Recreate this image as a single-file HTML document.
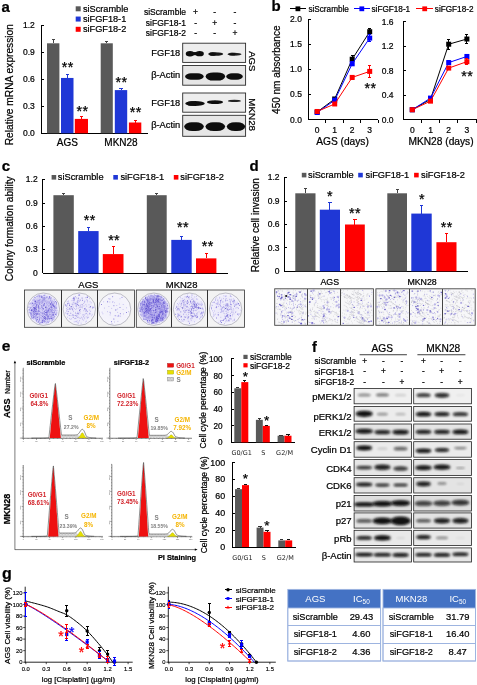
<!DOCTYPE html>
<html><head><meta charset="utf-8"><title>Figure</title>
<style>
html,body{margin:0;padding:0;background:#fff;}
svg{display:block;font-family:"Liberation Sans",sans-serif;}
text:not([fill]):not([stroke]){stroke:#000;stroke-width:.22px}
</style></head><body>
<svg width="477" height="685" viewBox="0 0 477 685">
<defs>
<filter id="b1" x="-20%" y="-60%" width="140%" height="220%"><feGaussianBlur stdDeviation="0.8"/></filter>
<filter id="ba" x="-20%" y="-50%" width="140%" height="200%"><feGaussianBlur stdDeviation="0.55"/></filter>
<filter id="b2" x="-20%" y="-50%" width="140%" height="200%"><feGaussianBlur stdDeviation="1.0"/></filter>
<filter id="b0" x="-20%" y="-20%" width="140%" height="140%"><feGaussianBlur stdDeviation="0.35"/></filter>
<pattern id="hat" width="1.5" height="1.5" patternUnits="userSpaceOnUse"><rect width="1.5" height="1.5" fill="#e8e8e8"/><path d="M0 1.5L1.5 0" stroke="#888" stroke-width="0.4"/></pattern>
</defs>
<rect width="477" height="685" fill="#fff"/>
<text x="1.50" y="11.90" font-size="15" font-weight="bold">a</text>
<line x1="41.20" y1="24.80" x2="41.20" y2="133.30" stroke="#000" stroke-width="1" shape-rendering="crispEdges"/>
<line x1="41.20" y1="133.30" x2="148.00" y2="133.30" stroke="#000" stroke-width="1" shape-rendering="crispEdges"/>
<line x1="41.20" y1="133.30" x2="43.70" y2="133.30" stroke="#000" stroke-width="1" shape-rendering="crispEdges"/>
<text x="34.80" y="136.30" font-size="8.5" text-anchor="end">0.0</text>
<line x1="41.20" y1="106.30" x2="43.70" y2="106.30" stroke="#000" stroke-width="1" shape-rendering="crispEdges"/>
<text x="34.80" y="109.30" font-size="8.5" text-anchor="end">0.3</text>
<line x1="41.20" y1="79.30" x2="43.70" y2="79.30" stroke="#000" stroke-width="1" shape-rendering="crispEdges"/>
<text x="34.80" y="82.30" font-size="8.5" text-anchor="end">0.6</text>
<line x1="41.20" y1="52.30" x2="43.70" y2="52.30" stroke="#000" stroke-width="1" shape-rendering="crispEdges"/>
<text x="34.80" y="55.30" font-size="8.5" text-anchor="end">0.9</text>
<line x1="41.20" y1="25.30" x2="43.70" y2="25.30" stroke="#000" stroke-width="1" shape-rendering="crispEdges"/>
<text x="34.80" y="28.30" font-size="8.5" text-anchor="end">1.2</text>
<text transform="translate(13.20,84.70) rotate(-90)" font-size="10.2" text-anchor="middle">Relative mRNA expression</text>
<rect x="47.00" y="43.30" width="12.40" height="90.00" fill="#595959"/>
<line x1="53.20" y1="43.30" x2="53.20" y2="39.70" stroke="#444" stroke-width="1" shape-rendering="crispEdges"/>
<line x1="51.60" y1="39.70" x2="54.80" y2="39.70" stroke="#444" stroke-width="1" shape-rendering="crispEdges"/>
<rect x="61.00" y="77.95" width="12.50" height="55.35" fill="#1f37d6"/>
<line x1="67.25" y1="77.95" x2="67.25" y2="74.35" stroke="#1f37d6" stroke-width="1" shape-rendering="crispEdges"/>
<line x1="65.65" y1="74.35" x2="68.85" y2="74.35" stroke="#1f37d6" stroke-width="1" shape-rendering="crispEdges"/>
<rect x="74.80" y="118.90" width="13.20" height="14.40" fill="#ff0000"/>
<line x1="81.40" y1="118.90" x2="81.40" y2="116.20" stroke="#ff0000" stroke-width="1" shape-rendering="crispEdges"/>
<line x1="79.80" y1="116.20" x2="83.00" y2="116.20" stroke="#ff0000" stroke-width="1" shape-rendering="crispEdges"/>
<rect x="100.70" y="43.30" width="12.10" height="90.00" fill="#595959"/>
<line x1="106.75" y1="43.30" x2="106.75" y2="41.50" stroke="#444" stroke-width="1" shape-rendering="crispEdges"/>
<line x1="105.15" y1="41.50" x2="108.35" y2="41.50" stroke="#444" stroke-width="1" shape-rendering="crispEdges"/>
<rect x="114.80" y="90.10" width="12.40" height="43.20" fill="#1f37d6"/>
<line x1="121.00" y1="90.10" x2="121.00" y2="88.30" stroke="#1f37d6" stroke-width="1" shape-rendering="crispEdges"/>
<line x1="119.40" y1="88.30" x2="122.60" y2="88.30" stroke="#1f37d6" stroke-width="1" shape-rendering="crispEdges"/>
<rect x="128.90" y="122.50" width="12.40" height="10.80" fill="#ff0000"/>
<line x1="135.10" y1="122.50" x2="135.10" y2="120.25" stroke="#ff0000" stroke-width="1" shape-rendering="crispEdges"/>
<line x1="133.50" y1="120.25" x2="136.70" y2="120.25" stroke="#ff0000" stroke-width="1" shape-rendering="crispEdges"/>
<text x="67.30" y="146.40" font-size="10" text-anchor="middle">AGS</text>
<text x="121.00" y="146.40" font-size="10" text-anchor="middle">MKN28</text>
<rect x="75.70" y="6.30" width="5.00" height="5.00" fill="#595959"/>
<text x="82.90" y="11.70" font-size="9.2">siScramble</text>
<rect x="75.70" y="16.55" width="5.00" height="5.00" fill="#1f37d6"/>
<text x="82.90" y="21.95" font-size="9.2">siFGF18-1</text>
<rect x="75.70" y="26.80" width="5.00" height="5.00" fill="#ff0000"/>
<text x="82.90" y="32.20" font-size="9.2">siFGF18-2</text>
<text x="186.00" y="15.20" font-size="8.5" text-anchor="end">siScramble</text>
<text x="195.60" y="15.10" font-size="8.5" text-anchor="middle">+</text>
<text x="214.70" y="15.10" font-size="8.5" text-anchor="middle">-</text>
<text x="234.90" y="15.10" font-size="8.5" text-anchor="middle">-</text>
<text x="186.00" y="25.80" font-size="8.5" text-anchor="end">siFGF18-1</text>
<text x="195.60" y="25.70" font-size="8.5" text-anchor="middle">-</text>
<text x="214.70" y="25.70" font-size="8.5" text-anchor="middle">+</text>
<text x="234.90" y="25.70" font-size="8.5" text-anchor="middle">-</text>
<text x="186.00" y="36.40" font-size="8.5" text-anchor="end">siFGF18-2</text>
<text x="195.60" y="36.30" font-size="8.5" text-anchor="middle">-</text>
<text x="214.70" y="36.30" font-size="8.5" text-anchor="middle">-</text>
<text x="234.90" y="36.30" font-size="8.5" text-anchor="middle">+</text>
<rect x="182.70" y="43.20" width="62.90" height="19.20" fill="#ededed" stroke="#2a2a2a" stroke-width="0.9"/>
<text x="180.30" y="56.00" font-size="9.3" text-anchor="end">FGF18</text>
<rect x="182.70" y="65.50" width="62.90" height="19.70" fill="#e6e6e6" stroke="#2a2a2a" stroke-width="0.9"/>
<text x="180.30" y="77.95" font-size="9.3" text-anchor="end">β-Actin</text>
<rect x="182.70" y="93.00" width="62.90" height="19.20" fill="#ededed" stroke="#2a2a2a" stroke-width="0.9"/>
<text x="180.30" y="105.80" font-size="9.3" text-anchor="end">FGF18</text>
<rect x="182.70" y="115.30" width="62.90" height="21.00" fill="#e6e6e6" stroke="#2a2a2a" stroke-width="0.9"/>
<text x="180.30" y="128.40" font-size="9.3" text-anchor="end">β-Actin</text>
<ellipse cx="190.00" cy="53.70" rx="4.25" ry="2.70" fill="#0c0c0c" opacity="1.0" filter="url(#ba)"/>
<ellipse cx="199.60" cy="53.70" rx="4.25" ry="2.60" fill="#0c0c0c" opacity="1.0" filter="url(#ba)"/>
<ellipse cx="195.00" cy="53.70" rx="6.00" ry="1.60" fill="#0c0c0c" opacity="1.0" filter="url(#ba)"/>
<ellipse cx="215.70" cy="54.00" rx="7.50" ry="1.80" fill="#0c0c0c" opacity="0.95" filter="url(#ba)"/>
<ellipse cx="212.50" cy="53.90" rx="3.50" ry="2.00" fill="#0c0c0c" opacity="0.8" filter="url(#ba)"/>
<ellipse cx="234.50" cy="54.20" rx="7.00" ry="1.50" fill="#0c0c0c" opacity="0.9" filter="url(#ba)"/>
<ellipse cx="232.00" cy="54.10" rx="3.50" ry="1.70" fill="#0c0c0c" opacity="0.7" filter="url(#ba)"/>
<rect x="185.15" y="73.20" width="18.50" height="6.60" rx="6.27" ry="3.30" fill="#0a0a0a" filter="url(#ba)"/>
<rect x="205.65" y="72.40" width="19.50" height="8.20" rx="7.79" ry="4.10" fill="#0a0a0a" filter="url(#ba)"/>
<rect x="226.25" y="73.20" width="16.50" height="6.60" rx="6.27" ry="3.30" fill="#0a0a0a" filter="url(#ba)"/>
<ellipse cx="195.00" cy="103.50" rx="9.75" ry="2.40" fill="#0c0c0c" opacity="1.0" filter="url(#ba)"/>
<ellipse cx="192.00" cy="103.50" rx="5.00" ry="2.60" fill="#0c0c0c" opacity="0.8" filter="url(#ba)"/>
<ellipse cx="215.00" cy="102.20" rx="8.00" ry="1.90" fill="#0c0c0c" opacity="1.0" filter="url(#ba)"/>
<ellipse cx="234.40" cy="100.90" rx="6.50" ry="1.20" fill="#0c0c0c" opacity="0.9" filter="url(#ba)"/>
<rect x="184.20" y="122.30" width="19.60" height="8.60" rx="8.17" ry="4.30" fill="#0a0a0a" filter="url(#ba)"/>
<rect x="205.50" y="122.30" width="19.60" height="8.60" rx="8.17" ry="4.30" fill="#0a0a0a" filter="url(#ba)"/>
<rect x="226.80" y="122.30" width="18.40" height="8.60" rx="8.17" ry="4.30" fill="#0a0a0a" filter="url(#ba)"/>
<text transform="translate(248.80,61.20) rotate(90)" font-size="9.5" text-anchor="middle">AGS</text>
<text transform="translate(248.80,114.70) rotate(90)" font-size="9.8" text-anchor="middle">MKN28</text>
<text x="67.80" y="72.39" font-size="14.3" text-anchor="middle" stroke="#000" stroke-width="0.25" letter-spacing="0.4">**</text>
<text x="82.40" y="115.79" font-size="14.3" text-anchor="middle" stroke="#000" stroke-width="0.25" letter-spacing="0.4">**</text>
<text x="121.50" y="87.19" font-size="14.3" text-anchor="middle" stroke="#000" stroke-width="0.25" letter-spacing="0.4">**</text>
<text x="135.70" y="117.39" font-size="14.3" text-anchor="middle" stroke="#000" stroke-width="0.25" letter-spacing="0.4">**</text>
<text x="271.60" y="11.30" font-size="15" font-weight="bold">b</text>
<line x1="289.60" y1="8.80" x2="306.20" y2="8.80" stroke="#000" stroke-width="1" shape-rendering="crispEdges"/>
<rect x="295.50" y="6.40" width="4.80" height="4.80" fill="#000"/>
<text x="308.40" y="11.70" font-size="8.2">siScramble</text>
<line x1="353.60" y1="8.80" x2="370.00" y2="8.80" stroke="#0000ff" stroke-width="1" shape-rendering="crispEdges"/>
<rect x="359.40" y="6.40" width="4.80" height="4.80" fill="#0000ff"/>
<text x="371.50" y="11.70" font-size="8.2">siFGF18-1</text>
<line x1="416.40" y1="8.80" x2="433.00" y2="8.80" stroke="#ff0000" stroke-width="1" shape-rendering="crispEdges"/>
<rect x="422.30" y="6.40" width="4.80" height="4.80" fill="#ff0000"/>
<text x="434.80" y="11.70" font-size="8.2">siFGF18-2</text>
<line x1="308.50" y1="18.90" x2="308.50" y2="119.50" stroke="#000" stroke-width="1" shape-rendering="crispEdges"/>
<line x1="308.50" y1="119.50" x2="378.30" y2="119.50" stroke="#000" stroke-width="1" shape-rendering="crispEdges"/>
<line x1="308.50" y1="119.50" x2="311.00" y2="119.50" stroke="#000" stroke-width="1" shape-rendering="crispEdges"/>
<text x="301.90" y="122.50" font-size="8.5" text-anchor="end">0.0</text>
<line x1="308.50" y1="94.45" x2="311.00" y2="94.45" stroke="#000" stroke-width="1" shape-rendering="crispEdges"/>
<text x="301.90" y="97.45" font-size="8.5" text-anchor="end">0.5</text>
<line x1="308.50" y1="69.40" x2="311.00" y2="69.40" stroke="#000" stroke-width="1" shape-rendering="crispEdges"/>
<text x="301.90" y="72.40" font-size="8.5" text-anchor="end">1.0</text>
<line x1="308.50" y1="44.35" x2="311.00" y2="44.35" stroke="#000" stroke-width="1" shape-rendering="crispEdges"/>
<text x="301.90" y="47.35" font-size="8.5" text-anchor="end">1.5</text>
<line x1="308.50" y1="19.30" x2="311.00" y2="19.30" stroke="#000" stroke-width="1" shape-rendering="crispEdges"/>
<text x="301.90" y="22.30" font-size="8.5" text-anchor="end">2.0</text>
<line x1="325.95" y1="119.50" x2="325.95" y2="122.50" stroke="#000" stroke-width="1" shape-rendering="crispEdges"/>
<text x="317.20" y="132.90" font-size="8.5" text-anchor="middle">0</text>
<line x1="343.45" y1="119.50" x2="343.45" y2="122.50" stroke="#000" stroke-width="1" shape-rendering="crispEdges"/>
<text x="334.70" y="132.90" font-size="8.5" text-anchor="middle">1</text>
<line x1="360.95" y1="119.50" x2="360.95" y2="122.50" stroke="#000" stroke-width="1" shape-rendering="crispEdges"/>
<text x="352.20" y="132.90" font-size="8.5" text-anchor="middle">2</text>
<line x1="378.45" y1="119.50" x2="378.45" y2="122.50" stroke="#000" stroke-width="1" shape-rendering="crispEdges"/>
<text x="369.70" y="132.90" font-size="8.5" text-anchor="middle">3</text>
<polyline points="317.20,111.98 334.70,98.96 352.20,59.23 369.70,31.72" fill="none" stroke="#000" stroke-width="1.0"/>
<rect x="314.70" y="109.48" width="5.00" height="5.00" fill="#000"/>
<rect x="332.20" y="96.46" width="5.00" height="5.00" fill="#000"/>
<line x1="352.20" y1="55.72" x2="352.20" y2="62.74" stroke="#000" stroke-width="1" shape-rendering="crispEdges"/>
<line x1="350.70" y1="55.72" x2="353.70" y2="55.72" stroke="#000" stroke-width="1" shape-rendering="crispEdges"/>
<line x1="350.70" y1="62.74" x2="353.70" y2="62.74" stroke="#000" stroke-width="1" shape-rendering="crispEdges"/>
<rect x="349.70" y="56.73" width="5.00" height="5.00" fill="#000"/>
<line x1="369.70" y1="28.72" x2="369.70" y2="34.73" stroke="#000" stroke-width="1" shape-rendering="crispEdges"/>
<line x1="368.20" y1="28.72" x2="371.20" y2="28.72" stroke="#000" stroke-width="1" shape-rendering="crispEdges"/>
<line x1="368.20" y1="34.73" x2="371.20" y2="34.73" stroke="#000" stroke-width="1" shape-rendering="crispEdges"/>
<rect x="367.20" y="29.22" width="5.00" height="5.00" fill="#000"/>
<polyline points="317.20,112.49 334.70,100.21 352.20,63.79 369.70,38.09" fill="none" stroke="#0000ff" stroke-width="1.0"/>
<rect x="314.70" y="109.99" width="5.00" height="5.00" fill="#0000ff"/>
<rect x="332.20" y="97.71" width="5.00" height="5.00" fill="#0000ff"/>
<line x1="352.20" y1="61.78" x2="352.20" y2="65.79" stroke="#0000ff" stroke-width="1" shape-rendering="crispEdges"/>
<line x1="350.70" y1="61.78" x2="353.70" y2="61.78" stroke="#0000ff" stroke-width="1" shape-rendering="crispEdges"/>
<line x1="350.70" y1="65.79" x2="353.70" y2="65.79" stroke="#0000ff" stroke-width="1" shape-rendering="crispEdges"/>
<rect x="349.70" y="61.29" width="5.00" height="5.00" fill="#0000ff"/>
<line x1="369.70" y1="34.58" x2="369.70" y2="41.59" stroke="#0000ff" stroke-width="1" shape-rendering="crispEdges"/>
<line x1="368.20" y1="34.58" x2="371.20" y2="34.58" stroke="#0000ff" stroke-width="1" shape-rendering="crispEdges"/>
<line x1="368.20" y1="41.59" x2="371.20" y2="41.59" stroke="#0000ff" stroke-width="1" shape-rendering="crispEdges"/>
<rect x="367.20" y="35.59" width="5.00" height="5.00" fill="#0000ff"/>
<polyline points="317.20,111.48 334.70,103.97 352.20,77.42 369.70,71.40" fill="none" stroke="#ff0000" stroke-width="1.0"/>
<rect x="314.70" y="108.98" width="5.00" height="5.00" fill="#ff0000"/>
<rect x="332.20" y="101.47" width="5.00" height="5.00" fill="#ff0000"/>
<line x1="352.20" y1="75.41" x2="352.20" y2="79.42" stroke="#ff0000" stroke-width="1" shape-rendering="crispEdges"/>
<line x1="350.70" y1="75.41" x2="353.70" y2="75.41" stroke="#ff0000" stroke-width="1" shape-rendering="crispEdges"/>
<line x1="350.70" y1="79.42" x2="353.70" y2="79.42" stroke="#ff0000" stroke-width="1" shape-rendering="crispEdges"/>
<rect x="349.70" y="74.92" width="5.00" height="5.00" fill="#ff0000"/>
<line x1="369.70" y1="65.39" x2="369.70" y2="77.42" stroke="#ff0000" stroke-width="1" shape-rendering="crispEdges"/>
<line x1="368.20" y1="65.39" x2="371.20" y2="65.39" stroke="#ff0000" stroke-width="1" shape-rendering="crispEdges"/>
<line x1="368.20" y1="77.42" x2="371.20" y2="77.42" stroke="#ff0000" stroke-width="1" shape-rendering="crispEdges"/>
<rect x="367.20" y="68.90" width="5.00" height="5.00" fill="#ff0000"/>
<line x1="403.00" y1="21.18" x2="403.00" y2="119.50" stroke="#000" stroke-width="1" shape-rendering="crispEdges"/>
<line x1="403.00" y1="119.50" x2="477.00" y2="119.50" stroke="#000" stroke-width="1" shape-rendering="crispEdges"/>
<line x1="403.00" y1="119.50" x2="405.50" y2="119.50" stroke="#000" stroke-width="1" shape-rendering="crispEdges"/>
<text x="393.60" y="122.50" font-size="8.5" text-anchor="end">0.0</text>
<line x1="403.00" y1="95.02" x2="405.50" y2="95.02" stroke="#000" stroke-width="1" shape-rendering="crispEdges"/>
<text x="393.60" y="98.02" font-size="8.5" text-anchor="end">0.4</text>
<line x1="403.00" y1="70.54" x2="405.50" y2="70.54" stroke="#000" stroke-width="1" shape-rendering="crispEdges"/>
<text x="393.60" y="73.54" font-size="8.5" text-anchor="end">0.8</text>
<line x1="403.00" y1="46.06" x2="405.50" y2="46.06" stroke="#000" stroke-width="1" shape-rendering="crispEdges"/>
<text x="393.60" y="49.06" font-size="8.5" text-anchor="end">1.2</text>
<line x1="403.00" y1="21.58" x2="405.50" y2="21.58" stroke="#000" stroke-width="1" shape-rendering="crispEdges"/>
<text x="393.60" y="24.58" font-size="8.5" text-anchor="end">1.6</text>
<line x1="421.40" y1="119.50" x2="421.40" y2="122.50" stroke="#000" stroke-width="1" shape-rendering="crispEdges"/>
<text x="412.30" y="132.90" font-size="8.5" text-anchor="middle">0</text>
<line x1="439.60" y1="119.50" x2="439.60" y2="122.50" stroke="#000" stroke-width="1" shape-rendering="crispEdges"/>
<text x="430.50" y="132.90" font-size="8.5" text-anchor="middle">1</text>
<line x1="457.80" y1="119.50" x2="457.80" y2="122.50" stroke="#000" stroke-width="1" shape-rendering="crispEdges"/>
<text x="448.70" y="132.90" font-size="8.5" text-anchor="middle">2</text>
<line x1="476.00" y1="119.50" x2="476.00" y2="122.50" stroke="#000" stroke-width="1" shape-rendering="crispEdges"/>
<text x="466.90" y="132.90" font-size="8.5" text-anchor="middle">3</text>
<polyline points="412.30,109.71 430.50,99.30 448.70,44.22 466.90,39.02" fill="none" stroke="#000" stroke-width="1.0"/>
<rect x="409.80" y="107.21" width="5.00" height="5.00" fill="#000"/>
<rect x="428.00" y="96.80" width="5.00" height="5.00" fill="#000"/>
<line x1="448.70" y1="39.33" x2="448.70" y2="49.12" stroke="#000" stroke-width="1" shape-rendering="crispEdges"/>
<line x1="447.20" y1="39.33" x2="450.20" y2="39.33" stroke="#000" stroke-width="1" shape-rendering="crispEdges"/>
<line x1="447.20" y1="49.12" x2="450.20" y2="49.12" stroke="#000" stroke-width="1" shape-rendering="crispEdges"/>
<rect x="446.20" y="41.72" width="5.00" height="5.00" fill="#000"/>
<line x1="466.90" y1="34.74" x2="466.90" y2="43.31" stroke="#000" stroke-width="1" shape-rendering="crispEdges"/>
<line x1="465.40" y1="34.74" x2="468.40" y2="34.74" stroke="#000" stroke-width="1" shape-rendering="crispEdges"/>
<line x1="465.40" y1="43.31" x2="468.40" y2="43.31" stroke="#000" stroke-width="1" shape-rendering="crispEdges"/>
<rect x="464.40" y="36.52" width="5.00" height="5.00" fill="#000"/>
<polyline points="412.30,109.71 430.50,98.08 448.70,62.58 466.90,56.46" fill="none" stroke="#0000ff" stroke-width="1.0"/>
<rect x="409.80" y="107.21" width="5.00" height="5.00" fill="#0000ff"/>
<rect x="428.00" y="95.58" width="5.00" height="5.00" fill="#0000ff"/>
<line x1="448.70" y1="60.75" x2="448.70" y2="64.42" stroke="#0000ff" stroke-width="1" shape-rendering="crispEdges"/>
<line x1="447.20" y1="60.75" x2="450.20" y2="60.75" stroke="#0000ff" stroke-width="1" shape-rendering="crispEdges"/>
<line x1="447.20" y1="64.42" x2="450.20" y2="64.42" stroke="#0000ff" stroke-width="1" shape-rendering="crispEdges"/>
<rect x="446.20" y="60.08" width="5.00" height="5.00" fill="#0000ff"/>
<line x1="466.90" y1="54.02" x2="466.90" y2="58.91" stroke="#0000ff" stroke-width="1" shape-rendering="crispEdges"/>
<line x1="465.40" y1="54.02" x2="468.40" y2="54.02" stroke="#0000ff" stroke-width="1" shape-rendering="crispEdges"/>
<line x1="465.40" y1="58.91" x2="468.40" y2="58.91" stroke="#0000ff" stroke-width="1" shape-rendering="crispEdges"/>
<rect x="464.40" y="53.96" width="5.00" height="5.00" fill="#0000ff"/>
<polyline points="412.30,109.71 430.50,101.14 448.70,68.09 466.90,61.67" fill="none" stroke="#ff0000" stroke-width="1.0"/>
<rect x="409.80" y="107.21" width="5.00" height="5.00" fill="#ff0000"/>
<rect x="428.00" y="98.64" width="5.00" height="5.00" fill="#ff0000"/>
<line x1="448.70" y1="66.26" x2="448.70" y2="69.93" stroke="#ff0000" stroke-width="1" shape-rendering="crispEdges"/>
<line x1="447.20" y1="66.26" x2="450.20" y2="66.26" stroke="#ff0000" stroke-width="1" shape-rendering="crispEdges"/>
<line x1="447.20" y1="69.93" x2="450.20" y2="69.93" stroke="#ff0000" stroke-width="1" shape-rendering="crispEdges"/>
<rect x="446.20" y="65.59" width="5.00" height="5.00" fill="#ff0000"/>
<line x1="466.90" y1="58.61" x2="466.90" y2="64.73" stroke="#ff0000" stroke-width="1" shape-rendering="crispEdges"/>
<line x1="465.40" y1="58.61" x2="468.40" y2="58.61" stroke="#ff0000" stroke-width="1" shape-rendering="crispEdges"/>
<line x1="465.40" y1="64.73" x2="468.40" y2="64.73" stroke="#ff0000" stroke-width="1" shape-rendering="crispEdges"/>
<rect x="464.40" y="59.17" width="5.00" height="5.00" fill="#ff0000"/>
<text x="342.50" y="145.30" font-size="10.2" text-anchor="middle">AGS (days)</text>
<text x="441.00" y="145.00" font-size="10.2" text-anchor="middle">MKN28 (days)</text>
<text transform="translate(280.30,69.70) rotate(-90)" font-size="10" text-anchor="middle">450 nm absorbance</text>
<text x="370.40" y="92.59" font-size="14.3" text-anchor="middle" stroke="#000" stroke-width="0.25" letter-spacing="0.4">**</text>
<text x="467.30" y="80.99" font-size="14.3" text-anchor="middle" stroke="#000" stroke-width="0.25" letter-spacing="0.4">**</text>
<text x="1.80" y="171.00" font-size="15" font-weight="bold">c</text>
<line x1="42.70" y1="179.20" x2="42.70" y2="273.20" stroke="#000" stroke-width="1" shape-rendering="crispEdges"/>
<line x1="42.70" y1="273.20" x2="227.70" y2="273.20" stroke="#000" stroke-width="1" shape-rendering="crispEdges"/>
<line x1="42.70" y1="273.20" x2="44.90" y2="273.20" stroke="#000" stroke-width="1" shape-rendering="crispEdges"/>
<text x="37.70" y="275.80" font-size="8.5" text-anchor="end">0</text>
<line x1="42.70" y1="249.80" x2="44.90" y2="249.80" stroke="#000" stroke-width="1" shape-rendering="crispEdges"/>
<text x="37.70" y="252.40" font-size="8.5" text-anchor="end">0.3</text>
<line x1="42.70" y1="226.40" x2="44.90" y2="226.40" stroke="#000" stroke-width="1" shape-rendering="crispEdges"/>
<text x="37.70" y="229.00" font-size="8.5" text-anchor="end">0.6</text>
<line x1="42.70" y1="203.00" x2="44.90" y2="203.00" stroke="#000" stroke-width="1" shape-rendering="crispEdges"/>
<text x="37.70" y="205.60" font-size="8.5" text-anchor="end">0.9</text>
<line x1="42.70" y1="179.60" x2="44.90" y2="179.60" stroke="#000" stroke-width="1" shape-rendering="crispEdges"/>
<text x="37.70" y="182.20" font-size="8.5" text-anchor="end">1.2</text>
<text transform="translate(13.00,228.80) rotate(-90)" font-size="10.1" text-anchor="middle">Colony formation ability</text>
<rect x="53.40" y="195.20" width="20.40" height="78.00" fill="#595959"/>
<line x1="63.60" y1="195.20" x2="63.60" y2="193.25" stroke="#444" stroke-width="1" shape-rendering="crispEdges"/>
<line x1="62.00" y1="193.25" x2="65.20" y2="193.25" stroke="#444" stroke-width="1" shape-rendering="crispEdges"/>
<rect x="78.20" y="231.08" width="20.40" height="42.12" fill="#1f37d6"/>
<line x1="88.40" y1="231.08" x2="88.40" y2="227.18" stroke="#1f37d6" stroke-width="1" shape-rendering="crispEdges"/>
<line x1="86.80" y1="227.18" x2="90.00" y2="227.18" stroke="#1f37d6" stroke-width="1" shape-rendering="crispEdges"/>
<rect x="102.80" y="254.09" width="20.70" height="19.11" fill="#ff0000"/>
<line x1="113.15" y1="254.09" x2="113.15" y2="246.84" stroke="#ff0000" stroke-width="1" shape-rendering="crispEdges"/>
<line x1="111.55" y1="246.84" x2="114.75" y2="246.84" stroke="#ff0000" stroke-width="1" shape-rendering="crispEdges"/>
<rect x="146.80" y="195.20" width="19.90" height="78.00" fill="#595959"/>
<line x1="156.75" y1="195.20" x2="156.75" y2="193.25" stroke="#444" stroke-width="1" shape-rendering="crispEdges"/>
<line x1="155.15" y1="193.25" x2="158.35" y2="193.25" stroke="#444" stroke-width="1" shape-rendering="crispEdges"/>
<rect x="171.30" y="239.89" width="20.40" height="33.31" fill="#1f37d6"/>
<line x1="181.50" y1="239.89" x2="181.50" y2="236.15" stroke="#1f37d6" stroke-width="1" shape-rendering="crispEdges"/>
<line x1="179.90" y1="236.15" x2="183.10" y2="236.15" stroke="#1f37d6" stroke-width="1" shape-rendering="crispEdges"/>
<rect x="196.00" y="258.38" width="20.40" height="14.82" fill="#ff0000"/>
<line x1="206.20" y1="258.38" x2="206.20" y2="253.31" stroke="#ff0000" stroke-width="1" shape-rendering="crispEdges"/>
<line x1="204.60" y1="253.31" x2="207.80" y2="253.31" stroke="#ff0000" stroke-width="1" shape-rendering="crispEdges"/>
<text x="88.40" y="287.70" font-size="9.5" text-anchor="middle">AGS</text>
<text x="181.60" y="287.70" font-size="9.5" text-anchor="middle">MKN28</text>
<rect x="51.60" y="175.00" width="4.60" height="4.60" fill="#595959"/>
<text x="57.80" y="180.40" font-size="9.25">siScramble</text>
<rect x="113.30" y="175.00" width="4.60" height="4.60" fill="#1f37d6"/>
<text x="120.40" y="180.40" font-size="9.25">siFGF18-1</text>
<rect x="173.80" y="175.00" width="4.60" height="4.60" fill="#ff0000"/>
<text x="180.30" y="180.40" font-size="9.25">siFGF18-2</text>
<rect x="24.50" y="290.00" width="110.00" height="37.30" fill="#f3f3f3" stroke="#333" stroke-width="0.8"/>
<line x1="61.00" y1="290.00" x2="61.00" y2="327.30" stroke="#333" stroke-width="1" shape-rendering="crispEdges"/>
<line x1="97.50" y1="290.00" x2="97.50" y2="327.30" stroke="#333" stroke-width="1" shape-rendering="crispEdges"/>
<circle cx="43.4" cy="309.2" r="16.2" fill="#f6f5fc" stroke="#8f8f9c" stroke-width="0.55"/>
<circle cx="43.4" cy="309.2" r="14.0" fill="#6f60e0" opacity="0.24" filter="url(#b2)"/>
<path d="M47.0 310.7h0M42.6 297.4h0M46.0 310.3h0M44.9 300.9h0M49.2 303.4h0M40.8 323.7h0M41.2 301.2h0M53.9 314.4h0M34.5 312.2h0M31.3 310.2h0M56.2 308.0h0M54.6 307.4h0M47.4 308.0h0M51.2 307.0h0M43.9 320.6h0M53.3 306.6h0M45.8 314.5h0M43.4 315.6h0M48.1 322.7h0M44.3 321.5h0M49.8 312.1h0M37.5 304.1h0M36.7 312.8h0M54.7 300.0h0M30.9 310.6h0M53.1 314.1h0M42.4 296.9h0M36.1 319.0h0M32.1 315.7h0M37.0 302.8h0M53.7 314.9h0M42.1 300.1h0M54.6 311.3h0M51.9 315.4h0M30.7 307.7h0M36.2 309.3h0M45.4 314.6h0M35.0 316.7h0M34.5 307.8h0M47.8 301.3h0M40.6 296.0h0M47.1 302.4h0M41.7 317.8h0M37.5 302.0h0M42.1 322.1h0M47.0 312.4h0M40.6 312.2h0M42.9 321.6h0M50.2 310.8h0M53.2 305.8h0M49.8 312.4h0M50.2 316.4h0M35.5 317.0h0M52.8 305.8h0M51.6 310.0h0M55.8 301.8h0M45.5 301.2h0M40.9 312.6h0M41.2 295.9h0M48.8 318.3h0M45.9 315.8h0M53.4 304.9h0M36.1 301.4h0M56.9 313.0h0M29.8 312.8h0M43.6 319.5h0M56.4 303.7h0M49.8 310.1h0M39.6 317.1h0M45.2 310.8h0M48.6 298.9h0M36.7 307.7h0M38.8 306.4h0M39.8 314.3h0M47.8 321.4h0M51.4 306.1h0M53.5 305.3h0M48.8 312.6h0M43.9 298.8h0M34.2 311.9h0M51.8 303.5h0M54.4 299.7h0M44.3 317.7h0M55.7 310.2h0M45.5 318.8h0M54.2 316.5h0M52.4 309.6h0M47.5 319.7h0M42.5 314.1h0M48.2 318.7h0M37.7 311.8h0M33.7 309.7h0M46.1 307.3h0M41.3 315.7h0M39.5 297.0h0M37.2 302.3h0M36.4 307.2h0M30.1 303.1h0M53.5 314.4h0M46.4 309.2h0M35.5 303.7h0M45.2 316.0h0M36.1 306.3h0M35.1 309.0h0M42.0 306.1h0M32.5 303.1h0M45.5 321.5h0M47.8 310.5h0M52.3 320.5h0M39.8 313.7h0M45.2 317.7h0M45.3 298.7h0M45.9 297.8h0M48.4 309.6h0M51.4 306.9h0M47.5 317.3h0M35.8 311.2h0M34.7 310.1h0M52.6 319.4h0M49.3 297.1h0M34.7 303.8h0M47.1 311.2h0M40.2 301.8h0M53.3 303.8h0M44.1 300.8h0M30.6 303.3h0M31.2 314.2h0M31.9 317.6h0M34.3 308.3h0M47.0 297.1h0M32.7 306.2h0M44.6 305.7h0M47.0 311.3h0M39.1 303.3h0M30.7 307.5h0M55.2 306.8h0M41.2 297.0h0M48.9 298.5h0M50.4 297.2h0M31.2 307.4h0M38.5 311.9h0M39.1 313.4h0M52.3 317.0h0M34.7 311.5h0M40.9 315.2h0M35.2 303.3h0M50.8 303.5h0M33.4 299.0h0M34.1 310.1h0M44.0 304.8h0M44.5 314.5h0M47.0 296.8h0M54.3 302.6h0M43.6 318.7h0M44.2 303.7h0M52.0 318.5h0M51.2 304.6h0M51.7 315.0h0M31.8 302.2h0M46.2 319.7h0M33.2 310.8h0M47.1 314.5h0M42.5 307.9h0M44.3 320.2h0M49.8 315.9h0M35.6 307.2h0M39.7 302.8h0M36.6 321.7h0M53.1 305.2h0M51.7 303.4h0M52.7 310.1h0M46.3 297.6h0M34.8 310.5h0M45.8 317.3h0M51.0 316.1h0M53.9 308.3h0M48.1 322.7h0M36.3 313.8h0M54.9 316.7h0M31.4 312.9h0M39.8 308.1h0M53.0 312.7h0M33.6 316.4h0M46.5 303.7h0M31.5 314.1h0M51.7 319.0h0M34.6 301.4h0M45.7 317.4h0M48.3 318.6h0M52.2 320.6h0M33.5 315.3h0M43.5 299.0h0M49.2 301.8h0M52.2 303.2h0M53.6 301.8h0M47.1 321.7h0M54.5 317.8h0M56.2 304.1h0M49.6 302.7h0M49.5 319.4h0M43.7 309.1h0M35.2 310.8h0M51.1 318.7h0M35.5 311.5h0M48.0 316.2h0M51.1 312.2h0M55.1 310.4h0M36.4 307.7h0M38.6 302.6h0M42.0 318.6h0M55.9 305.7h0M36.5 311.1h0M35.4 309.1h0M38.5 308.4h0M48.3 305.4h0M54.3 316.3h0M40.3 308.6h0M45.7 315.0h0M51.4 305.3h0M32.8 318.6h0M36.8 296.5h0M51.2 310.8h0M56.0 307.9h0M44.1 304.3h0M36.3 307.0h0M42.7 320.0h0M42.9 315.8h0M47.8 314.8h0M32.4 303.2h0M48.7 317.7h0M38.9 314.3h0M39.0 308.5h0M56.7 303.5h0M54.8 307.5h0M50.0 305.8h0M56.7 304.5h0M35.5 300.7h0M50.8 300.7h0M32.8 317.6h0M45.3 317.7h0M46.8 314.9h0M39.9 318.4h0M47.7 304.2h0M48.1 318.2h0M42.8 298.7h0M44.3 303.8h0M54.2 319.2h0M48.9 302.0h0M39.5 302.1h0M42.6 321.7h0M52.2 303.0h0M37.0 300.1h0M31.3 303.9h0M52.9 314.7h0M52.7 318.2h0M29.2 310.1h0M45.9 323.1h0M36.1 319.2h0M54.4 302.0h0M34.2 305.8h0M36.2 311.0h0M39.5 321.1h0M32.0 315.7h0M51.4 310.9h0M45.5 307.6h0M32.5 309.7h0M41.2 322.4h0M40.2 317.4h0M50.6 307.1h0M52.5 301.1h0M36.1 310.6h0M37.8 295.9h0M34.5 297.6h0M35.4 318.1h0M35.4 318.6h0M53.9 299.0h0M38.4 321.8h0M54.6 312.1h0M38.2 316.9h0M43.2 320.9h0M48.9 321.6h0M53.4 319.8h0M40.0 303.0h0M34.6 297.6h0M31.3 310.2h0M46.6 309.0h0M35.4 313.8h0M31.9 317.1h0M45.2 312.6h0M39.3 303.6h0M50.4 317.9h0M42.0 320.2h0M41.6 313.0h0M43.0 308.4h0M33.2 305.2h0M46.8 302.7h0M53.2 305.3h0M34.6 312.4h0M48.4 317.3h0M35.8 302.9h0M39.6 319.2h0M45.0 295.1h0M31.7 316.8h0M51.1 307.5h0M46.7 301.0h0M40.8 323.0h0M34.3 309.2h0M33.5 314.4h0M30.3 315.3h0M41.7 303.2h0M51.3 306.5h0M49.0 308.8h0M39.2 303.9h0M50.6 300.1h0M53.5 318.0h0M38.6 301.0h0M35.3 301.1h0M35.5 310.8h0M38.5 320.8h0M46.9 305.3h0M44.7 322.6h0M49.7 297.7h0M56.0 314.6h0M31.4 309.5h0M56.3 313.9h0M51.3 304.1h0M50.0 307.3h0M41.4 307.5h0M39.0 309.5h0M37.6 322.3h0M52.4 308.9h0M51.4 297.4h0M51.3 306.4h0M46.8 312.8h0M39.3 314.3h0M42.6 300.4h0M50.5 318.5h0M35.0 314.6h0M36.4 319.3h0M40.4 322.6h0M39.0 300.3h0M42.9 297.8h0M45.4 319.7h0M47.9 309.9h0M52.8 319.5h0M36.2 320.4h0M39.0 307.9h0M34.6 308.8h0M56.6 308.4h0M36.9 311.8h0M33.7 316.1h0M34.3 300.4h0M57.0 310.6h0M52.0 310.5h0M53.4 317.6h0M35.2 303.2h0M29.1 312.3h0M51.6 321.2h0M33.0 300.3h0M49.2 309.6h0M42.0 303.5h0M29.8 312.1h0M44.9 300.1h0M39.7 304.5h0M35.5 297.8h0M29.4 309.1h0M34.5 317.0h0M34.5 308.1h0M39.4 318.6h0M42.0 309.3h0M54.7 309.7h0M36.1 304.0h0M36.4 304.8h0M35.9 303.8h0M54.5 312.6h0M42.0 307.5h0M42.4 308.7h0M37.2 296.0h0M31.3 313.2h0M38.7 311.2h0M47.9 311.4h0M53.9 306.1h0M46.3 318.3h0M33.5 308.8h0M36.9 296.6h0M49.0 318.9h0M47.9 316.7h0M34.9 316.4h0M34.6 304.1h0M41.1 302.5h0M34.5 317.9h0M29.9 303.9h0M36.4 309.8h0M32.8 308.7h0M48.9 317.9h0M52.0 307.6h0M51.1 306.8h0M52.7 318.0h0M54.2 303.6h0M41.8 301.4h0M43.2 317.2h0M47.4 317.4h0M48.7 316.7h0M46.4 312.4h0M48.1 310.1h0M31.8 314.9h0M31.3 310.6h0M46.1 312.8h0M40.0 304.6h0M45.7 310.2h0M38.0 296.7h0M52.8 314.2h0M37.1 317.4h0M29.8 304.1h0M34.0 310.3h0M40.7 299.7h0M53.6 310.5h0M34.7 301.7h0M39.4 299.4h0M56.7 307.1h0M42.4 310.7h0M33.5 303.9h0M35.2 297.6h0M50.7 307.9h0M44.3 321.1h0M43.0 323.0h0M30.5 308.5h0M49.9 305.2h0M47.0 310.9h0M32.9 315.1h0M47.1 322.7h0M56.6 315.2h0M34.1 312.4h0M52.2 307.5h0M46.9 313.3h0M50.3 311.1h0M51.4 310.8h0M48.4 306.6h0M36.7 305.4h0M31.1 313.9h0M49.1 313.8h0M36.1 305.9h0M32.3 312.1h0M48.6 322.5h0M32.9 300.0h0M46.2 314.0h0M33.2 314.0h0M31.3 309.8h0M37.9 300.8h0M44.8 295.1h0M33.3 316.2h0M42.8 308.6h0M51.3 311.7h0M44.8 318.7h0M51.2 312.1h0M52.6 305.1h0M35.1 316.0h0M46.7 312.9h0M33.2 309.8h0M34.8 309.0h0M48.9 311.4h0M47.0 297.3h0M49.3 321.1h0M37.8 311.0h0M39.2 300.9h0M49.2 308.3h0M46.4 318.5h0M56.2 314.1h0M51.2 301.3h0M34.3 309.7h0M44.7 305.4h0M47.7 313.1h0M42.5 307.0h0M38.9 300.4h0M39.5 315.9h0M56.7 312.2h0M43.2 301.9h0M32.8 312.9h0M46.4 323.0h0M51.9 313.8h0M34.3 299.6h0M54.0 305.5h0M39.8 300.5h0M33.7 312.3h0M45.7 310.0h0M45.0 302.1h0M35.2 301.8h0M38.7 310.1h0M32.2 310.1h0M49.3 314.7h0M34.0 308.7h0M42.8 322.3h0M36.9 316.5h0M36.7 302.6h0M33.7 312.0h0M33.5 319.0h0M33.6 316.2h0M46.6 311.1h0M45.3 317.0h0M38.0 301.0h0M48.7 303.1h0M46.7 314.8h0M43.2 298.0h0M33.3 305.1h0" stroke="#5b4dd6" stroke-width="0.65" stroke-linecap="round" opacity="0.55"/>
<path d="M33.7 311.5h0M38.8 310.8h0M51.6 318.5h0M31.9 318.2h0M42.3 313.0h0M39.2 311.4h0M36.9 304.7h0M32.1 310.8h0M38.7 306.4h0M32.3 303.4h0M30.9 314.1h0M50.5 303.8h0M44.1 321.0h0M44.6 299.0h0M55.5 314.3h0M44.7 303.8h0M29.1 309.9h0M46.6 312.3h0M43.2 313.8h0M39.3 296.1h0M55.7 301.6h0M36.9 314.4h0M44.2 297.4h0M52.4 312.2h0M42.7 302.1h0M45.5 307.2h0M43.2 300.0h0M35.4 313.1h0M48.7 310.9h0M49.8 318.5h0M48.2 316.0h0M53.5 315.1h0M39.6 323.2h0M53.9 312.8h0M31.2 316.2h0M41.5 305.9h0M36.8 320.8h0M36.8 314.2h0M36.2 309.4h0M49.7 296.5h0M37.2 317.5h0M37.6 319.4h0M50.3 304.5h0M39.6 319.9h0M37.9 314.2h0M31.5 310.1h0M47.9 316.2h0M48.3 310.2h0M42.4 320.4h0M46.9 315.7h0M49.7 297.8h0M47.0 314.2h0M28.9 307.2h0M44.4 313.8h0M47.4 318.9h0M44.4 318.5h0M44.0 312.1h0M42.6 322.3h0M45.8 307.7h0M56.4 302.7h0M50.9 298.7h0M50.9 309.5h0M34.4 307.6h0M35.8 307.1h0M38.1 307.1h0M53.1 305.3h0M44.5 311.3h0M34.4 310.1h0M33.5 307.5h0M49.2 308.7h0M35.9 311.5h0M35.6 308.4h0M44.0 295.4h0M45.6 312.5h0M31.6 310.7h0M39.0 295.2h0M45.7 317.9h0M43.2 305.0h0M41.8 296.3h0M51.3 317.0h0M30.5 313.0h0M47.7 312.0h0M37.8 313.3h0M43.5 305.8h0M52.8 315.1h0M44.5 316.5h0M51.6 302.3h0M38.7 307.7h0M33.5 317.6h0M36.8 305.8h0M42.7 316.5h0M37.0 313.6h0M38.4 322.0h0M34.5 314.3h0M38.6 305.3h0M34.5 308.6h0M43.5 308.8h0M53.5 306.2h0M41.5 297.3h0M52.7 304.4h0M35.4 301.7h0M51.4 307.9h0M54.6 306.4h0M35.9 308.9h0M55.0 308.1h0M50.1 314.3h0M43.9 317.6h0M36.1 315.4h0M41.9 322.2h0M46.1 307.0h0M35.6 301.4h0M45.6 319.1h0M33.9 313.4h0" stroke="#4434c4" stroke-width="1.0" stroke-linecap="round" opacity="0.7"/>
<circle cx="79.3" cy="309.2" r="16.2" fill="#f6f5fc" stroke="#8f8f9c" stroke-width="0.55"/>
<circle cx="79.3" cy="309.2" r="14.0" fill="#6f60e0" opacity="0.05" filter="url(#b2)"/>
<path d="M76.3 321.5h0M82.6 319.2h0M80.6 305.1h0M75.7 303.3h0M68.1 313.3h0M87.4 301.8h0M74.3 300.4h0M76.6 305.9h0M78.3 323.4h0M76.6 316.1h0M85.7 311.0h0M80.1 313.2h0M67.9 309.3h0M73.5 315.5h0M83.7 303.5h0M73.3 307.3h0M77.6 300.5h0M93.9 307.7h0M89.2 307.5h0M73.3 300.4h0M67.4 313.5h0M87.4 311.6h0M67.0 313.6h0M78.8 314.6h0M89.7 313.2h0M79.2 312.1h0M78.4 317.2h0M90.1 301.7h0M66.6 306.4h0M87.4 311.3h0M67.8 309.8h0M86.7 313.4h0M77.0 315.0h0M73.6 311.6h0M75.8 309.5h0M82.7 306.2h0M70.2 319.3h0M78.1 299.1h0M75.7 321.7h0M80.0 306.0h0M75.2 296.8h0M83.8 310.7h0M79.4 307.3h0M75.2 304.7h0M86.2 316.9h0M69.5 315.5h0M71.2 308.3h0M73.7 304.1h0M72.3 315.4h0M77.5 304.3h0M87.3 300.5h0M93.3 307.5h0M74.2 321.9h0M76.5 308.2h0M76.6 303.4h0M86.3 309.6h0M77.8 302.7h0M73.2 302.4h0M77.6 301.6h0M86.8 299.6h0M70.9 313.4h0M71.0 306.8h0M68.8 302.9h0M76.0 318.3h0M85.7 297.7h0M77.4 312.2h0M84.4 315.1h0M77.2 316.0h0M69.3 318.4h0M83.3 320.1h0M80.4 318.3h0M74.7 298.3h0M84.4 308.9h0M75.5 313.6h0M86.0 311.6h0M81.6 317.2h0M86.7 306.2h0M70.9 315.6h0M86.2 313.6h0M70.4 309.4h0M72.0 300.6h0M65.6 312.9h0M71.4 318.8h0M76.4 297.9h0M84.3 302.2h0M72.5 308.3h0M84.0 305.9h0M76.4 316.1h0M66.9 311.6h0M74.0 302.1h0M83.6 314.8h0M89.0 304.8h0M77.3 302.4h0M73.6 299.7h0M90.1 306.7h0M89.3 310.1h0M91.8 315.8h0M86.9 297.6h0M84.4 301.8h0M66.5 310.2h0M77.2 322.7h0M68.1 301.7h0M78.1 305.7h0M84.7 318.7h0M74.5 318.6h0M79.3 301.3h0M80.3 311.1h0M87.8 314.9h0M69.4 304.8h0M85.9 304.7h0M82.6 307.8h0M72.8 298.7h0M66.7 308.5h0M86.5 310.4h0M73.9 300.6h0M71.0 307.9h0M82.7 314.9h0M72.7 314.6h0M87.3 318.3h0M84.3 308.8h0M85.4 308.3h0M69.7 308.2h0M83.5 316.5h0M72.8 306.0h0M71.1 308.9h0M81.1 323.2h0M93.0 306.7h0M67.8 307.4h0M65.9 305.0h0M90.5 311.3h0M90.7 306.6h0M77.0 301.8h0M91.2 302.8h0M69.1 315.4h0M78.7 295.4h0M67.4 317.2h0M85.3 313.9h0M78.8 322.1h0M68.5 311.5h0M66.1 306.0h0M84.9 301.1h0M79.4 309.9h0M67.4 304.4h0M73.2 314.8h0M86.2 310.6h0M68.2 311.5h0M78.2 308.2h0M72.9 310.4h0M85.8 309.5h0M77.1 320.9h0M75.5 296.6h0M84.1 317.4h0M75.6 312.4h0M92.2 314.3h0M68.9 303.5h0M69.7 304.1h0M67.1 301.8h0M78.0 302.2h0M78.4 300.7h0M89.4 298.7h0M86.5 321.2h0M85.7 322.0h0M79.5 320.7h0M77.5 317.5h0M74.3 308.5h0M70.4 313.2h0M82.2 318.0h0M70.7 306.4h0M68.3 300.9h0M67.6 314.4h0M75.4 318.4h0M76.9 304.2h0M73.6 297.3h0M67.0 305.6h0M79.3 318.0h0" stroke="#5b4dd6" stroke-width="0.65" stroke-linecap="round" opacity="0.55"/>
<path d="M69.5 305.6h0M67.8 303.5h0M81.0 307.1h0M79.4 310.6h0M80.2 309.4h0M78.3 298.2h0M74.5 299.1h0M82.1 298.1h0M72.7 309.3h0M82.1 304.7h0M79.0 294.9h0M84.8 308.8h0M69.3 309.0h0M65.7 305.0h0M78.3 313.3h0M92.7 307.9h0M75.2 315.6h0M74.0 297.8h0M73.6 298.6h0M77.2 304.4h0M87.3 297.0h0M88.0 317.3h0M80.2 300.1h0M90.5 306.8h0M82.4 300.3h0M76.1 306.1h0M73.2 317.3h0M79.7 295.1h0M78.7 305.3h0M71.4 306.6h0M89.9 313.9h0M72.2 304.2h0M87.3 297.4h0M77.2 313.6h0M75.1 303.3h0" stroke="#4434c4" stroke-width="1.0" stroke-linecap="round" opacity="0.7"/>
<circle cx="114.6" cy="309.2" r="16.2" fill="#f6f5fc" stroke="#8f8f9c" stroke-width="0.55"/>
<circle cx="114.6" cy="309.2" r="14.0" fill="#6f60e0" opacity="0.01" filter="url(#b2)"/>
<path d="M120.4 316.2h0M116.8 305.5h0M113.8 319.0h0M115.9 315.9h0M126.6 307.8h0M109.8 302.0h0M113.8 319.0h0M102.9 313.8h0M108.4 298.7h0M110.4 312.4h0M119.3 304.0h0M107.6 311.7h0M114.5 322.0h0M107.4 301.4h0M112.6 302.3h0M108.9 306.5h0M103.7 301.8h0M120.0 298.7h0M118.2 315.9h0M123.5 313.9h0M123.1 309.5h0M104.5 308.1h0M116.4 309.9h0M110.1 314.9h0M115.2 315.5h0M113.9 319.2h0M119.1 316.0h0M118.3 316.1h0M117.7 309.0h0M112.0 323.5h0M117.9 316.3h0M118.5 315.3h0M123.2 304.5h0M114.3 302.7h0M111.7 308.4h0M117.7 312.4h0M112.9 301.5h0M115.1 315.8h0M117.9 321.4h0M110.5 313.3h0M109.7 312.3h0M102.1 312.2h0M128.4 311.7h0" stroke="#5b4dd6" stroke-width="0.65" stroke-linecap="round" opacity="0.55"/>
<path d="M112.7 296.7h0M107.7 301.9h0M126.5 312.5h0M101.5 304.5h0M111.5 321.7h0M120.3 313.7h0M120.0 307.5h0M122.0 297.4h0M113.9 305.7h0M109.9 299.0h0M115.4 310.0h0" stroke="#4434c4" stroke-width="1.0" stroke-linecap="round" opacity="0.7"/>
<rect x="136.30" y="290.00" width="108.20" height="37.30" fill="#f3f3f3" stroke="#333" stroke-width="0.8"/>
<line x1="171.50" y1="290.00" x2="171.50" y2="327.30" stroke="#333" stroke-width="1" shape-rendering="crispEdges"/>
<line x1="207.20" y1="290.00" x2="207.20" y2="327.30" stroke="#333" stroke-width="1" shape-rendering="crispEdges"/>
<circle cx="153.9" cy="309.2" r="16.2" fill="#f6f5fc" stroke="#8f8f9c" stroke-width="0.55"/>
<circle cx="153.9" cy="309.2" r="14.0" fill="#6f60e0" opacity="0.36" filter="url(#b2)"/>
<path d="M165.8 314.7h0M152.4 320.7h0M140.5 314.3h0M159.9 311.5h0M149.6 303.5h0M146.1 297.2h0M163.8 313.9h0M150.9 313.9h0M155.1 301.0h0M161.0 320.9h0M155.6 316.8h0M143.0 305.2h0M157.2 318.1h0M154.1 315.2h0M154.6 303.4h0M163.0 306.8h0M142.3 301.8h0M157.4 298.5h0M155.9 319.3h0M159.7 309.6h0M153.6 306.7h0M157.8 296.0h0M142.1 302.6h0M156.1 308.6h0M160.6 300.2h0M160.3 320.8h0M158.4 317.0h0M158.1 304.5h0M143.5 318.1h0M158.2 303.6h0M167.2 308.4h0M149.2 318.6h0M154.2 302.8h0M155.0 312.8h0M161.9 300.4h0M164.2 307.7h0M151.1 299.5h0M156.0 310.2h0M155.0 315.9h0M154.7 318.3h0M158.1 308.2h0M151.1 295.6h0M154.5 297.2h0M150.9 302.6h0M143.9 300.4h0M162.1 309.5h0M165.8 304.8h0M147.9 301.4h0M150.8 302.4h0M157.4 320.0h0M163.3 305.5h0M152.7 315.2h0M149.8 302.6h0M146.1 315.0h0M159.2 307.2h0M158.2 299.9h0M145.2 304.1h0M162.6 313.5h0M150.8 304.4h0M143.9 306.9h0M157.2 313.9h0M167.1 310.0h0M158.4 316.6h0M157.5 317.0h0M160.8 310.6h0M147.0 299.6h0M148.5 303.5h0M149.7 304.8h0M161.0 320.7h0M151.0 303.0h0M140.2 306.3h0M167.2 304.1h0M153.8 302.9h0M147.9 312.9h0M156.7 296.5h0M155.3 299.8h0M140.8 302.7h0M154.4 294.6h0M156.4 319.6h0M152.2 314.9h0M143.8 311.5h0M146.4 303.8h0M148.9 307.9h0M144.2 303.7h0M150.2 300.8h0M147.2 317.9h0M146.9 304.4h0M153.9 314.5h0M163.1 316.2h0M162.5 318.8h0M152.3 316.6h0M147.7 308.6h0M144.1 312.8h0M146.2 300.3h0M154.3 297.5h0M147.3 311.1h0M150.0 316.7h0M154.4 302.6h0M160.1 312.9h0M144.8 304.5h0M157.5 300.6h0M148.6 296.4h0M162.8 311.9h0M165.3 312.0h0M147.8 299.0h0M163.0 316.9h0M156.1 315.7h0M157.9 305.5h0M160.7 311.2h0M160.0 320.1h0M154.0 318.0h0M157.9 307.0h0M147.3 321.4h0M161.3 306.0h0M148.5 303.7h0M144.3 301.0h0M164.4 300.9h0M150.7 299.1h0M143.0 314.3h0M160.3 302.1h0M159.1 317.2h0M145.2 307.4h0M159.7 300.2h0M165.1 306.9h0M142.2 307.0h0M149.1 301.2h0M159.9 320.9h0M156.3 309.9h0M154.5 314.4h0M146.7 313.6h0M156.1 301.5h0M155.4 321.5h0M158.2 309.1h0M142.0 312.2h0M147.3 309.3h0M162.8 302.8h0M159.6 296.4h0M161.7 317.7h0M163.5 313.3h0M155.0 303.3h0M153.9 302.9h0M154.5 313.0h0M155.4 298.7h0M153.6 300.3h0M145.2 298.4h0M146.7 308.5h0M147.6 301.1h0M141.4 306.5h0M152.8 321.2h0M157.6 306.7h0M154.6 302.3h0M159.9 320.5h0M140.3 304.4h0M144.7 316.2h0M160.8 311.4h0M168.1 308.5h0M142.7 309.8h0M157.0 305.6h0M159.2 319.1h0M157.0 309.9h0M155.7 302.3h0M162.5 320.5h0M160.7 320.5h0M161.8 321.2h0M143.7 316.5h0M156.8 307.5h0M148.9 306.6h0M156.9 318.5h0M159.5 314.3h0M155.7 323.7h0M165.4 303.2h0M167.1 304.5h0M156.9 296.8h0M158.2 308.1h0M165.9 301.3h0M162.2 307.7h0M144.9 315.4h0M162.2 315.7h0M143.3 312.4h0M147.8 312.7h0M147.4 301.7h0M161.0 297.9h0M154.1 306.4h0M165.3 302.7h0M163.9 311.3h0M163.3 305.8h0M157.5 316.7h0M155.1 312.0h0M141.8 303.6h0M144.1 308.5h0M160.7 308.6h0M153.3 300.6h0M167.0 309.2h0M157.0 319.5h0M162.9 320.0h0M145.3 299.0h0M151.4 321.0h0M144.5 319.2h0M154.1 316.7h0M156.0 320.4h0M144.3 309.6h0M144.9 310.3h0M164.7 308.6h0M150.3 308.7h0M153.5 311.1h0M152.1 305.8h0M150.5 314.3h0M150.4 299.6h0M167.0 307.1h0M158.4 297.2h0M164.0 308.9h0M155.9 303.9h0M153.9 322.2h0M159.9 312.1h0M164.3 314.2h0M159.2 305.4h0M164.9 308.7h0M155.5 301.2h0M156.0 319.0h0M144.6 306.9h0M149.5 302.7h0M149.9 310.2h0M146.6 319.2h0M158.1 320.2h0M159.3 302.1h0M148.4 308.9h0M159.6 299.5h0M157.6 311.1h0M164.4 301.3h0M146.0 309.3h0M145.2 310.6h0M157.8 320.1h0M163.2 299.9h0M161.9 297.6h0M147.6 309.6h0M153.2 319.3h0M146.6 308.0h0M157.5 305.7h0M154.1 319.8h0M148.9 311.1h0M156.1 304.2h0M152.3 298.3h0M164.7 311.2h0M158.4 300.5h0M155.3 319.5h0M154.6 303.0h0M152.9 310.1h0M161.7 308.0h0M147.4 312.2h0M156.4 315.9h0M146.0 317.4h0M147.6 321.8h0M150.5 311.6h0M162.5 318.6h0M149.0 322.9h0M145.8 301.7h0M160.1 313.2h0M159.9 318.1h0M167.4 310.9h0M155.9 299.9h0M165.5 317.9h0M162.9 314.3h0M148.5 301.8h0M158.7 313.7h0M144.4 313.2h0M142.7 304.8h0M146.0 305.4h0M157.5 302.5h0M160.8 318.2h0M150.6 318.0h0M163.2 315.0h0M147.1 301.4h0M148.6 305.9h0M148.6 317.2h0M166.2 317.0h0M156.5 318.2h0M160.0 311.3h0M164.2 318.5h0M162.8 313.8h0M146.5 306.5h0M158.6 306.5h0M156.7 303.3h0M147.9 306.6h0M148.5 308.5h0M159.8 308.1h0M160.2 309.7h0M154.2 295.2h0M142.9 311.5h0M156.3 311.9h0M152.2 322.4h0M158.6 311.8h0M156.9 314.7h0M161.7 316.3h0M150.7 312.9h0M144.1 313.1h0M153.0 318.2h0M160.3 308.8h0M154.3 318.4h0M161.2 314.1h0M164.9 306.9h0M156.1 321.5h0M150.5 303.8h0M147.1 296.9h0M152.7 305.4h0M160.4 310.3h0M162.4 313.4h0M167.8 312.4h0M153.3 297.3h0M149.1 312.4h0M149.8 306.5h0M163.8 305.5h0M142.5 304.6h0M147.4 307.7h0M159.3 317.6h0M163.7 318.7h0M157.7 308.7h0M150.0 303.2h0M147.9 303.9h0M158.8 296.1h0M161.7 311.9h0M151.9 302.7h0M154.2 296.1h0M146.8 305.4h0M148.8 300.8h0M142.5 308.1h0M158.8 315.9h0M165.9 317.7h0M161.8 312.4h0M147.4 305.2h0M154.2 304.2h0M156.1 297.8h0M161.9 299.7h0M148.1 309.8h0M149.1 310.1h0M148.3 312.0h0M151.8 310.0h0M155.9 310.0h0M159.9 299.6h0M153.0 316.2h0M155.9 320.6h0M152.4 295.6h0M155.3 295.7h0M153.7 301.5h0M158.0 320.9h0M153.3 313.1h0M149.8 305.1h0M146.7 308.1h0M153.5 312.0h0M154.8 314.4h0M161.7 316.5h0M162.6 307.0h0M150.8 310.5h0M157.0 321.2h0M157.8 307.1h0M150.1 295.3h0M149.0 311.5h0M151.7 312.0h0M156.3 301.1h0M159.2 304.4h0M157.0 303.2h0M152.9 320.2h0M157.3 300.6h0M152.1 310.3h0M141.3 302.2h0M157.7 320.6h0M158.1 301.0h0M161.7 315.8h0M151.2 321.3h0M156.7 306.0h0M152.4 320.5h0M148.3 308.3h0M156.8 296.8h0M156.1 299.7h0M151.3 319.4h0M140.4 310.3h0M163.5 298.6h0M143.2 308.4h0M145.3 311.3h0M145.4 319.4h0M156.8 320.7h0M155.7 295.5h0M143.9 315.2h0M159.4 315.4h0M158.0 317.4h0M150.0 299.0h0M163.5 304.1h0M157.8 319.9h0M144.5 301.2h0M163.4 306.0h0M156.7 302.7h0M146.6 317.2h0M152.4 318.9h0M166.7 303.1h0M149.8 298.3h0M162.3 318.5h0M148.6 317.9h0M152.4 307.7h0M148.0 299.6h0M164.9 302.4h0M156.5 301.9h0M150.6 309.1h0M161.1 301.1h0M165.9 315.0h0M142.9 299.7h0M152.7 297.1h0M161.5 319.0h0M149.3 308.4h0M147.3 298.7h0M161.0 319.4h0M159.7 312.9h0M149.4 303.1h0M149.6 299.3h0M164.8 311.1h0M166.1 315.9h0M151.3 323.6h0M157.6 295.6h0M166.5 309.3h0M164.8 301.8h0M148.4 312.3h0M143.3 309.6h0M157.2 312.2h0M147.8 300.3h0M147.5 322.2h0M156.7 319.0h0M160.5 304.5h0M140.7 311.3h0M163.7 301.6h0M150.1 296.9h0M164.8 318.3h0M161.2 309.1h0M158.8 314.6h0M140.4 303.8h0M158.4 308.9h0M164.8 307.0h0M159.8 308.2h0M147.3 311.0h0M161.2 296.5h0M165.2 315.8h0M155.6 309.5h0M157.9 307.4h0M145.0 313.1h0M154.4 299.1h0M151.0 305.7h0M156.6 304.1h0M157.6 299.4h0M155.1 306.3h0M143.7 304.5h0M153.6 300.3h0M164.2 309.0h0M146.7 308.1h0M159.5 317.1h0M151.3 311.0h0M162.3 297.8h0M161.0 316.1h0M150.8 312.1h0M153.1 296.5h0M151.2 295.0h0M149.0 317.6h0M145.1 307.5h0M161.6 303.1h0M142.3 303.4h0M149.8 306.5h0M155.5 310.4h0M164.3 298.9h0M159.4 302.0h0M153.8 305.6h0M146.3 319.8h0M156.7 317.4h0M153.6 320.0h0M155.4 318.0h0M162.1 311.3h0M149.8 315.2h0M165.0 306.5h0M160.2 303.8h0M159.2 317.5h0M145.2 313.1h0M161.6 315.5h0M158.8 302.9h0M162.5 311.7h0M141.9 316.7h0M140.4 311.1h0M155.4 320.5h0M157.0 305.7h0M140.1 307.7h0M148.3 295.7h0M143.4 299.4h0M162.3 320.6h0M146.3 307.6h0M151.9 303.5h0M148.4 310.1h0M156.1 304.4h0M151.4 319.3h0M147.3 311.6h0M164.2 303.6h0M147.7 320.4h0M157.0 313.3h0M167.6 308.4h0M157.7 320.7h0M149.7 307.8h0M149.1 304.3h0M159.8 311.3h0M152.9 319.4h0M159.6 299.6h0M142.1 305.0h0M164.3 310.3h0M149.7 310.1h0M162.2 313.3h0M143.9 301.2h0M157.7 301.9h0M148.5 299.2h0M146.3 302.9h0M157.4 304.9h0M148.4 310.7h0M152.3 307.5h0M153.3 301.6h0M143.1 302.7h0M158.3 295.3h0M147.7 300.2h0M149.9 303.0h0M146.3 313.3h0M147.9 304.7h0M149.5 320.4h0M143.9 304.0h0M162.3 317.6h0M158.5 296.3h0M166.0 314.3h0M157.8 322.3h0M155.4 302.2h0M161.5 312.3h0M147.8 307.0h0M155.0 313.7h0M145.8 306.3h0M148.1 302.3h0M149.6 307.1h0M160.2 300.2h0M149.0 304.9h0M150.4 300.1h0M161.9 320.2h0M162.0 306.7h0M144.4 319.4h0M145.4 312.0h0M152.0 317.4h0M163.5 303.9h0M148.4 308.1h0M152.2 314.1h0M151.9 307.6h0M147.4 311.1h0M157.4 318.6h0M164.0 302.7h0M160.4 319.5h0M159.4 313.2h0M152.9 320.1h0M158.5 299.9h0M162.9 303.0h0M160.0 298.3h0M163.0 305.5h0M143.6 313.6h0M152.3 320.3h0M157.4 301.0h0M149.8 308.5h0M150.4 312.5h0M147.7 317.2h0M150.7 304.9h0M164.9 311.0h0M163.1 310.7h0M163.1 312.7h0M141.3 307.6h0M160.8 303.5h0M167.9 306.2h0M147.9 308.8h0M153.0 322.8h0M162.8 312.2h0M166.0 317.1h0M147.5 311.1h0M147.1 317.7h0M141.2 302.1h0M156.8 320.2h0M159.3 304.0h0M160.8 318.6h0M160.6 312.1h0M158.7 314.8h0M155.0 302.3h0M160.8 313.7h0M156.8 295.8h0M146.2 299.3h0M142.7 302.3h0M152.4 317.8h0M168.5 308.0h0M156.3 301.2h0M160.2 311.8h0M156.6 316.6h0M165.9 315.1h0M158.2 314.1h0M153.1 303.9h0M149.2 302.5h0M141.5 303.9h0M159.3 317.1h0M158.4 300.7h0M157.3 319.1h0M152.8 322.4h0M149.0 315.8h0M160.9 304.0h0M147.8 306.5h0M163.6 301.7h0M149.1 299.7h0M155.8 299.8h0M149.5 297.1h0M156.5 299.7h0M157.1 304.9h0M148.0 308.0h0M159.1 298.9h0M160.8 307.8h0M155.7 318.3h0M165.1 313.4h0M150.2 302.4h0M156.1 301.1h0M149.1 300.2h0M148.1 311.3h0M163.7 310.6h0M165.6 308.2h0M140.4 310.1h0M156.9 315.9h0M159.8 298.8h0M156.3 301.7h0M144.9 307.5h0M146.5 315.0h0M143.0 299.6h0M160.2 296.6h0M152.3 319.8h0M159.6 310.0h0M152.0 319.0h0M158.1 309.3h0M147.2 297.8h0M159.1 314.2h0M149.7 323.2h0M156.4 323.2h0M167.2 303.5h0M148.0 304.3h0M152.1 303.3h0M153.3 315.6h0M162.2 317.2h0M152.4 300.4h0M164.4 309.4h0M145.6 297.2h0M149.8 309.2h0M149.4 316.8h0M153.1 305.7h0M160.8 318.4h0M157.6 306.4h0M157.1 318.0h0M158.6 319.0h0M152.2 301.6h0M159.5 302.0h0M155.4 309.9h0M163.6 306.1h0M139.3 308.6h0M141.9 308.3h0M147.2 298.0h0M164.7 308.9h0M142.5 303.1h0M157.8 319.2h0M148.9 313.3h0M154.5 315.8h0M155.5 301.9h0M157.1 317.6h0M149.9 303.2h0M147.7 300.6h0M152.1 306.9h0M158.0 300.3h0M159.6 315.8h0M154.5 310.5h0M156.8 302.8h0M162.1 317.7h0M163.9 315.2h0M162.1 311.5h0M158.4 301.3h0M154.2 304.6h0M161.0 309.4h0M165.7 315.3h0M145.1 310.5h0M158.3 300.2h0M145.0 316.0h0M145.7 319.3h0M163.2 311.2h0M139.9 308.0h0M142.3 311.3h0M150.9 300.7h0M148.2 306.0h0M151.9 299.4h0M157.0 320.5h0M148.1 299.5h0M142.6 305.9h0M143.7 308.7h0M158.1 302.1h0M162.1 303.6h0M154.6 299.8h0M142.0 310.7h0M148.3 313.7h0M151.0 308.7h0M162.7 308.8h0M155.0 299.0h0M163.9 309.5h0M159.0 320.0h0M148.3 322.4h0M153.5 307.9h0M145.7 312.6h0M148.1 319.0h0M152.6 314.7h0M148.4 316.4h0M166.7 313.0h0M142.8 306.0h0M164.1 317.2h0M139.4 310.3h0M162.4 300.4h0M151.6 310.8h0M161.3 320.4h0M157.2 302.7h0M150.8 302.5h0M144.2 301.7h0M145.0 311.7h0M146.8 307.3h0M164.8 301.4h0M163.1 319.9h0M144.8 314.6h0M152.8 323.1h0M158.9 304.5h0M154.0 321.3h0M157.0 316.9h0M151.4 314.3h0M145.1 302.4h0M149.3 314.3h0M157.4 302.0h0M148.0 309.4h0M160.4 311.1h0M160.4 299.4h0M158.2 321.6h0M159.6 322.6h0M146.9 310.4h0M162.4 313.2h0M161.3 310.2h0M162.7 313.6h0M153.3 296.4h0M144.5 315.9h0M156.4 306.4h0M150.3 316.9h0M140.8 308.0h0M159.8 304.2h0M143.1 315.4h0M149.4 311.4h0M160.3 318.7h0M151.9 312.8h0M151.8 306.5h0M145.0 306.5h0M159.4 316.4h0M154.8 298.4h0M158.2 315.1h0M151.5 307.0h0M157.1 317.9h0M156.4 318.3h0M144.9 308.7h0M161.9 320.9h0M154.0 308.0h0M165.9 312.3h0M147.3 314.6h0M164.9 314.9h0M152.1 312.8h0M156.5 307.6h0M149.5 304.3h0M164.5 307.1h0" stroke="#5b4dd6" stroke-width="0.65" stroke-linecap="round" opacity="0.55"/>
<path d="M145.4 297.7h0M165.1 316.2h0M154.1 323.0h0M162.0 300.6h0M151.8 321.9h0M167.4 305.6h0M147.0 309.5h0M141.2 308.8h0M153.7 301.9h0M144.2 304.4h0M160.6 317.9h0M153.5 322.7h0M160.1 302.8h0M157.9 318.5h0M158.6 299.6h0M157.0 321.3h0M146.4 312.2h0M146.7 304.4h0M167.8 311.6h0M160.6 312.4h0M152.9 299.3h0M158.6 318.5h0M156.1 322.1h0M162.7 314.5h0M148.4 303.2h0M150.1 310.8h0M156.5 298.4h0M161.3 311.8h0M157.3 296.9h0M148.0 312.2h0M143.3 319.2h0M148.8 305.1h0M146.1 306.6h0M146.4 308.6h0M163.9 303.6h0M162.1 311.9h0M151.5 320.5h0M149.9 306.2h0M151.7 303.0h0M156.9 299.3h0M140.0 311.4h0M145.1 316.1h0M150.6 309.6h0M163.3 299.2h0M153.8 306.0h0M146.9 303.5h0M165.7 310.8h0M163.6 317.7h0M155.6 310.1h0M142.4 309.9h0M166.9 308.3h0M159.0 315.6h0M156.1 312.0h0M155.8 300.5h0M153.7 302.1h0M146.7 299.8h0M159.2 308.5h0M142.0 307.4h0M141.1 315.1h0M157.8 296.7h0M146.8 310.5h0M144.4 305.1h0M153.3 300.0h0M155.5 312.4h0M153.5 299.1h0M166.2 311.2h0M159.9 296.1h0M163.6 302.6h0M159.7 316.5h0M144.3 301.8h0M156.2 304.9h0M143.2 304.8h0M158.2 301.5h0M151.7 308.3h0M146.6 304.8h0M161.3 305.6h0M159.0 315.5h0M147.6 302.2h0M157.4 317.9h0M153.4 310.4h0M149.1 310.8h0M148.2 306.9h0M156.3 318.1h0M141.1 309.5h0M151.7 305.4h0M162.2 318.9h0M154.6 317.7h0M145.6 298.6h0M140.8 303.7h0M158.8 314.6h0M147.6 305.5h0M159.4 306.5h0M146.4 311.2h0M146.0 308.6h0M152.9 317.5h0M164.8 305.8h0M147.3 300.2h0M162.2 304.6h0M155.8 321.4h0M162.1 310.2h0M152.3 322.7h0M158.3 316.6h0M152.0 323.5h0M145.3 311.5h0M150.2 309.2h0M152.0 317.3h0M148.9 313.5h0M165.6 312.3h0M156.3 299.5h0M161.9 311.5h0M142.6 301.2h0M166.1 310.2h0M145.6 309.2h0M156.9 301.2h0M164.3 303.1h0M163.9 307.3h0M154.9 304.8h0M149.0 310.2h0M162.0 318.1h0M144.3 313.0h0M156.0 320.8h0M151.0 298.3h0M156.8 321.8h0M156.6 317.3h0M157.4 315.9h0M140.7 305.2h0M159.8 312.8h0M161.2 297.1h0M151.8 315.0h0M165.8 310.7h0M146.1 305.6h0M150.8 314.3h0M155.6 302.3h0M159.8 314.4h0M158.6 318.6h0M157.6 320.0h0M158.5 298.9h0M157.1 295.3h0M151.1 296.1h0M149.9 304.2h0M156.1 319.6h0M162.7 319.7h0M145.9 308.5h0M158.4 296.0h0M156.6 319.2h0M158.4 302.0h0M163.9 320.0h0M152.9 302.0h0M148.3 307.6h0M163.0 313.1h0M149.7 302.2h0M153.9 323.1h0M155.6 307.6h0M157.8 300.5h0M154.2 315.4h0M144.8 302.6h0M149.5 320.8h0M151.1 315.9h0M157.7 320.4h0M157.6 306.4h0M147.4 320.5h0M146.8 310.5h0M156.7 317.0h0M161.2 307.0h0M150.9 308.6h0M166.1 311.8h0M152.5 319.7h0M149.0 309.1h0M144.4 312.6h0M153.4 300.7h0M147.6 306.6h0M155.9 309.4h0M166.0 312.1h0M148.9 301.0h0" stroke="#4434c4" stroke-width="1.0" stroke-linecap="round" opacity="0.7"/>
<circle cx="189.5" cy="309.2" r="16.2" fill="#f6f5fc" stroke="#8f8f9c" stroke-width="0.55"/>
<circle cx="189.5" cy="309.2" r="14.0" fill="#6f60e0" opacity="0.07" filter="url(#b2)"/>
<path d="M200.6 304.2h0M202.7 313.3h0M194.5 321.8h0M191.7 295.0h0M183.8 304.4h0M192.3 295.1h0M203.3 312.0h0M179.4 315.6h0M181.6 317.2h0M180.2 306.6h0M202.0 316.9h0M177.9 317.3h0M185.8 311.9h0M193.0 306.4h0M196.3 303.6h0M178.9 309.3h0M189.1 299.1h0M181.6 319.5h0M191.4 308.5h0M186.2 314.3h0M189.1 312.2h0M194.5 313.8h0M191.8 317.5h0M191.0 306.7h0M196.0 310.6h0M189.5 296.7h0M183.8 306.7h0M195.2 310.3h0M187.1 301.8h0M186.2 302.0h0M190.9 318.9h0M185.8 306.2h0M180.9 301.0h0M188.9 316.7h0M192.3 299.2h0M194.8 307.5h0M180.5 317.0h0M193.3 303.9h0M197.8 309.2h0M192.5 301.8h0M195.4 307.2h0M199.0 303.4h0M184.2 320.1h0M202.6 308.0h0M201.6 312.1h0M194.1 307.3h0M194.6 306.3h0M195.5 316.4h0M189.0 312.3h0M203.5 312.6h0M197.3 312.8h0M180.9 304.2h0M192.0 308.6h0M190.7 302.5h0M188.1 307.7h0M187.1 316.0h0M184.7 317.1h0M184.1 301.3h0M190.7 302.6h0M184.0 304.6h0M194.6 308.6h0M175.4 308.4h0M191.6 303.8h0M192.0 313.1h0M191.4 313.0h0M183.4 302.9h0M196.8 298.8h0M188.5 310.3h0M177.2 316.7h0M200.8 316.8h0M198.9 304.5h0M183.8 307.8h0M195.1 302.0h0M191.1 303.4h0M202.3 312.6h0M188.4 314.6h0M192.2 302.4h0M186.5 303.2h0M191.3 311.0h0M198.2 304.3h0M192.0 315.5h0M194.4 307.0h0M190.3 311.7h0M177.9 314.7h0M194.8 302.2h0M181.0 321.1h0M184.6 299.4h0M196.3 308.2h0M196.8 315.3h0M199.3 307.9h0M179.2 315.5h0M192.9 315.9h0M190.3 306.8h0M197.1 307.9h0M193.1 310.2h0M193.3 306.2h0M193.5 312.0h0M183.8 313.9h0M194.5 314.3h0M194.8 296.9h0M182.2 320.9h0M187.8 317.7h0M193.9 301.7h0M202.5 309.1h0M197.1 314.0h0M179.2 310.3h0M193.0 298.9h0M200.8 308.2h0M178.3 315.4h0M187.5 295.0h0M188.2 310.7h0M187.8 318.2h0M186.3 309.9h0M203.2 311.6h0M193.6 308.9h0M177.6 303.6h0M196.8 306.1h0M188.3 302.3h0M183.6 314.6h0M191.7 305.8h0M195.9 316.0h0M185.1 308.4h0M191.7 299.6h0M194.3 305.2h0M188.9 298.0h0M178.4 318.3h0M202.9 308.4h0M183.4 302.6h0M189.5 304.6h0M191.4 310.0h0M185.8 305.2h0M182.2 298.6h0M197.8 303.1h0M197.0 299.4h0M199.5 318.8h0M182.4 307.5h0M188.3 302.2h0M191.7 297.2h0M196.2 310.1h0M191.6 306.6h0M200.9 313.8h0M186.8 307.2h0M196.4 306.8h0M183.9 305.4h0M196.6 307.0h0M180.5 297.7h0M191.7 313.1h0M201.4 313.1h0M195.5 306.1h0M193.4 303.4h0M201.7 304.1h0M184.9 309.9h0M197.3 305.6h0M201.1 314.9h0M184.1 303.9h0M200.6 308.5h0M191.6 309.1h0M183.1 300.9h0M192.5 306.9h0M202.3 304.5h0M182.7 301.0h0M190.8 315.0h0M191.6 312.0h0M194.6 304.1h0M188.9 321.6h0M177.8 313.6h0M190.3 300.8h0M196.3 306.5h0M192.3 313.5h0M176.4 306.3h0M196.0 305.7h0M179.2 309.7h0M187.7 301.6h0M176.4 310.0h0M200.7 308.3h0M196.5 296.4h0M193.6 313.6h0M185.2 301.2h0M192.5 318.1h0M182.0 302.7h0M193.4 316.6h0M193.3 310.8h0M197.3 317.4h0M201.1 305.1h0M196.4 313.7h0M178.6 304.8h0M198.6 307.6h0M188.1 312.5h0M195.8 304.0h0M188.0 318.8h0M190.4 313.8h0M193.6 300.3h0M196.6 305.0h0M193.5 316.6h0M201.8 305.6h0M190.5 301.3h0M202.9 313.0h0M201.1 301.9h0M184.4 302.7h0M191.2 320.3h0M188.2 321.2h0M203.4 309.9h0M182.8 301.5h0M184.1 305.7h0M181.2 305.6h0M202.1 308.7h0M196.3 317.6h0M178.0 307.0h0M183.1 321.2h0M200.1 319.1h0M196.8 315.2h0M190.9 308.7h0M180.0 315.1h0M200.6 317.6h0M194.1 305.0h0M187.8 303.9h0M189.5 308.9h0M187.8 309.6h0M202.0 303.2h0M185.7 304.5h0M179.8 303.2h0M185.1 296.8h0M187.2 306.3h0M193.9 310.5h0M191.9 308.5h0M191.0 318.5h0M199.0 311.9h0M199.1 304.8h0M190.4 310.9h0M194.4 316.1h0M197.5 303.2h0M195.2 307.5h0M178.7 314.5h0M202.0 316.9h0M178.9 314.1h0M200.6 313.9h0M199.4 308.4h0M196.5 306.0h0M188.9 312.9h0M184.3 316.8h0M177.6 310.0h0" stroke="#5b4dd6" stroke-width="0.65" stroke-linecap="round" opacity="0.55"/>
<path d="M190.5 311.9h0M186.0 310.5h0M188.7 297.3h0M192.8 316.2h0M195.7 307.1h0M196.1 304.9h0M182.7 308.6h0M197.1 307.5h0M188.5 317.1h0M179.3 319.5h0M177.6 308.9h0M193.0 304.1h0M192.4 307.8h0M180.8 311.9h0M183.8 310.9h0M195.1 315.4h0M176.7 307.2h0M187.4 296.6h0M197.3 316.6h0M191.2 313.4h0M201.3 313.0h0M189.6 323.3h0M194.0 302.0h0M181.4 303.8h0M178.0 316.1h0M178.8 308.7h0M187.6 300.7h0M185.7 317.2h0M175.7 314.3h0M196.5 304.7h0M197.0 317.3h0M193.9 301.1h0M190.7 301.4h0M189.1 310.3h0M184.0 319.4h0M198.9 307.6h0M191.8 312.6h0M187.6 303.3h0M187.0 306.7h0M181.3 316.4h0M198.5 308.4h0M194.3 304.7h0M194.8 306.1h0M183.2 300.4h0M198.6 307.2h0M192.1 306.2h0M186.7 297.0h0M200.7 308.3h0M191.2 315.7h0M192.2 316.6h0M195.0 303.2h0M193.7 308.4h0M191.6 309.8h0M182.1 307.5h0M194.4 304.8h0M184.9 312.2h0M202.5 315.2h0" stroke="#4434c4" stroke-width="1.0" stroke-linecap="round" opacity="0.7"/>
<circle cx="225.6" cy="309.2" r="16.2" fill="#f6f5fc" stroke="#8f8f9c" stroke-width="0.55"/>
<circle cx="225.6" cy="309.2" r="14.0" fill="#6f60e0" opacity="0.05" filter="url(#b2)"/>
<path d="M213.9 314.6h0M217.3 302.3h0M226.1 300.3h0M223.9 313.2h0M217.3 303.9h0M225.1 306.3h0M233.9 313.9h0M212.2 305.6h0M231.4 309.4h0M226.4 320.0h0M231.3 307.2h0M220.2 309.2h0M230.2 301.9h0M225.5 300.6h0M227.0 313.0h0M230.8 318.7h0M221.4 308.7h0M220.5 312.3h0M238.7 315.3h0M216.4 306.5h0M223.0 307.1h0M227.0 309.4h0M229.6 318.6h0M232.3 315.8h0M221.9 311.2h0M221.6 299.2h0M232.4 301.4h0M219.3 304.3h0M221.0 322.8h0M214.0 315.6h0M220.2 304.8h0M233.3 308.7h0M235.9 308.1h0M223.6 306.9h0M216.1 303.6h0M225.9 318.8h0M226.3 316.2h0M226.4 311.1h0M225.8 321.8h0M228.5 310.1h0M236.8 304.5h0M225.0 308.2h0M236.7 304.7h0M230.2 315.9h0M230.9 308.6h0M227.0 306.6h0M226.2 298.5h0M233.3 312.2h0M217.6 304.2h0M212.7 302.6h0M215.3 314.2h0M218.2 312.6h0M225.7 296.0h0M234.2 305.0h0M228.6 320.6h0M220.9 320.6h0M235.6 305.1h0M227.8 321.0h0M222.9 301.5h0M214.0 302.6h0M224.3 307.5h0M236.1 303.5h0M234.7 319.1h0M231.6 304.7h0M223.2 311.3h0M224.8 316.0h0M228.1 305.9h0M215.4 300.5h0M237.0 307.4h0M229.5 299.3h0M237.6 303.8h0M230.9 318.5h0M225.7 304.2h0M220.8 317.3h0M230.2 309.5h0M238.5 308.5h0M232.8 321.0h0M212.6 310.8h0M227.7 308.4h0M223.9 304.7h0M215.5 298.9h0M230.6 306.7h0M211.4 307.2h0M215.3 299.3h0M218.1 303.7h0M233.0 302.2h0M219.1 304.7h0M224.9 313.8h0M231.2 299.3h0M224.6 323.5h0M225.3 296.6h0M238.0 307.8h0M231.0 308.9h0M225.5 299.3h0M233.3 298.9h0M223.5 319.4h0M223.9 295.8h0M223.6 306.8h0M237.2 302.2h0M221.3 306.9h0M226.3 296.0h0M231.0 319.4h0M230.6 313.6h0M223.9 310.8h0M228.4 307.3h0M213.2 316.6h0M238.3 303.8h0M220.4 305.6h0M238.3 304.6h0M224.5 319.4h0M230.1 300.1h0M226.2 320.7h0M235.2 304.7h0M227.8 316.7h0M217.8 300.1h0M216.7 306.6h0M226.4 313.6h0M220.3 305.8h0M221.6 309.7h0M230.3 304.0h0M216.7 307.3h0M211.4 307.5h0M228.6 305.7h0M232.0 310.2h0M229.4 306.3h0M226.5 315.3h0M212.0 305.1h0M232.6 314.3h0M221.8 311.3h0M229.9 316.0h0M216.7 303.9h0M227.5 300.4h0M229.2 319.2h0M222.9 302.4h0M230.9 307.2h0M217.8 300.2h0M223.6 298.6h0M226.8 303.9h0M225.6 301.0h0M214.4 311.0h0M225.9 308.5h0M223.0 310.2h0M219.4 298.1h0M225.3 317.9h0M216.8 297.9h0M227.1 316.1h0M224.8 318.7h0M221.6 310.3h0M226.7 315.7h0M220.5 302.8h0M224.7 309.4h0M221.5 309.2h0M228.1 312.3h0M226.8 315.6h0M231.2 300.3h0M228.4 320.0h0M218.9 322.3h0M230.2 301.5h0M226.9 308.7h0M234.6 301.7h0M233.6 300.4h0M217.8 314.8h0M220.8 306.7h0M226.6 307.6h0M234.8 302.0h0M219.8 297.2h0M228.5 304.2h0M240.3 310.1h0M233.8 303.3h0M220.7 303.0h0M225.5 308.4h0M226.4 305.3h0M228.6 310.2h0M229.8 315.0h0M230.5 316.8h0M233.4 303.1h0M218.4 306.4h0M221.2 312.3h0M230.7 304.1h0M228.6 314.8h0M225.8 311.3h0M235.5 312.5h0M235.8 311.7h0M231.3 296.6h0M218.5 302.0h0M230.6 302.7h0M236.1 304.9h0M233.8 310.0h0M213.6 312.9h0M222.9 311.8h0" stroke="#5b4dd6" stroke-width="0.65" stroke-linecap="round" opacity="0.55"/>
<path d="M238.7 303.5h0M223.4 320.3h0M222.7 307.9h0M216.2 307.6h0M229.1 320.8h0M221.5 322.5h0M225.3 316.9h0M220.9 300.6h0M220.5 301.0h0M218.5 314.9h0M234.4 300.3h0M227.1 304.4h0M237.6 314.2h0M225.7 318.3h0M227.5 309.8h0M227.2 303.9h0M226.9 316.3h0M228.1 317.2h0M227.5 315.3h0M216.6 318.0h0M234.6 306.3h0M214.1 302.1h0M220.4 321.2h0M227.6 305.8h0M230.9 304.7h0M229.2 309.3h0M233.2 301.3h0M211.4 308.8h0M225.5 308.5h0M239.6 305.3h0M227.4 314.9h0M230.3 296.0h0M231.9 312.1h0M225.9 305.6h0M230.5 315.6h0M239.0 314.0h0M234.2 320.1h0M222.1 320.5h0" stroke="#4434c4" stroke-width="1.0" stroke-linecap="round" opacity="0.7"/>
<text x="89.70" y="224.59" font-size="14.3" text-anchor="middle" stroke="#000" stroke-width="0.25" letter-spacing="0.4">**</text>
<text x="114.10" y="244.89" font-size="14.3" text-anchor="middle" stroke="#000" stroke-width="0.25" letter-spacing="0.4">**</text>
<text x="182.90" y="231.89" font-size="14.3" text-anchor="middle" stroke="#000" stroke-width="0.25" letter-spacing="0.4">**</text>
<text x="207.70" y="250.99" font-size="14.3" text-anchor="middle" stroke="#000" stroke-width="0.25" letter-spacing="0.4">**</text>
<text x="249.60" y="170.80" font-size="15" font-weight="bold">d</text>
<line x1="284.40" y1="177.30" x2="284.40" y2="271.30" stroke="#000" stroke-width="1" shape-rendering="crispEdges"/>
<line x1="284.40" y1="271.30" x2="467.70" y2="271.30" stroke="#000" stroke-width="1" shape-rendering="crispEdges"/>
<line x1="284.40" y1="271.30" x2="286.60" y2="271.30" stroke="#000" stroke-width="1" shape-rendering="crispEdges"/>
<text x="279.60" y="273.90" font-size="8.5" text-anchor="end">0</text>
<line x1="284.40" y1="247.90" x2="286.60" y2="247.90" stroke="#000" stroke-width="1" shape-rendering="crispEdges"/>
<text x="279.60" y="250.50" font-size="8.5" text-anchor="end">0.3</text>
<line x1="284.40" y1="224.50" x2="286.60" y2="224.50" stroke="#000" stroke-width="1" shape-rendering="crispEdges"/>
<text x="279.60" y="227.10" font-size="8.5" text-anchor="end">0.6</text>
<line x1="284.40" y1="201.10" x2="286.60" y2="201.10" stroke="#000" stroke-width="1" shape-rendering="crispEdges"/>
<text x="279.60" y="203.70" font-size="8.5" text-anchor="end">0.9</text>
<line x1="284.40" y1="177.70" x2="286.60" y2="177.70" stroke="#000" stroke-width="1" shape-rendering="crispEdges"/>
<text x="279.60" y="180.30" font-size="8.5" text-anchor="end">1.2</text>
<text transform="translate(258.60,225.20) rotate(-90)" font-size="10.1" text-anchor="middle">Relative cell invasion</text>
<rect x="295.30" y="193.30" width="20.20" height="78.00" fill="#595959"/>
<line x1="305.40" y1="193.30" x2="305.40" y2="188.23" stroke="#444" stroke-width="1" shape-rendering="crispEdges"/>
<line x1="303.80" y1="188.23" x2="307.00" y2="188.23" stroke="#444" stroke-width="1" shape-rendering="crispEdges"/>
<rect x="319.80" y="209.68" width="20.20" height="61.62" fill="#1f37d6"/>
<line x1="329.90" y1="209.68" x2="329.90" y2="202.66" stroke="#1f37d6" stroke-width="1" shape-rendering="crispEdges"/>
<line x1="328.30" y1="202.66" x2="331.50" y2="202.66" stroke="#1f37d6" stroke-width="1" shape-rendering="crispEdges"/>
<rect x="345.00" y="224.50" width="19.80" height="46.80" fill="#ff0000"/>
<line x1="354.90" y1="224.50" x2="354.90" y2="219.43" stroke="#ff0000" stroke-width="1" shape-rendering="crispEdges"/>
<line x1="353.30" y1="219.43" x2="356.50" y2="219.43" stroke="#ff0000" stroke-width="1" shape-rendering="crispEdges"/>
<rect x="387.30" y="193.30" width="19.70" height="78.00" fill="#595959"/>
<line x1="397.15" y1="193.30" x2="397.15" y2="189.01" stroke="#444" stroke-width="1" shape-rendering="crispEdges"/>
<line x1="395.55" y1="189.01" x2="398.75" y2="189.01" stroke="#444" stroke-width="1" shape-rendering="crispEdges"/>
<rect x="411.30" y="213.58" width="20.40" height="57.72" fill="#1f37d6"/>
<line x1="421.50" y1="213.58" x2="421.50" y2="205.39" stroke="#1f37d6" stroke-width="1" shape-rendering="crispEdges"/>
<line x1="419.90" y1="205.39" x2="423.10" y2="205.39" stroke="#1f37d6" stroke-width="1" shape-rendering="crispEdges"/>
<rect x="436.40" y="242.21" width="20.10" height="29.09" fill="#ff0000"/>
<line x1="446.45" y1="242.21" x2="446.45" y2="233.08" stroke="#ff0000" stroke-width="1" shape-rendering="crispEdges"/>
<line x1="444.85" y1="233.08" x2="448.05" y2="233.08" stroke="#ff0000" stroke-width="1" shape-rendering="crispEdges"/>
<text x="329.80" y="284.60" font-size="8.8" text-anchor="middle">AGS</text>
<text x="422.10" y="284.60" font-size="8.8" text-anchor="middle">MKN28</text>
<rect x="301.80" y="172.80" width="4.60" height="4.60" fill="#595959"/>
<text x="308.00" y="178.20" font-size="9.25">siScramble</text>
<rect x="358.20" y="172.80" width="4.60" height="4.60" fill="#1f37d6"/>
<text x="365.50" y="178.20" font-size="9.25">siFGF18-1</text>
<rect x="414.10" y="172.80" width="4.60" height="4.60" fill="#ff0000"/>
<text x="421.10" y="178.20" font-size="9.25">siFGF18-2</text>
<rect x="274.70" y="288.80" width="98.70" height="36.50" fill="#f7f7f9" stroke="#444" stroke-width="0.9"/>
<path d="M291.6 304.5h0M306.0 312.2h0M305.5 314.3h0M295.0 298.1h0M282.2 290.4h0M298.0 310.5h0M296.2 320.8h0M284.3 296.3h0M282.6 305.6h0M284.5 313.9h0M304.3 299.4h0M286.6 322.8h0M283.8 320.4h0M286.2 312.1h0M281.8 304.1h0M292.1 314.9h0M276.2 308.2h0M291.9 310.3h0M301.0 304.4h0M291.3 314.0h0M304.6 319.3h0M299.1 306.7h0M291.7 308.9h0M275.7 307.2h0M277.2 303.4h0M302.0 315.8h0M287.8 292.8h0M283.2 305.2h0M283.2 296.2h0M290.7 297.7h0M293.9 315.3h0M292.0 301.6h0M283.6 299.3h0M305.8 319.5h0M276.5 303.5h0M277.0 313.0h0M278.6 293.8h0M291.2 311.9h0M287.4 300.2h0M300.1 292.3h0M287.0 295.4h0M284.5 299.2h0M279.6 295.1h0M293.1 292.2h0M282.3 291.4h0M292.4 297.3h0M278.8 291.6h0M293.1 307.8h0M277.4 290.9h0M281.8 298.7h0M289.3 292.6h0M277.7 318.8h0M285.5 316.7h0M305.8 301.0h0M300.8 302.5h0M294.6 321.6h0M302.2 320.1h0M301.4 320.3h0M306.2 306.9h0M295.6 316.9h0M302.8 309.3h0M295.4 290.6h0M277.4 309.3h0M286.4 321.7h0M291.5 311.3h0M280.2 305.5h0M280.1 309.4h0M302.4 293.7h0M292.1 311.4h0M287.1 315.8h0M290.4 308.0h0M284.6 308.7h0M303.7 307.2h0M278.7 309.1h0M280.3 289.9h0M280.3 315.7h0M279.2 294.4h0M299.4 313.2h0M301.3 317.5h0M297.2 301.6h0M300.7 298.8h0M284.2 302.9h0M300.4 307.8h0M287.1 320.4h0M281.7 313.8h0M296.5 309.7h0M302.0 312.0h0M292.3 322.2h0M295.7 316.6h0M283.0 305.8h0M277.6 314.2h0M291.6 319.3h0M297.0 307.5h0M293.9 298.5h0M286.5 307.2h0M293.4 290.1h0M294.1 317.8h0M305.2 324.2h0M303.9 300.7h0M291.6 312.3h0M302.6 301.1h0M288.0 290.1h0M301.6 290.9h0M294.9 323.8h0M293.9 315.6h0M282.4 304.5h0M303.5 304.8h0M285.5 315.2h0M281.1 310.7h0M300.9 291.6h0M294.6 320.7h0M287.4 304.8h0M291.4 314.2h0M296.4 308.2h0M296.5 293.1h0M295.4 304.6h0M286.6 313.3h0M277.6 299.5h0M301.4 320.1h0M298.0 319.7h0M293.3 293.2h0M286.1 309.0h0M301.5 294.9h0M294.4 311.3h0M298.6 311.9h0M295.4 304.4h0M301.7 295.6h0M293.7 295.5h0M302.3 307.5h0M304.8 322.9h0M284.5 305.8h0M289.8 291.1h0M289.8 301.5h0M285.1 318.7h0M283.5 304.0h0M304.2 301.0h0M300.6 313.2h0M303.7 289.9h0M287.1 290.9h0M303.7 313.9h0M284.4 294.6h0M278.8 322.7h0M283.2 302.9h0M301.3 316.1h0M283.1 299.0h0M297.5 301.6h0M287.2 294.7h0M284.9 300.9h0M286.4 317.1h0M301.8 296.5h0M286.2 299.7h0M301.2 309.4h0M299.9 314.4h0M291.1 312.3h0M283.4 323.3h0M284.1 297.7h0M294.0 296.9h0M299.6 306.7h0M305.0 305.3h0M277.4 319.5h0M282.0 323.9h0M305.6 304.8h0M303.4 313.0h0M302.8 302.8h0M290.1 311.2h0M299.2 310.2h0M286.6 316.5h0M301.0 313.8h0M284.7 321.9h0M305.9 313.3h0" stroke="#555560" stroke-width="0.5" stroke-linecap="round" opacity="0.38"/>
<path d="M282.6 305.8l3.4 1.8M290.3 318.5l3.9 2.1M290.6 294.6l4.5 2.5M298.8 306.8l4.3 2.4M278.5 321.8l4.6 2.5M299.3 310.8l4.6 2.5" stroke="#70707c" stroke-width="0.4" opacity="0.55" fill="none"/>
<path d="M296.5 294.7h0M288.4 312.6h0M301.1 323.7h0M292.3 313.0h0M305.7 295.2h0M290.0 298.1h0M284.0 322.0h0M292.2 300.9h0M282.0 297.5h0M300.6 304.3h0M305.3 298.8h0M287.9 293.4h0" stroke="#6a5fd0" stroke-width="2.3" stroke-linecap="round" opacity="0.4" filter="url(#b0)"/>
<path d="M276.3 293.8h0M289.4 304.1h0M278.7 290.7h0M293.9 298.4h0M298.0 319.6h0M282.5 317.2h0M283.8 300.0h0M305.3 323.9h0M285.1 296.0h0M281.7 321.4h0M296.8 293.3h0M303.3 312.1h0M281.8 305.5h0M289.3 316.9h0M279.5 293.4h0M294.3 307.5h0M305.4 306.7h0M301.6 306.6h0M294.1 307.0h0M276.6 306.7h0M293.4 305.2h0M279.9 309.3h0M303.7 320.2h0M304.4 319.5h0M292.6 309.0h0M297.5 305.7h0M298.3 322.1h0M293.4 295.7h0M302.5 297.0h0M285.1 310.0h0M282.0 317.8h0M288.0 317.9h0M302.5 313.7h0M289.5 312.2h0M298.7 300.2h0M293.3 303.8h0M282.9 310.6h0M293.2 296.4h0M292.2 322.1h0M287.9 297.3h0M299.0 291.6h0M304.8 298.2h0M298.8 304.6h0M285.2 317.2h0M282.7 319.4h0M278.2 306.8h0M284.1 315.9h0M276.0 313.1h0M295.5 298.0h0M289.9 302.2h0M287.7 319.7h0M302.1 305.2h0M299.6 322.6h0M289.6 294.7h0M299.2 318.4h0M295.5 320.6h0M305.0 294.0h0M297.2 300.6h0M289.5 296.7h0M285.9 320.7h0M290.3 294.9h0M301.3 317.9h0M282.8 307.4h0M293.8 308.5h0M294.4 295.1h0M290.2 308.2h0M302.1 294.9h0M286.6 303.3h0M300.7 301.5h0M280.8 314.1h0M293.7 301.8h0M299.6 292.4h0M276.5 291.8h0M293.0 298.1h0M288.4 307.6h0M280.8 300.0h0M286.3 308.5h0M284.6 316.2h0M278.9 298.4h0M305.0 306.1h0" stroke="#6a5fd0" stroke-width="0.8" stroke-linecap="round" opacity="0.65"/>
<path d="M282.9 315.8h-0.6M276.9 292.1h-0.6M288.0 296.8h0.6M277.5 296.1h0M281.7 311.9h0M290.4 312.2h0M279.5 296.6h-0.6M297.3 307.2h0M290.0 294.6h0.6M279.5 304.5h0.6M290.1 318.2h-0.6M281.9 297.3h-0.6M304.8 293.8h0M288.5 292.3h0.6M300.9 323.5h0.6M291.5 319.3h0.6M288.3 321.1h0M299.9 292.1h0.6M288.3 315.6h-0.6M285.5 298.2h0M302.1 319.7h0.6M290.0 299.4h0.6M280.6 298.7h0.6M292.4 316.4h-0.6M281.3 294.8h0.6M281.3 305.7h-0.6M295.9 296.4h0.6M295.1 299.9h0" stroke="#4236b8" stroke-width="1.3" stroke-linecap="round" opacity="0.7"/>
<path d="M325.3 299.3h0M310.5 310.9h0M334.4 299.6h0M329.1 311.4h0M329.5 319.9h0M329.9 292.5h0M327.5 301.8h0M321.2 313.1h0M313.6 311.4h0M337.5 292.4h0M334.8 314.2h0M320.8 316.2h0M310.7 295.4h0M339.3 311.3h0M313.4 294.3h0M322.1 308.6h0M339.1 296.2h0M328.0 305.0h0M325.6 322.3h0M311.9 318.6h0M331.0 299.0h0M311.9 315.6h0M334.8 301.7h0M312.5 308.9h0M329.1 302.2h0M321.0 293.3h0M312.6 297.5h0M331.8 294.0h0M314.4 305.8h0M314.8 298.1h0M331.2 297.9h0M325.7 292.7h0M324.4 313.9h0M322.2 296.4h0M309.1 299.3h0M320.9 293.3h0M321.5 307.3h0M310.2 312.7h0M338.0 314.0h0M322.2 318.5h0M337.7 322.6h0M337.9 316.2h0M337.6 316.1h0M318.3 294.4h0M323.4 314.1h0M316.6 302.2h0M310.8 291.2h0M316.3 319.1h0M310.1 295.0h0M320.7 323.2h0M315.0 291.3h0M309.7 301.7h0M308.4 312.9h0M310.1 296.4h0M310.6 299.1h0M311.0 295.5h0M314.2 297.8h0M328.0 302.6h0M314.7 290.2h0M335.2 319.3h0M337.8 314.3h0M321.7 301.1h0M314.3 305.0h0M321.2 322.2h0M314.4 313.9h0M331.0 312.5h0M327.3 291.3h0M312.8 307.7h0M327.0 323.0h0M332.7 297.3h0M312.8 316.5h0M308.5 321.3h0M310.9 310.5h0M334.6 292.7h0M311.4 311.6h0M330.7 290.2h0M322.8 317.2h0M332.4 303.4h0M308.5 311.1h0M324.9 304.4h0M326.8 310.0h0M323.2 308.8h0M325.7 316.4h0M332.9 290.5h0M332.7 298.2h0M321.4 297.3h0M317.8 303.5h0M322.4 293.5h0M317.4 305.6h0M320.2 308.1h0M310.4 309.1h0M336.4 315.3h0M325.6 317.6h0M320.1 295.9h0M327.3 298.2h0M316.7 316.3h0M324.1 295.8h0M315.0 315.1h0M328.5 320.8h0M331.3 299.6h0M330.1 320.2h0M335.7 321.3h0M312.7 298.4h0M313.6 318.0h0M329.8 309.1h0M314.3 304.0h0M329.7 290.9h0M336.0 314.1h0M336.1 322.5h0M324.3 300.2h0M320.0 306.6h0M327.1 299.3h0M317.2 307.5h0M331.3 290.3h0M336.3 312.2h0M323.8 308.9h0M333.9 304.6h0M318.3 292.9h0M318.6 291.9h0M316.2 311.9h0M319.4 321.2h0M322.8 318.6h0M314.7 323.5h0M334.8 321.0h0M333.3 307.7h0M313.0 318.9h0M338.0 305.6h0M332.1 311.4h0M332.2 321.1h0M328.5 294.8h0M321.9 308.5h0M315.2 314.1h0M318.4 292.8h0M319.4 315.2h0M328.0 301.0h0M321.3 313.6h0M334.7 293.5h0M314.3 304.1h0M315.0 296.0h0M317.6 294.7h0M309.4 304.5h0M321.8 311.1h0M337.3 322.2h0M323.1 299.5h0M327.5 305.1h0M326.7 321.8h0M331.9 323.8h0M333.5 316.2h0M339.2 315.2h0M331.5 313.0h0M338.4 308.1h0M320.4 311.0h0M314.2 317.0h0M324.5 302.1h0M329.3 314.3h0M327.3 300.6h0M324.4 290.2h0M320.9 290.6h0M326.8 292.5h0M315.4 316.7h0M330.2 297.5h0M309.1 322.8h0M321.6 291.8h0M324.6 318.0h0M326.7 299.8h0M324.3 302.5h0M337.7 317.3h0M314.7 310.9h0M333.4 296.8h0M312.6 309.4h0" stroke="#555560" stroke-width="0.5" stroke-linecap="round" opacity="0.38"/>
<path d="M325.3 304.7l3.9 2.1M324.3 313.1l2.3 1.3M317.7 296.3l2.8 1.5M332.2 310.8l4.9 2.7M319.4 298.4l2.3 1.3M328.7 318.1l4.6 2.5M314.8 315.1l5.1 2.8M316.9 306.9l5.4 3.0M314.3 311.7l4.7 2.6M323.5 319.7l3.8 2.1" stroke="#70707c" stroke-width="0.4" opacity="0.55" fill="none"/>
<path d="M323.7 314.6h0M337.8 296.9h0M312.1 323.3h0M313.3 290.7h0M338.8 304.6h0M330.0 293.1h0M312.6 298.4h0M336.8 305.6h0M322.3 320.8h0M339.0 307.2h0M327.5 302.5h0M327.1 309.4h0M323.5 306.1h0M336.4 301.9h0M328.9 309.6h0" stroke="#6a5fd0" stroke-width="2.3" stroke-linecap="round" opacity="0.4" filter="url(#b0)"/>
<path d="M324.1 318.7h0M337.5 320.1h0M330.8 306.8h0M333.4 300.2h0M318.5 298.3h0M323.1 317.7h0M310.1 310.1h0M323.5 322.5h0M327.4 307.9h0M315.3 302.8h0M314.4 319.0h0M327.0 318.0h0M309.2 322.4h0M318.2 295.7h0M310.9 314.3h0M314.9 316.6h0M323.3 320.9h0M333.7 291.2h0M314.0 290.1h0M330.6 313.0h0M338.6 297.8h0M333.9 298.6h0M312.4 292.9h0M323.9 323.1h0M331.6 292.5h0M314.1 323.7h0M316.0 300.9h0M324.0 296.3h0M323.0 311.7h0M317.8 312.4h0M334.3 291.3h0M325.5 319.8h0M309.2 302.6h0M329.6 290.1h0M313.0 316.8h0M311.0 322.5h0M338.7 300.3h0M335.9 306.8h0M334.9 319.3h0M319.1 310.5h0M331.0 311.5h0" stroke="#6a5fd0" stroke-width="0.8" stroke-linecap="round" opacity="0.65"/>
<path d="M310.8 297.3h0M308.4 315.8h0M323.4 316.4h0.6M309.6 302.0h0.6M310.9 291.1h0.6M328.8 291.6h0.6M323.9 307.9h0.6M338.2 316.6h0.6M320.0 293.9h-0.6M324.1 315.6h0M329.4 311.8h-0.6M312.4 299.4h0M334.3 297.3h0M312.7 322.9h-0.6" stroke="#4236b8" stroke-width="1.3" stroke-linecap="round" opacity="0.7"/>
<line x1="307.20" y1="288.80" x2="307.20" y2="325.30" stroke="#444" stroke-width="1" shape-rendering="crispEdges"/>
<path d="M357.8 302.6h0M368.0 295.2h0M342.1 292.9h0M367.9 305.6h0M365.6 310.1h0M347.9 309.0h0M362.3 301.3h0M344.2 320.6h0M356.9 300.5h0M342.4 313.0h0M369.2 317.6h0M356.8 299.8h0M351.6 307.9h0M363.7 293.2h0M353.4 315.7h0M349.8 319.7h0M357.8 318.7h0M349.4 295.8h0M357.8 294.5h0M356.3 305.8h0M351.4 315.3h0M341.6 290.6h0M346.0 296.2h0M364.2 298.0h0M360.4 317.9h0M356.8 310.5h0M359.1 322.8h0M349.7 316.1h0M350.3 303.4h0M342.2 292.7h0M366.9 296.3h0M370.8 303.0h0M348.9 302.9h0M367.8 313.0h0M345.4 295.3h0M369.8 311.1h0M364.7 319.0h0M356.8 316.7h0M368.5 318.0h0M368.0 314.2h0M350.1 303.1h0M351.1 304.8h0M359.6 314.2h0M353.1 305.5h0M361.2 323.1h0M352.8 305.0h0M350.1 318.3h0M344.6 296.2h0M351.6 321.2h0M367.3 294.3h0M348.7 317.3h0M370.7 304.1h0M346.0 321.4h0M356.9 317.2h0M353.7 293.0h0M358.9 305.1h0M341.5 293.1h0M371.4 305.0h0M347.9 319.2h0M347.0 323.6h0M354.8 310.4h0M369.9 313.2h0M354.2 290.3h0M346.6 306.5h0M371.4 290.3h0M351.0 300.3h0M364.1 300.4h0M342.6 323.0h0M349.2 304.8h0M356.9 302.4h0M362.8 296.6h0M354.8 298.2h0M363.9 311.5h0M372.0 315.6h0M371.5 310.2h0M366.9 298.9h0M342.3 316.0h0M347.1 307.6h0M347.8 319.1h0M350.3 318.2h0M357.5 300.9h0M344.8 318.6h0M362.0 317.4h0M352.3 323.0h0M359.9 308.1h0M355.9 318.9h0M344.2 305.3h0M350.8 301.0h0M360.3 314.7h0M353.4 294.8h0M350.9 314.5h0M355.9 317.5h0M352.3 315.7h0M350.3 312.8h0M341.4 295.3h0M370.7 304.1h0M364.1 319.3h0M347.1 295.0h0M356.7 294.1h0M348.8 323.1h0M368.3 310.2h0M354.7 320.4h0M362.4 306.7h0M345.2 310.9h0M360.3 295.3h0M358.4 299.4h0M360.4 306.2h0M363.8 295.7h0M349.9 314.5h0M367.9 293.7h0M343.5 290.8h0M346.7 294.7h0M362.1 308.4h0M345.2 306.0h0M347.6 290.4h0M366.6 321.0h0M359.8 309.0h0M354.8 290.9h0M358.3 290.5h0M355.3 292.8h0M347.3 295.0h0M346.2 314.9h0M371.7 300.9h0M367.2 315.3h0M357.4 312.2h0M346.0 309.4h0M347.7 300.9h0M370.0 317.0h0M371.5 294.4h0M344.5 297.6h0M353.7 305.6h0M343.8 310.1h0M349.5 301.5h0M357.1 292.0h0M366.7 295.1h0M349.9 316.5h0M344.7 293.9h0M352.8 294.5h0M358.3 291.9h0M370.8 312.6h0M363.5 290.9h0M358.4 301.5h0M367.7 302.9h0M352.1 307.2h0M357.5 302.9h0M344.5 314.0h0M351.0 298.7h0M363.7 319.2h0M359.0 304.6h0M365.0 305.1h0M349.9 316.9h0M363.2 296.6h0M371.7 310.3h0M367.8 308.0h0M354.7 295.1h0M352.9 291.6h0M363.7 295.8h0M358.0 301.5h0M351.4 300.2h0M351.0 302.3h0M365.3 321.0h0M364.7 321.1h0M359.8 303.5h0M357.4 297.4h0M357.7 307.6h0M364.8 308.5h0M367.9 307.6h0M357.2 299.4h0M364.9 299.9h0M367.1 318.0h0" stroke="#555560" stroke-width="0.5" stroke-linecap="round" opacity="0.38"/>
<path d="M362.2 321.5l2.1 1.1M366.0 303.8l4.1 2.2M351.0 310.6l4.2 2.3M364.7 316.8l3.3 1.8M359.3 321.6l5.2 2.9M356.8 295.9l3.3 1.8M351.4 311.9l2.6 1.4M357.1 292.2l4.2 2.3M361.3 319.8l3.2 1.7M348.8 296.0l5.5 3.0M351.2 313.6l3.6 2.0M364.2 312.8l2.2 1.2M354.9 292.4l4.5 2.5M364.7 320.6l4.8 2.6M351.2 293.7l2.3 1.3M347.5 318.5l2.4 1.3M346.5 295.1l4.6 2.5M344.8 301.9l4.6 2.5M343.6 296.5l4.1 2.3M359.5 293.6l2.6 1.4M359.2 316.6l4.6 2.5M359.7 303.7l4.4 2.4M357.2 310.8l3.0 1.7M355.2 296.7l3.6 2.0M356.5 321.1l4.7 2.6M356.4 318.4l5.4 3.0M360.8 314.2l2.5 1.4M359.0 297.8l3.5 1.9M349.5 307.5l5.2 2.9M347.3 296.9l3.9 2.1" stroke="#70707c" stroke-width="0.4" opacity="0.55" fill="none"/>
<path d="M358.6 313.2h0M362.5 319.1h0M344.5 317.6h0M367.9 306.6h0M371.0 306.4h0M368.0 312.4h0M364.5 320.6h0M347.7 310.8h0" stroke="#6a5fd0" stroke-width="2.3" stroke-linecap="round" opacity="0.4" filter="url(#b0)"/>
<path d="M359.1 311.6h0M350.1 312.2h0M369.4 296.4h0M360.5 307.2h0M357.8 305.2h0M369.1 315.3h0M371.9 292.3h0M361.6 316.2h0M351.4 302.1h0M358.6 303.3h0M368.5 302.4h0M354.1 301.9h0M362.3 303.2h0M365.8 310.1h0M353.2 315.8h0M362.0 298.3h0M361.0 314.7h0M367.4 319.4h0M363.9 306.5h0M369.4 295.9h0M352.4 304.6h0M351.8 312.0h0M356.3 317.2h0M344.0 294.0h0M362.4 290.4h0" stroke="#6a5fd0" stroke-width="0.8" stroke-linecap="round" opacity="0.65"/>
<path d="M361.0 300.3h0.6M362.3 317.8h0.6M343.3 323.4h0M368.7 321.7h0.6M354.5 307.3h-0.6M353.8 317.4h0M370.9 321.2h0.6" stroke="#4236b8" stroke-width="1.3" stroke-linecap="round" opacity="0.7"/>
<line x1="340.40" y1="288.80" x2="340.40" y2="325.30" stroke="#444" stroke-width="1" shape-rendering="crispEdges"/>
<circle cx="286.2" cy="296" r="1.1" fill="#111" filter="url(#b0)"/>
<rect x="375.90" y="288.80" width="99.30" height="36.50" fill="#f7f7f9" stroke="#444" stroke-width="0.9"/>
<path d="M399.4 298.2h0M383.6 306.3h0M386.1 301.8h0M403.5 307.0h0M390.9 321.2h0M401.5 311.3h0M386.4 322.2h0M377.6 295.0h0M390.5 305.6h0M381.7 306.5h0M406.4 300.8h0M379.7 292.6h0M393.9 299.7h0M403.8 323.7h0M383.6 290.0h0M396.9 311.2h0M391.4 319.6h0M399.5 304.5h0M379.1 313.9h0M391.5 315.3h0M396.1 295.1h0M397.0 308.8h0M379.8 316.7h0M395.5 296.5h0M407.0 301.6h0M402.9 297.9h0M389.9 305.7h0M385.6 291.0h0M400.5 315.1h0M383.2 301.7h0M403.5 310.6h0M382.3 316.8h0M395.0 322.7h0M399.0 319.7h0M378.5 310.5h0M401.9 299.4h0M382.2 308.2h0M381.3 304.7h0M380.5 317.7h0M392.8 290.5h0M383.0 300.4h0M378.7 302.1h0M403.2 313.3h0M393.3 310.3h0M408.1 322.9h0M402.9 301.0h0M403.5 322.5h0M406.1 296.9h0M377.2 308.6h0M377.4 292.7h0M406.9 294.2h0M393.6 310.8h0M405.7 307.4h0M381.9 312.6h0M378.5 311.6h0M379.8 323.1h0M391.6 296.4h0M383.5 318.7h0M380.2 316.2h0M404.8 303.2h0M381.1 291.4h0M379.8 323.8h0M403.2 308.3h0M380.7 301.3h0M394.2 299.0h0M401.8 291.7h0M382.7 299.3h0M391.0 305.8h0M405.4 301.8h0M386.1 324.1h0M379.0 304.9h0M397.4 319.1h0M392.9 304.2h0M383.0 321.5h0M396.9 321.5h0M393.9 290.1h0M399.8 310.2h0M400.7 311.3h0M381.5 298.7h0M396.1 297.4h0M397.5 316.4h0M382.1 295.7h0M383.0 311.8h0M381.6 295.1h0M397.0 305.3h0M380.1 298.7h0M398.3 297.4h0M406.7 305.8h0M382.3 318.7h0M397.1 310.6h0M390.8 323.6h0M406.2 316.9h0M395.7 319.9h0M378.5 304.5h0M383.9 317.1h0M398.2 323.7h0M399.5 323.0h0M407.3 313.3h0M401.3 320.9h0M395.1 308.5h0M377.5 319.6h0M391.5 301.4h0M393.1 296.4h0M401.9 296.3h0M408.2 292.6h0M388.0 324.2h0M382.9 291.8h0M400.9 294.2h0M394.6 296.3h0M402.4 312.9h0M385.3 300.9h0M388.3 323.8h0M382.2 303.5h0M403.6 322.4h0M379.5 305.1h0M393.3 314.9h0M377.5 302.8h0M378.3 302.6h0M380.4 305.0h0M399.3 308.1h0M395.6 318.1h0M379.4 321.4h0M407.7 291.5h0M397.4 299.9h0M396.7 324.3h0M384.8 296.4h0M397.0 297.3h0M405.6 304.7h0M399.1 305.2h0M385.2 320.8h0M405.6 297.7h0M405.4 304.2h0M387.9 296.3h0M388.8 308.2h0M399.0 319.4h0M406.7 322.3h0M383.8 314.4h0M379.0 321.5h0M400.7 290.8h0M389.2 297.2h0M403.0 302.5h0M379.7 312.1h0M397.2 310.1h0M390.0 317.8h0M387.7 312.4h0M405.1 309.1h0M407.4 317.4h0M404.2 319.4h0M394.6 323.9h0M388.8 296.5h0M379.8 311.4h0M385.4 320.4h0M384.0 304.7h0M388.9 293.1h0M388.7 305.0h0M384.1 319.7h0M378.7 305.7h0M393.1 311.2h0M379.3 318.9h0M402.2 310.7h0M395.5 321.8h0M400.3 319.0h0M405.6 314.0h0M384.4 301.0h0M390.7 308.3h0M407.8 302.0h0M403.0 311.2h0M408.0 305.4h0M390.0 308.3h0M383.7 312.7h0" stroke="#555560" stroke-width="0.5" stroke-linecap="round" opacity="0.38"/>
<path d="M387.5 313.4l4.8 2.6M383.8 320.9l4.5 2.5M394.9 313.7l4.6 2.5M379.9 318.5l2.5 1.3M398.0 321.8l5.5 3.0M393.9 304.2l4.2 2.3M389.0 301.0l5.0 2.8M382.2 303.2l3.8 2.1" stroke="#70707c" stroke-width="0.4" opacity="0.55" fill="none"/>
<path d="M394.3 290.6h0M385.8 291.0h0M399.5 316.9h0M386.2 305.0h0M399.3 314.1h0M388.6 317.1h0M382.5 295.4h0M386.2 299.7h0M384.0 318.2h0M391.7 317.3h0M404.2 320.0h0M384.7 297.6h0M377.3 306.8h0M379.7 295.5h0" stroke="#6a5fd0" stroke-width="2.3" stroke-linecap="round" opacity="0.4" filter="url(#b0)"/>
<path d="M395.0 313.5h0M389.0 314.9h0M401.3 312.6h0M387.0 298.8h0M395.2 294.1h0M390.5 299.6h0M379.4 302.3h0M387.0 311.1h0M382.7 320.3h0M386.4 295.0h0M389.7 312.6h0M406.4 303.7h0M391.5 296.0h0M399.3 314.6h0M403.5 318.6h0M399.0 320.5h0M399.1 292.9h0M395.7 293.4h0M383.9 302.4h0M397.8 308.5h0M384.8 302.9h0M402.1 311.2h0M398.1 294.0h0M395.7 314.3h0M392.5 323.1h0M402.6 291.0h0M406.3 311.8h0M397.2 296.0h0M401.4 292.4h0M395.6 302.0h0M404.0 299.5h0M386.5 317.2h0M384.5 307.1h0M384.3 296.2h0M379.3 306.9h0M402.7 291.9h0M400.7 296.7h0M384.0 319.8h0M381.7 312.3h0M382.9 308.0h0M398.5 306.7h0M379.8 312.5h0M389.1 292.3h0M408.1 312.8h0M388.6 302.0h0M403.2 300.8h0M407.3 320.0h0M404.9 321.2h0M385.6 319.0h0M387.8 295.7h0M391.7 308.1h0M392.1 298.6h0M393.6 299.3h0M405.1 298.4h0M387.1 299.7h0M394.1 314.5h0M406.6 302.7h0M395.7 312.7h0M396.0 290.7h0M398.5 307.4h0M403.3 294.1h0M397.5 308.8h0M400.6 313.8h0M407.2 293.0h0M385.6 323.1h0M404.9 295.2h0M397.1 321.6h0M401.4 322.1h0M388.1 296.8h0M395.3 293.0h0M398.7 295.4h0M383.5 322.2h0M401.9 306.6h0M397.6 293.0h0M394.3 321.8h0M397.2 293.1h0" stroke="#6a5fd0" stroke-width="0.8" stroke-linecap="round" opacity="0.65"/>
<path d="M388.9 297.9h0.6M390.7 295.3h-0.6M381.6 320.7h0.6M389.3 290.7h0.6M394.2 297.3h0.6M397.8 292.2h-0.6M396.4 306.8h0.6M405.7 320.9h0M385.1 302.9h0M387.1 302.5h0M377.9 318.1h0M394.4 307.9h-0.6M399.4 296.5h0.6M403.6 290.6h0.6M386.8 318.5h0.6M400.5 307.8h-0.6M385.3 309.5h-0.6M406.1 301.1h0M381.1 298.6h-0.6M388.4 322.4h0.6" stroke="#4236b8" stroke-width="1.3" stroke-linecap="round" opacity="0.7"/>
<path d="M435.5 308.0h0M431.1 308.9h0M439.4 293.4h0M437.7 298.9h0M438.1 315.4h0M415.1 299.5h0M416.9 301.6h0M431.7 319.2h0M426.1 298.5h0M438.6 291.6h0M430.1 318.4h0M411.7 301.3h0M414.4 323.6h0M415.3 305.0h0M432.3 309.2h0M413.8 322.4h0M431.9 294.9h0M411.4 302.5h0M427.5 304.6h0M411.6 302.4h0M439.4 323.3h0M411.5 302.1h0M431.6 312.8h0M421.3 309.1h0M437.6 323.4h0M433.7 321.7h0M417.7 295.4h0M435.3 295.9h0M423.2 296.0h0M439.1 316.8h0M423.1 312.9h0M433.2 298.4h0M415.3 314.0h0M422.2 291.1h0M425.0 296.7h0M439.0 301.9h0M435.9 319.9h0M417.3 312.6h0M422.7 299.4h0M412.5 316.5h0M421.3 307.4h0M431.5 318.9h0M420.6 290.8h0M437.7 298.8h0M428.4 323.7h0M411.5 310.4h0M421.1 316.9h0M423.9 323.8h0M413.9 320.8h0M416.2 291.3h0M423.9 307.7h0M435.5 313.5h0M439.6 315.2h0M416.4 304.7h0M439.9 321.6h0M429.7 312.7h0M414.2 320.9h0M426.1 312.8h0M420.5 313.9h0M427.6 296.4h0M431.0 302.9h0M433.6 295.8h0M428.1 303.8h0M436.3 300.3h0M416.9 316.9h0M429.2 300.9h0M424.1 313.1h0M426.2 317.2h0M440.2 315.2h0M430.9 299.6h0M431.0 311.2h0M413.2 322.6h0M417.6 300.5h0M435.5 294.9h0M411.7 323.7h0M429.4 316.3h0M424.5 320.4h0M428.3 314.6h0M422.3 303.6h0M414.9 313.5h0M438.2 319.5h0M437.9 316.7h0M417.1 317.5h0M432.0 305.8h0M427.7 321.5h0M414.1 294.4h0M424.8 308.1h0M427.7 300.7h0M433.9 305.1h0M435.7 320.6h0M423.6 321.1h0M424.2 295.3h0M437.2 305.3h0M433.8 318.8h0M419.0 316.6h0M425.4 298.1h0M424.0 314.4h0M417.6 301.4h0M438.2 292.6h0M415.0 303.0h0M415.1 297.2h0M423.2 301.2h0M424.8 291.9h0M436.3 303.2h0M434.3 322.4h0M410.9 320.2h0M428.3 306.3h0M439.7 300.1h0M422.5 320.6h0M436.4 308.4h0M433.2 317.4h0M438.3 306.6h0M418.8 306.6h0M422.4 312.9h0M435.2 314.8h0M436.5 321.5h0M440.9 308.2h0M438.6 310.2h0M431.0 292.7h0M423.7 319.7h0M416.0 298.8h0M420.5 305.5h0M420.8 320.1h0M419.0 322.6h0M423.5 318.6h0M425.0 315.6h0M411.9 322.6h0M417.3 292.2h0M440.2 291.2h0M411.3 298.3h0M436.5 311.2h0M417.7 306.1h0M413.9 322.5h0M424.8 298.6h0M421.8 310.7h0M440.4 314.6h0M434.6 295.4h0M420.0 309.8h0M439.3 309.7h0M438.6 302.7h0M439.7 296.6h0M428.8 318.5h0M417.9 313.9h0M419.7 313.4h0M435.4 317.3h0M428.0 291.2h0M426.9 312.6h0M412.5 312.1h0M410.7 304.3h0M425.6 304.8h0M421.6 320.6h0M424.6 295.1h0M415.8 307.8h0M430.6 311.0h0M439.0 316.5h0M424.8 318.3h0M428.8 300.9h0M418.0 322.0h0M419.0 305.4h0M433.7 309.5h0M431.1 301.4h0M425.7 301.0h0M425.5 302.0h0M418.4 299.4h0M428.9 320.2h0M427.6 307.6h0M416.3 298.1h0M423.0 309.0h0M417.8 306.2h0M432.5 305.3h0" stroke="#555560" stroke-width="0.5" stroke-linecap="round" opacity="0.38"/>
<path d="M411.7 300.8l3.4 1.9M417.4 312.1l3.3 1.8M425.2 302.3l5.5 3.0M425.2 302.5l3.6 2.0M419.0 298.8l4.5 2.5M419.3 314.5l5.3 2.9M428.7 297.6l4.6 2.5M418.3 309.8l4.7 2.6M426.3 321.7l4.9 2.7M418.8 302.8l3.1 1.7M429.1 295.7l2.2 1.2M412.7 300.7l5.3 2.9" stroke="#70707c" stroke-width="0.4" opacity="0.55" fill="none"/>
<path d="M427.3 310.1h0M421.1 299.0h0M434.9 304.4h0M440.4 319.4h0M418.7 311.9h0M434.5 308.1h0M417.9 309.3h0M410.7 314.1h0M423.2 319.5h0M430.6 312.0h0M432.9 317.3h0M438.3 295.6h0M416.3 297.4h0M415.3 322.8h0M414.6 301.9h0" stroke="#6a5fd0" stroke-width="2.3" stroke-linecap="round" opacity="0.4" filter="url(#b0)"/>
<path d="M414.8 293.5h0M413.4 297.9h0M427.8 314.4h0M433.9 295.4h0M419.1 297.3h0M413.6 303.0h0M424.7 294.3h0M412.9 300.0h0M436.8 319.5h0M417.0 299.1h0M412.5 321.1h0M432.6 297.3h0M423.7 309.9h0M441.2 294.7h0M422.3 324.0h0M432.7 313.2h0M423.9 305.5h0M437.5 299.0h0M416.0 321.1h0M419.7 311.8h0M415.2 316.0h0M420.5 290.7h0M433.0 317.8h0M426.9 294.3h0M439.7 295.6h0M429.2 322.9h0M433.8 313.5h0M422.8 312.9h0M432.8 320.1h0M418.0 306.1h0M413.4 312.5h0M419.1 298.5h0M424.1 319.4h0M412.1 324.1h0M440.3 321.6h0M422.5 321.6h0M419.3 313.8h0M434.6 312.6h0M428.5 307.1h0M416.2 310.3h0M417.7 294.1h0M418.1 310.3h0M423.4 309.9h0M439.3 297.0h0M417.9 303.5h0M419.7 300.8h0M412.7 305.6h0M418.0 299.7h0M427.2 300.3h0" stroke="#6a5fd0" stroke-width="0.8" stroke-linecap="round" opacity="0.65"/>
<path d="M430.2 290.9h0M423.4 305.3h0M437.8 302.3h0M411.9 297.8h0M424.5 318.4h0.6M430.5 310.8h-0.6M418.0 305.8h-0.6M431.7 297.5h0M417.6 291.1h0.6M437.7 311.9h0M418.1 309.1h-0.6M433.8 319.4h0M437.6 318.4h0M438.2 305.4h0M420.9 310.1h0M412.6 291.1h-0.6M417.8 312.8h0M416.4 308.3h0M415.6 306.6h0.6M433.2 292.1h0M441.2 292.5h0.6" stroke="#4236b8" stroke-width="1.3" stroke-linecap="round" opacity="0.7"/>
<line x1="409.30" y1="288.80" x2="409.30" y2="325.30" stroke="#444" stroke-width="1" shape-rendering="crispEdges"/>
<path d="M463.1 318.1h0M462.1 290.7h0M446.8 320.2h0M465.0 321.0h0M470.9 297.8h0M473.7 310.9h0M465.9 307.6h0M451.4 306.6h0M457.7 300.1h0M454.0 305.1h0M451.7 294.6h0M468.2 302.2h0M454.7 316.8h0M464.9 305.2h0M453.0 317.3h0M450.8 305.8h0M455.0 324.1h0M450.9 310.3h0M459.7 291.5h0M449.1 320.4h0M467.7 297.2h0M449.0 322.2h0M461.6 314.5h0M471.3 298.8h0M458.8 321.3h0M449.2 298.6h0M470.6 318.8h0M459.3 294.4h0M469.1 300.4h0M466.8 298.6h0M448.2 313.7h0M455.6 302.8h0M457.0 305.6h0M458.0 312.2h0M446.8 313.1h0M458.4 318.0h0M452.3 312.8h0M449.8 313.9h0M464.4 308.6h0M458.2 322.6h0M454.5 292.6h0M453.7 291.3h0M470.9 318.6h0M449.2 311.5h0M449.8 319.3h0M456.2 291.8h0M463.0 292.7h0M471.0 321.8h0M462.4 298.2h0M467.3 291.2h0M446.9 300.3h0M445.7 319.9h0M464.0 317.7h0M463.7 297.5h0M452.0 310.8h0M467.8 311.4h0M453.4 317.4h0M456.1 311.5h0M469.6 312.7h0M457.6 310.2h0M449.8 304.9h0M469.1 306.5h0M444.0 317.9h0M448.2 290.9h0M461.3 316.3h0M446.9 305.1h0M457.7 294.0h0M462.8 298.5h0M464.7 307.1h0M459.6 297.8h0M466.9 290.2h0M453.1 293.3h0M446.1 290.2h0M459.6 292.3h0M447.0 304.7h0M464.4 296.8h0M463.7 309.1h0M471.9 317.8h0M473.9 302.1h0M470.7 300.9h0M452.2 304.5h0M444.2 314.8h0M446.2 310.9h0M445.3 304.5h0M451.3 322.4h0M452.7 302.1h0M452.9 294.1h0M463.3 300.2h0M451.8 300.6h0M454.3 317.2h0M450.1 294.1h0M453.6 309.5h0M452.2 293.6h0M454.5 322.9h0M471.0 305.1h0M456.8 295.8h0M464.1 314.7h0M451.4 311.4h0M446.6 300.7h0M452.4 317.3h0M462.5 307.4h0M456.9 308.8h0M458.3 298.7h0M469.0 317.3h0M455.4 303.7h0M471.9 290.5h0M467.0 295.6h0M449.3 301.9h0M462.7 300.8h0M459.4 307.5h0M471.7 309.8h0M451.8 311.6h0M460.6 300.3h0M465.7 290.1h0M473.8 319.9h0M445.4 314.3h0M447.5 324.0h0M457.4 315.5h0M451.4 312.4h0M444.4 317.4h0M451.7 295.7h0M457.0 307.1h0M444.9 295.6h0M455.2 308.6h0M465.0 294.5h0M468.7 302.2h0M473.9 302.6h0M457.2 302.2h0M446.0 321.8h0M461.7 315.9h0M448.2 306.6h0M452.3 299.2h0M455.6 311.4h0M457.5 313.9h0M473.8 310.2h0M468.0 322.6h0M473.3 301.8h0M469.2 313.9h0M444.1 318.1h0M471.1 320.7h0M453.9 314.9h0M468.9 305.1h0M463.1 303.0h0M471.8 307.9h0M450.9 304.6h0M461.5 302.8h0M453.6 311.5h0M453.3 306.6h0M446.1 300.8h0M447.0 306.4h0M453.6 302.8h0M444.4 323.9h0M450.0 290.1h0M461.4 291.1h0M461.0 321.3h0M445.3 306.2h0M469.1 298.0h0M447.5 291.8h0M464.9 316.1h0M456.6 301.8h0M473.7 298.4h0M468.1 317.7h0M457.4 316.9h0M453.5 320.9h0M466.4 311.3h0M469.3 313.1h0M470.1 302.0h0M455.0 322.4h0M456.9 300.6h0M468.3 301.9h0" stroke="#555560" stroke-width="0.5" stroke-linecap="round" opacity="0.38"/>
<path d="M454.8 309.1l2.3 1.3M465.3 310.4l2.2 1.2M446.8 300.8l3.5 1.9M464.3 316.2l4.6 2.5M462.5 307.4l2.3 1.3M453.2 314.5l2.1 1.1M450.5 292.3l3.1 1.7M452.5 306.4l2.6 1.4M458.0 295.4l4.8 2.6M465.1 304.4l5.1 2.8M460.9 308.9l4.2 2.3M455.5 296.0l5.1 2.8M450.1 318.5l3.3 1.8M458.1 310.6l3.3 1.8M469.0 317.7l3.3 1.8M452.8 318.9l5.3 2.9M453.4 295.8l3.9 2.1M455.9 305.3l4.1 2.3M444.8 309.1l4.4 2.4M458.1 291.9l4.0 2.2M467.2 312.7l3.8 2.1M453.8 298.4l3.6 2.0" stroke="#70707c" stroke-width="0.4" opacity="0.55" fill="none"/>
<path d="M454.9 313.8h0M461.1 302.9h0M472.0 313.2h0M446.2 294.3h0M446.9 296.4h0" stroke="#6a5fd0" stroke-width="2.3" stroke-linecap="round" opacity="0.4" filter="url(#b0)"/>
<path d="M461.8 310.8h0M461.2 311.3h0M470.6 322.4h0M446.6 307.5h0M467.1 310.4h0M445.6 322.1h0M452.7 320.3h0M446.8 319.2h0M462.6 316.8h0M453.7 308.0h0M448.8 318.9h0M445.2 310.2h0M449.3 310.6h0M460.4 293.9h0M467.3 322.6h0M445.0 323.0h0M463.8 295.3h0M447.0 308.2h0M444.9 290.1h0M473.3 294.2h0M473.7 320.8h0M453.9 314.5h0M472.1 314.0h0M469.7 303.1h0M446.5 297.0h0M456.0 313.4h0M451.6 310.0h0M467.4 296.4h0M449.4 297.4h0M473.7 297.7h0M445.6 290.9h0M462.3 307.4h0M469.8 322.4h0M451.7 294.4h0M448.4 290.2h0M453.2 308.4h0M450.5 314.9h0M463.1 299.8h0M452.8 306.4h0M471.3 315.7h0M469.3 310.8h0" stroke="#6a5fd0" stroke-width="0.8" stroke-linecap="round" opacity="0.65"/>
<path d="M444.9 313.7h0.6M445.4 293.7h0M453.6 301.8h0M445.2 298.0h0.6M447.5 311.2h0.6M448.3 298.3h0M451.8 313.8h-0.6M467.8 306.4h0.6M459.4 309.6h-0.6" stroke="#4236b8" stroke-width="1.3" stroke-linecap="round" opacity="0.7"/>
<line x1="442.50" y1="288.80" x2="442.50" y2="325.30" stroke="#444" stroke-width="1" shape-rendering="crispEdges"/>
<text x="329.80" y="201.09" font-size="14.3" text-anchor="middle" stroke="#000" stroke-width="0.25">*</text>
<text x="355.00" y="218.49" font-size="14.3" text-anchor="middle" stroke="#000" stroke-width="0.25" letter-spacing="0.4">**</text>
<text x="421.80" y="204.19" font-size="14.3" text-anchor="middle" stroke="#000" stroke-width="0.25">*</text>
<text x="446.80" y="231.69" font-size="14.3" text-anchor="middle" stroke="#000" stroke-width="0.25" letter-spacing="0.4">**</text>
<text x="1.80" y="351.20" font-size="15.5" font-weight="bold">e</text>
<line x1="14.90" y1="362.00" x2="14.90" y2="549.80" stroke="#222" stroke-width="0.6"/>
<path d="M14.9 360.4l-1.2 2.8h2.4z" fill="#000"/>
<line x1="14.90" y1="549.60" x2="195.50" y2="549.60" stroke="#222" stroke-width="0.6"/>
<path d="M197.6 549.6l-2.8 -1.2v2.4z" fill="#000"/>
<text x="177.00" y="559.60" font-size="7.4" text-anchor="middle" font-weight="bold">PI Staining</text>
<text transform="translate(10.10,408.20) rotate(-90)" font-size="9" text-anchor="middle" font-weight="bold">AGS</text>
<text transform="translate(9.70,382.00) rotate(-90)" font-size="6.6" text-anchor="middle">Number</text>
<text transform="translate(10.10,509.00) rotate(-90)" font-size="9" text-anchor="middle" font-weight="bold">MKN28</text>
<text x="26.40" y="365.30" font-size="7.3" font-weight="bold">siScramble</text>
<text x="113.80" y="365.30" font-size="7.3" font-weight="bold">siFGF18-2</text>
<line x1="23.40" y1="367.70" x2="23.40" y2="438.10" stroke="#555" stroke-width="0.5"/>
<line x1="19.90" y1="438.10" x2="103.00" y2="438.10" stroke="#555" stroke-width="0.5"/>
<text transform="translate(21.00,424.30) rotate(-90)" font-size="2.4" text-anchor="middle" fill="#666">400</text>
<text transform="translate(21.00,409.30) rotate(-90)" font-size="2.4" text-anchor="middle" fill="#666">800</text>
<text transform="translate(21.00,394.30) rotate(-90)" font-size="2.4" text-anchor="middle" fill="#666">1200</text>
<text transform="translate(21.00,379.30) rotate(-90)" font-size="2.4" text-anchor="middle" fill="#666">1600</text>
<text x="23.40" y="442.00" font-size="2.2" text-anchor="middle" fill="#666">0</text>
<text x="36.50" y="442.00" font-size="2.2" text-anchor="middle" fill="#666">30</text>
<text x="49.60" y="442.00" font-size="2.2" text-anchor="middle" fill="#666">60</text>
<text x="62.70" y="442.00" font-size="2.2" text-anchor="middle" fill="#666">90</text>
<text x="75.80" y="442.00" font-size="2.2" text-anchor="middle" fill="#666">120</text>
<text x="88.90" y="442.00" font-size="2.2" text-anchor="middle" fill="#666">150</text>
<text x="102.00" y="442.00" font-size="2.2" text-anchor="middle" fill="#666">180</text>
<path d="M23.4 438.10h-1.7M23.4 436.60h-0.9M23.4 435.10h-0.9M23.4 433.60h-0.9M23.4 432.10h-0.9M23.4 430.60h-0.9M23.4 429.10h-0.9M23.4 427.60h-0.9M23.4 426.10h-0.9M23.4 424.60h-0.9M23.4 423.10h-1.7M23.4 421.60h-0.9M23.4 420.10h-0.9M23.4 418.60h-0.9M23.4 417.10h-0.9M23.4 415.60h-0.9M23.4 414.10h-0.9M23.4 412.60h-0.9M23.4 411.10h-0.9M23.4 409.60h-0.9M23.4 408.10h-1.7M23.4 406.60h-0.9M23.4 405.10h-0.9M23.4 403.60h-0.9M23.4 402.10h-0.9M23.4 400.60h-0.9M23.4 399.10h-0.9M23.4 397.60h-0.9M23.4 396.10h-0.9M23.4 394.60h-0.9M23.4 393.10h-1.7M23.4 391.60h-0.9M23.4 390.10h-0.9M23.4 388.60h-0.9M23.4 387.10h-0.9M23.4 385.60h-0.9M23.4 384.10h-0.9M23.4 382.60h-0.9M23.4 381.10h-0.9M23.4 379.60h-0.9M23.4 378.10h-1.7M23.4 376.60h-0.9M23.4 375.10h-0.9M23.4 373.60h-0.9M23.4 372.10h-0.9M23.4 370.60h-0.9M23.4 369.10h-0.9M23.40 438.1v1.7M24.71 438.1v0.9M26.02 438.1v0.9M27.33 438.1v0.9M28.64 438.1v0.9M29.95 438.1v0.9M31.26 438.1v0.9M32.57 438.1v0.9M33.88 438.1v0.9M35.19 438.1v0.9M36.50 438.1v1.7M37.81 438.1v0.9M39.12 438.1v0.9M40.43 438.1v0.9M41.74 438.1v0.9M43.05 438.1v0.9M44.36 438.1v0.9M45.67 438.1v0.9M46.98 438.1v0.9M48.29 438.1v0.9M49.60 438.1v1.7M50.91 438.1v0.9M52.22 438.1v0.9M53.53 438.1v0.9M54.84 438.1v0.9M56.15 438.1v0.9M57.46 438.1v0.9M58.77 438.1v0.9M60.08 438.1v0.9M61.39 438.1v0.9M62.70 438.1v1.7M64.01 438.1v0.9M65.32 438.1v0.9M66.63 438.1v0.9M67.94 438.1v0.9M69.25 438.1v0.9M70.56 438.1v0.9M71.87 438.1v0.9M73.18 438.1v0.9M74.49 438.1v0.9M75.80 438.1v1.7M77.11 438.1v0.9M78.42 438.1v0.9M79.73 438.1v0.9M81.04 438.1v0.9M82.35 438.1v0.9M83.66 438.1v0.9M84.97 438.1v0.9M86.28 438.1v0.9M87.59 438.1v0.9M88.90 438.1v1.7M90.21 438.1v0.9M91.52 438.1v0.9M92.83 438.1v0.9M94.14 438.1v0.9M95.45 438.1v0.9M96.76 438.1v0.9M98.07 438.1v0.9M99.38 438.1v0.9M100.69 438.1v0.9M102.00 438.1v1.7" stroke="#333" stroke-width="0.55" fill="none"/>
<path d="M58.36 438.1L59.20 435.00L77.80 435.00L86.30 438.1Z" fill="url(#hat)" opacity="0.9"/>
<path d="M49.73 438.1L49.73 438.10L50.08 434.50L50.43 430.92L50.78 427.35L51.13 423.80L51.48 420.27L51.83 416.75L52.18 413.26L52.53 409.79L52.88 406.35L53.23 402.93L53.58 399.56L53.93 396.22L54.28 392.93L54.63 389.72L54.98 386.60L55.33 384.23L55.68 387.16L56.03 390.30L56.38 393.53L56.73 396.82L57.08 400.17L57.43 403.56L57.78 406.97L58.13 410.42L58.48 413.90L58.83 417.39L59.18 420.91L59.53 424.45L59.88 428.00L60.23 431.57L60.58 435.16L60.87 438.1Z" fill="#ee1111"/>
<path d="M77.30 438.1L77.30 438.03L77.80 437.94L78.30 437.76L78.80 437.45L79.30 436.96L79.80 436.27L80.30 435.40L80.80 434.44L81.30 433.56L81.80 432.93L82.30 432.70L82.80 432.93L83.30 433.56L83.80 434.44L84.30 435.40L84.80 436.27L85.30 436.96L85.80 437.45L86.30 437.76L86.80 437.94L87.30 438.03L87.30 438.1Z" fill="#e6e000" stroke="#8a8a00" stroke-width="0.3"/>
<path d="M31.40 438.09L31.80 438.09L32.20 438.09L32.60 438.09L33.00 438.09L33.40 438.09L33.80 438.09L34.20 438.09L34.60 438.09L35.00 438.09L35.40 438.09L35.80 438.08L36.20 438.08L36.60 438.08L37.00 438.08L37.40 438.08L37.80 438.07L38.20 438.07L38.60 438.07L39.00 438.07L39.40 438.06L39.80 438.06L40.20 438.05L40.60 438.05L41.00 438.04L41.40 438.04L41.80 438.03L42.20 438.02L42.60 438.02L43.00 438.01L43.40 438.00L43.80 437.99L44.20 437.97L44.60 437.96L45.00 437.95L45.40 437.93L45.80 437.91L46.20 437.89L46.60 437.87L47.00 437.85L47.40 437.82L47.80 437.79L48.20 437.76L48.60 437.72L49.00 436.58L49.40 432.97L49.80 429.37L50.20 425.79L50.60 422.22L51.00 418.67L51.40 415.15L51.80 411.64L52.20 408.16L52.60 404.71L53.00 401.28L53.40 397.89L53.80 394.55L54.20 391.26L54.60 388.04L55.00 384.93L55.40 383.47L55.80 386.47L56.20 389.64L56.60 392.89L57.00 396.21L57.40 399.58L57.80 402.99L58.20 406.43L58.60 409.90L59.00 413.39L59.40 416.91L59.80 420.45L60.20 424.00L60.60 427.58L61.00 431.17L61.40 434.77L61.80 435.00L62.20 435.00L62.60 435.00L63.00 435.00L63.40 435.00L63.80 435.00L64.20 435.00L64.60 435.00L65.00 435.00L65.40 435.00L65.80 435.00L66.20 435.00L66.60 435.00L67.00 435.00L67.40 435.00L67.80 435.00L68.20 435.00L68.60 435.00L69.00 435.00L69.40 435.00L69.80 435.00L70.20 435.00L70.60 435.00L71.00 435.00L71.40 435.00L71.80 435.00L72.20 435.00L72.60 435.00L73.00 435.00L73.40 435.00L73.80 435.00L74.20 434.99L74.60 434.99L75.00 434.98L75.40 434.96L75.80 434.93L76.20 434.88L76.60 434.80L77.00 434.69L77.40 434.52L77.80 434.30L78.20 434.00L78.60 433.61L79.00 433.15L79.40 432.61L79.80 432.01L80.20 431.39L80.60 430.77L81.00 430.21L81.40 429.76L81.80 429.45L82.20 429.31L82.60 429.35L83.00 429.59L83.40 429.99L83.80 430.54L84.20 431.22L84.60 432.02L85.00 432.94L85.40 433.94L85.80 434.93L86.20 435.80L86.60 436.50L87.00 436.79L87.40 436.93L87.80 437.06L88.20 437.17L88.60 437.27L89.00 437.36L89.40 437.44L89.80 437.51L90.20 437.57L90.60 437.63L91.00 437.68L91.40 437.73L91.80 437.77L92.20 437.80L92.60 437.84L93.00 437.86L93.40 437.89L93.80 437.91L94.20 437.93L94.60 437.95L95.00 437.97L95.40 437.98L95.80 437.99L96.20 438.01" fill="none" stroke="#222" stroke-width="0.5"/>
<text x="29.40" y="398.20" font-size="6.3" font-weight="bold" fill="#d2232a">G0/G1</text>
<text x="30.60" y="405.90" font-size="6.3" font-weight="bold" fill="#d2232a">64.8%</text>
<text x="70.40" y="420.20" font-size="6.3" text-anchor="middle" font-weight="bold" fill="#808080">S</text>
<text x="71.20" y="429.00" font-size="5.2" text-anchor="middle" font-weight="bold" fill="#808080">27.2%</text>
<text x="91.30" y="420.20" font-size="6.3" text-anchor="middle" font-weight="bold" fill="#f5b400">G2/M</text>
<text x="91.00" y="428.20" font-size="6.3" text-anchor="middle" font-weight="bold" fill="#f5b400">8%</text>
<line x1="110.00" y1="367.70" x2="110.00" y2="438.10" stroke="#555" stroke-width="0.5"/>
<line x1="106.50" y1="438.10" x2="191.80" y2="438.10" stroke="#555" stroke-width="0.5"/>
<text transform="translate(107.60,424.30) rotate(-90)" font-size="2.4" text-anchor="middle" fill="#666">400</text>
<text transform="translate(107.60,409.30) rotate(-90)" font-size="2.4" text-anchor="middle" fill="#666">800</text>
<text transform="translate(107.60,394.30) rotate(-90)" font-size="2.4" text-anchor="middle" fill="#666">1200</text>
<text transform="translate(107.60,379.30) rotate(-90)" font-size="2.4" text-anchor="middle" fill="#666">1600</text>
<text x="110.00" y="442.00" font-size="2.2" text-anchor="middle" fill="#666">0</text>
<text x="123.10" y="442.00" font-size="2.2" text-anchor="middle" fill="#666">30</text>
<text x="136.20" y="442.00" font-size="2.2" text-anchor="middle" fill="#666">60</text>
<text x="149.30" y="442.00" font-size="2.2" text-anchor="middle" fill="#666">90</text>
<text x="162.40" y="442.00" font-size="2.2" text-anchor="middle" fill="#666">120</text>
<text x="175.50" y="442.00" font-size="2.2" text-anchor="middle" fill="#666">150</text>
<text x="188.60" y="442.00" font-size="2.2" text-anchor="middle" fill="#666">180</text>
<path d="M110.0 438.10h-1.7M110.0 436.60h-0.9M110.0 435.10h-0.9M110.0 433.60h-0.9M110.0 432.10h-0.9M110.0 430.60h-0.9M110.0 429.10h-0.9M110.0 427.60h-0.9M110.0 426.10h-0.9M110.0 424.60h-0.9M110.0 423.10h-1.7M110.0 421.60h-0.9M110.0 420.10h-0.9M110.0 418.60h-0.9M110.0 417.10h-0.9M110.0 415.60h-0.9M110.0 414.10h-0.9M110.0 412.60h-0.9M110.0 411.10h-0.9M110.0 409.60h-0.9M110.0 408.10h-1.7M110.0 406.60h-0.9M110.0 405.10h-0.9M110.0 403.60h-0.9M110.0 402.10h-0.9M110.0 400.60h-0.9M110.0 399.10h-0.9M110.0 397.60h-0.9M110.0 396.10h-0.9M110.0 394.60h-0.9M110.0 393.10h-1.7M110.0 391.60h-0.9M110.0 390.10h-0.9M110.0 388.60h-0.9M110.0 387.10h-0.9M110.0 385.60h-0.9M110.0 384.10h-0.9M110.0 382.60h-0.9M110.0 381.10h-0.9M110.0 379.60h-0.9M110.0 378.10h-1.7M110.0 376.60h-0.9M110.0 375.10h-0.9M110.0 373.60h-0.9M110.0 372.10h-0.9M110.0 370.60h-0.9M110.0 369.10h-0.9M110.00 438.1v1.7M111.31 438.1v0.9M112.62 438.1v0.9M113.93 438.1v0.9M115.24 438.1v0.9M116.55 438.1v0.9M117.86 438.1v0.9M119.17 438.1v0.9M120.48 438.1v0.9M121.79 438.1v0.9M123.10 438.1v1.7M124.41 438.1v0.9M125.72 438.1v0.9M127.03 438.1v0.9M128.34 438.1v0.9M129.65 438.1v0.9M130.96 438.1v0.9M132.27 438.1v0.9M133.58 438.1v0.9M134.89 438.1v0.9M136.20 438.1v1.7M137.51 438.1v0.9M138.82 438.1v0.9M140.13 438.1v0.9M141.44 438.1v0.9M142.75 438.1v0.9M144.06 438.1v0.9M145.37 438.1v0.9M146.68 438.1v0.9M147.99 438.1v0.9M149.30 438.1v1.7M150.61 438.1v0.9M151.92 438.1v0.9M153.23 438.1v0.9M154.54 438.1v0.9M155.85 438.1v0.9M157.16 438.1v0.9M158.47 438.1v0.9M159.78 438.1v0.9M161.09 438.1v0.9M162.40 438.1v1.7M163.71 438.1v0.9M165.02 438.1v0.9M166.33 438.1v0.9M167.64 438.1v0.9M168.95 438.1v0.9M170.26 438.1v0.9M171.57 438.1v0.9M172.88 438.1v0.9M174.19 438.1v0.9M175.50 438.1v1.7M176.81 438.1v0.9M178.12 438.1v0.9M179.43 438.1v0.9M180.74 438.1v0.9M182.05 438.1v0.9M183.36 438.1v0.9M184.67 438.1v0.9M185.98 438.1v0.9M187.29 438.1v0.9M188.60 438.1v1.7M189.91 438.1v0.9M191.22 438.1v0.9" stroke="#333" stroke-width="0.55" fill="none"/>
<path d="M146.27 438.1L147.08 435.30L166.70 435.30L175.20 438.1Z" fill="url(#hat)" opacity="0.9"/>
<path d="M137.91 438.1L137.91 438.10L138.26 434.04L138.61 430.00L138.96 425.98L139.31 421.98L139.66 418.00L140.01 414.04L140.36 410.11L140.71 406.20L141.06 402.33L141.41 398.49L141.76 394.69L142.11 390.95L142.46 387.27L142.81 383.69L143.16 380.27L143.51 380.86L143.86 384.32L144.21 387.92L144.56 391.61L144.91 395.36L145.26 399.17L145.61 403.01L145.96 406.89L146.31 410.80L146.66 414.74L147.01 418.70L147.36 422.69L147.71 426.69L148.06 430.72L148.41 434.76L148.69 438.1Z" fill="#ee1111"/>
<path d="M166.20 438.1L166.20 438.06L166.70 438.00L167.20 437.89L167.70 437.70L168.20 437.40L168.70 436.98L169.20 436.45L169.70 435.86L170.20 435.32L170.70 434.94L171.20 434.80L171.70 434.94L172.20 435.32L172.70 435.86L173.20 436.45L173.70 436.98L174.20 437.40L174.70 437.70L175.20 437.89L175.70 438.00L176.20 438.06L176.20 438.1Z" fill="#e6e000" stroke="#8a8a00" stroke-width="0.3"/>
<path d="M118.00 438.10L118.40 438.10L118.80 438.10L119.20 438.10L119.60 438.09L120.00 438.09L120.40 438.09L120.80 438.09L121.20 438.09L121.60 438.09L122.00 438.09L122.40 438.09L122.80 438.09L123.20 438.09L123.60 438.09L124.00 438.08L124.40 438.08L124.80 438.08L125.20 438.08L125.60 438.08L126.00 438.07L126.40 438.07L126.80 438.07L127.20 438.07L127.60 438.06L128.00 438.06L128.40 438.05L128.80 438.05L129.20 438.04L129.60 438.04L130.00 438.03L130.40 438.02L130.80 438.02L131.20 438.01L131.60 438.00L132.00 437.99L132.40 437.97L132.80 437.96L133.20 437.95L133.60 437.93L134.00 437.91L134.40 437.89L134.80 437.87L135.20 437.85L135.60 437.82L136.00 437.79L136.40 437.76L136.80 437.72L137.20 436.13L137.60 432.09L138.00 428.06L138.40 424.04L138.80 420.05L139.20 416.08L139.60 412.14L140.00 408.21L140.40 404.32L140.80 400.46L141.20 396.64L141.60 392.86L142.00 389.13L142.40 385.47L142.80 381.91L143.20 378.55L143.60 380.19L144.00 383.68L144.40 387.29L144.80 390.99L145.20 394.74L145.60 398.54L146.00 402.39L146.40 406.26L146.80 410.17L147.20 414.11L147.60 418.07L148.00 422.05L148.40 426.05L148.80 430.07L149.20 434.11L149.60 435.30L150.00 435.30L150.40 435.30L150.80 435.30L151.20 435.30L151.60 435.30L152.00 435.30L152.40 435.30L152.80 435.30L153.20 435.30L153.60 435.30L154.00 435.30L154.40 435.30L154.80 435.30L155.20 435.30L155.60 435.30L156.00 435.30L156.40 435.30L156.80 435.30L157.20 435.30L157.60 435.30L158.00 435.30L158.40 435.30L158.80 435.30L159.20 435.30L159.60 435.30L160.00 435.30L160.40 435.30L160.80 435.30L161.20 435.30L161.60 435.30L162.00 435.30L162.40 435.30L162.80 435.30L163.20 435.29L163.60 435.29L164.00 435.28L164.40 435.27L164.80 435.24L165.20 435.21L165.60 435.15L166.00 435.06L166.40 434.94L166.80 434.77L167.20 434.55L167.60 434.28L168.00 433.95L168.40 433.57L168.80 433.15L169.20 432.72L169.60 432.31L170.00 431.94L170.40 431.65L170.80 431.46L171.20 431.40L171.60 431.46L172.00 431.65L172.40 431.96L172.80 432.37L173.20 432.88L173.60 433.50L174.00 434.22L174.40 435.00L174.80 435.77L175.20 436.44L175.60 436.67L176.00 436.83L176.40 436.96L176.80 437.09L177.20 437.20L177.60 437.29L178.00 437.38L178.40 437.46L178.80 437.53L179.20 437.59L179.60 437.64L180.00 437.69L180.40 437.74L180.80 437.78L181.20 437.81L181.60 437.84L182.00 437.87L182.40 437.90L182.80 437.92L183.20 437.94L183.60 437.95L184.00 437.97L184.40 437.98L184.80 438.00" fill="none" stroke="#222" stroke-width="0.5"/>
<text x="117.00" y="398.20" font-size="6.3" font-weight="bold" fill="#d2232a">G0/G1</text>
<text x="117.00" y="405.90" font-size="6.3" font-weight="bold" fill="#d2232a">72.23%</text>
<text x="156.60" y="422.00" font-size="6.3" text-anchor="middle" font-weight="bold" fill="#808080">S</text>
<text x="159.20" y="430.00" font-size="5.2" text-anchor="middle" font-weight="bold" fill="#808080">19.85%</text>
<text x="182.30" y="422.00" font-size="6.3" text-anchor="middle" font-weight="bold" fill="#f5b400">G2/M</text>
<text x="182.30" y="429.50" font-size="6.3" text-anchor="middle" font-weight="bold" fill="#f5b400">7.92%</text>
<rect x="167.40" y="363.40" width="6.30" height="3.80" fill="#ee1111" stroke="#800" stroke-width="0.3"/>
<text x="176.20" y="367.60" font-size="6.3" font-weight="bold" fill="#d2232a">G0/G1</text>
<rect x="167.40" y="370.30" width="6.30" height="3.80" fill="#e6e000" stroke="#880" stroke-width="0.3"/>
<text x="176.20" y="374.50" font-size="6.3" font-weight="bold" fill="#f5b400">G2/M</text>
<rect x="167.40" y="377.30" width="6.30" height="3.70" fill="url(#hat)" stroke="#666" stroke-width="0.3"/>
<text x="176.60" y="381.50" font-size="6.3" font-weight="bold" fill="#808080">S</text>
<line x1="23.40" y1="465.00" x2="23.40" y2="536.40" stroke="#555" stroke-width="0.5"/>
<line x1="19.90" y1="536.40" x2="103.00" y2="536.40" stroke="#555" stroke-width="0.5"/>
<text transform="translate(21.00,522.60) rotate(-90)" font-size="2.4" text-anchor="middle" fill="#666">400</text>
<text transform="translate(21.00,507.60) rotate(-90)" font-size="2.4" text-anchor="middle" fill="#666">800</text>
<text transform="translate(21.00,492.60) rotate(-90)" font-size="2.4" text-anchor="middle" fill="#666">1200</text>
<text transform="translate(21.00,477.60) rotate(-90)" font-size="2.4" text-anchor="middle" fill="#666">1600</text>
<text x="23.40" y="540.30" font-size="2.2" text-anchor="middle" fill="#666">0</text>
<text x="36.50" y="540.30" font-size="2.2" text-anchor="middle" fill="#666">30</text>
<text x="49.60" y="540.30" font-size="2.2" text-anchor="middle" fill="#666">60</text>
<text x="62.70" y="540.30" font-size="2.2" text-anchor="middle" fill="#666">90</text>
<text x="75.80" y="540.30" font-size="2.2" text-anchor="middle" fill="#666">120</text>
<text x="88.90" y="540.30" font-size="2.2" text-anchor="middle" fill="#666">150</text>
<text x="102.00" y="540.30" font-size="2.2" text-anchor="middle" fill="#666">180</text>
<path d="M23.4 536.40h-1.7M23.4 534.90h-0.9M23.4 533.40h-0.9M23.4 531.90h-0.9M23.4 530.40h-0.9M23.4 528.90h-0.9M23.4 527.40h-0.9M23.4 525.90h-0.9M23.4 524.40h-0.9M23.4 522.90h-0.9M23.4 521.40h-1.7M23.4 519.90h-0.9M23.4 518.40h-0.9M23.4 516.90h-0.9M23.4 515.40h-0.9M23.4 513.90h-0.9M23.4 512.40h-0.9M23.4 510.90h-0.9M23.4 509.40h-0.9M23.4 507.90h-0.9M23.4 506.40h-1.7M23.4 504.90h-0.9M23.4 503.40h-0.9M23.4 501.90h-0.9M23.4 500.40h-0.9M23.4 498.90h-0.9M23.4 497.40h-0.9M23.4 495.90h-0.9M23.4 494.40h-0.9M23.4 492.90h-0.9M23.4 491.40h-1.7M23.4 489.90h-0.9M23.4 488.40h-0.9M23.4 486.90h-0.9M23.4 485.40h-0.9M23.4 483.90h-0.9M23.4 482.40h-0.9M23.4 480.90h-0.9M23.4 479.40h-0.9M23.4 477.90h-0.9M23.4 476.40h-1.7M23.4 474.90h-0.9M23.4 473.40h-0.9M23.4 471.90h-0.9M23.4 470.40h-0.9M23.4 468.90h-0.9M23.4 467.40h-0.9M23.4 465.90h-0.9M23.40 536.4v1.7M24.71 536.4v0.9M26.02 536.4v0.9M27.33 536.4v0.9M28.64 536.4v0.9M29.95 536.4v0.9M31.26 536.4v0.9M32.57 536.4v0.9M33.88 536.4v0.9M35.19 536.4v0.9M36.50 536.4v1.7M37.81 536.4v0.9M39.12 536.4v0.9M40.43 536.4v0.9M41.74 536.4v0.9M43.05 536.4v0.9M44.36 536.4v0.9M45.67 536.4v0.9M46.98 536.4v0.9M48.29 536.4v0.9M49.60 536.4v1.7M50.91 536.4v0.9M52.22 536.4v0.9M53.53 536.4v0.9M54.84 536.4v0.9M56.15 536.4v0.9M57.46 536.4v0.9M58.77 536.4v0.9M60.08 536.4v0.9M61.39 536.4v0.9M62.70 536.4v1.7M64.01 536.4v0.9M65.32 536.4v0.9M66.63 536.4v0.9M67.94 536.4v0.9M69.25 536.4v0.9M70.56 536.4v0.9M71.87 536.4v0.9M73.18 536.4v0.9M74.49 536.4v0.9M75.80 536.4v1.7M77.11 536.4v0.9M78.42 536.4v0.9M79.73 536.4v0.9M81.04 536.4v0.9M82.35 536.4v0.9M83.66 536.4v0.9M84.97 536.4v0.9M86.28 536.4v0.9M87.59 536.4v0.9M88.90 536.4v1.7M90.21 536.4v0.9M91.52 536.4v0.9M92.83 536.4v0.9M94.14 536.4v0.9M95.45 536.4v0.9M96.76 536.4v0.9M98.07 536.4v0.9M99.38 536.4v0.9M100.69 536.4v0.9M102.00 536.4v1.7" stroke="#333" stroke-width="0.55" fill="none"/>
<path d="M56.11 536.4L56.87 533.00L76.00 533.00L84.50 536.4Z" fill="url(#hat)" opacity="0.9"/>
<path d="M48.20 536.4L48.20 536.40L48.55 531.31L48.90 526.24L49.25 521.19L49.60 516.17L49.95 511.18L50.30 506.22L50.65 501.30L51.00 496.41L51.35 491.57L51.70 486.78L52.05 482.05L52.40 477.41L52.75 472.87L53.10 468.51L53.45 467.82L53.80 472.13L54.15 476.65L54.50 481.28L54.85 485.99L55.20 490.77L55.55 495.61L55.90 500.49L56.25 505.40L56.60 510.36L56.95 515.34L57.30 520.36L57.65 525.40L58.00 530.47L58.35 535.55L58.40 536.4Z" fill="#ee1111"/>
<path d="M75.50 536.4L75.50 536.33L76.00 536.25L76.50 536.09L77.00 535.80L77.50 535.35L78.00 534.70L78.50 533.90L79.00 533.01L79.50 532.19L80.00 531.61L80.50 531.40L81.00 531.61L81.50 532.19L82.00 533.01L82.50 533.90L83.00 534.70L83.50 535.35L84.00 535.80L84.50 536.09L85.00 536.25L85.50 536.33L85.50 536.4Z" fill="#e6e000" stroke="#8a8a00" stroke-width="0.3"/>
<path d="M31.40 536.39L31.80 536.39L32.20 536.39L32.60 536.39L33.00 536.39L33.40 536.39L33.80 536.39L34.20 536.38L34.60 536.38L35.00 536.38L35.40 536.38L35.80 536.38L36.20 536.38L36.60 536.37L37.00 536.37L37.40 536.37L37.80 536.36L38.20 536.36L38.60 536.35L39.00 536.35L39.40 536.34L39.80 536.34L40.20 536.33L40.60 536.33L41.00 536.32L41.40 536.31L41.80 536.30L42.20 536.29L42.60 536.28L43.00 536.26L43.40 536.25L43.80 536.23L44.20 536.22L44.60 536.20L45.00 536.18L45.40 536.15L45.80 536.13L46.20 536.10L46.60 536.06L47.00 536.03L47.40 535.09L47.80 530.06L48.20 525.06L48.60 520.08L49.00 515.12L49.40 510.19L49.80 505.30L50.20 500.43L50.60 495.61L51.00 490.82L51.40 486.09L51.80 481.41L52.20 476.81L52.60 472.32L53.00 467.98L53.40 465.93L53.80 470.12L54.20 474.55L54.60 479.10L55.00 483.74L55.40 488.45L55.80 493.21L56.20 498.01L56.60 502.86L57.00 507.74L57.40 512.65L57.80 517.60L58.20 522.57L58.60 527.56L59.00 532.57L59.40 533.00L59.80 533.00L60.20 533.00L60.60 533.00L61.00 533.00L61.40 533.00L61.80 533.00L62.20 533.00L62.60 533.00L63.00 533.00L63.40 533.00L63.80 533.00L64.20 533.00L64.60 533.00L65.00 533.00L65.40 533.00L65.80 533.00L66.20 533.00L66.60 533.00L67.00 533.00L67.40 533.00L67.80 533.00L68.20 533.00L68.60 533.00L69.00 533.00L69.40 533.00L69.80 533.00L70.20 533.00L70.60 533.00L71.00 533.00L71.40 533.00L71.80 533.00L72.20 533.00L72.60 532.99L73.00 532.99L73.40 532.97L73.80 532.95L74.20 532.92L74.60 532.86L75.00 532.78L75.40 532.66L75.80 532.49L76.20 532.26L76.60 531.96L77.00 531.59L77.40 531.15L77.80 530.65L78.20 530.11L78.60 529.56L79.00 529.04L79.40 528.59L79.80 528.25L80.20 528.05L80.60 528.01L81.00 528.13L81.40 528.41L81.80 528.83L82.20 529.39L82.60 530.07L83.00 530.88L83.40 531.81L83.80 532.80L84.20 533.72L84.60 534.51L85.00 535.01L85.40 535.16L85.80 535.30L86.20 535.42L86.60 535.52L87.00 535.62L87.40 535.70L87.80 535.78L88.20 535.84L88.60 535.90L89.00 535.96L89.40 536.01L89.80 536.05L90.20 536.09L90.60 536.12L91.00 536.15L91.40 536.18L91.80 536.20L92.20 536.22L92.60 536.24L93.00 536.26L93.40 536.27L93.80 536.29L94.20 536.30" fill="none" stroke="#222" stroke-width="0.5"/>
<text x="27.70" y="497.00" font-size="6.3" font-weight="bold" fill="#d2232a">G0/G1</text>
<text x="27.70" y="504.60" font-size="6.3" font-weight="bold" fill="#d2232a">68.61%</text>
<text x="66.70" y="519.00" font-size="6.3" text-anchor="middle" font-weight="bold" fill="#808080">S</text>
<text x="68.40" y="527.50" font-size="5.2" text-anchor="middle" font-weight="bold" fill="#808080">23.39%</text>
<text x="88.70" y="518.20" font-size="6.3" text-anchor="middle" font-weight="bold" fill="#f5b400">G2/M</text>
<text x="88.50" y="526.60" font-size="6.3" text-anchor="middle" font-weight="bold" fill="#f5b400">8%</text>
<line x1="112.00" y1="464.40" x2="112.00" y2="536.40" stroke="#555" stroke-width="0.5"/>
<line x1="108.50" y1="536.40" x2="192.00" y2="536.40" stroke="#555" stroke-width="0.5"/>
<text transform="translate(109.60,522.60) rotate(-90)" font-size="2.4" text-anchor="middle" fill="#666">400</text>
<text transform="translate(109.60,507.60) rotate(-90)" font-size="2.4" text-anchor="middle" fill="#666">800</text>
<text transform="translate(109.60,492.60) rotate(-90)" font-size="2.4" text-anchor="middle" fill="#666">1200</text>
<text transform="translate(109.60,477.60) rotate(-90)" font-size="2.4" text-anchor="middle" fill="#666">1600</text>
<text x="112.00" y="540.30" font-size="2.2" text-anchor="middle" fill="#666">0</text>
<text x="125.10" y="540.30" font-size="2.2" text-anchor="middle" fill="#666">30</text>
<text x="138.20" y="540.30" font-size="2.2" text-anchor="middle" fill="#666">60</text>
<text x="151.30" y="540.30" font-size="2.2" text-anchor="middle" fill="#666">90</text>
<text x="164.40" y="540.30" font-size="2.2" text-anchor="middle" fill="#666">120</text>
<text x="177.50" y="540.30" font-size="2.2" text-anchor="middle" fill="#666">150</text>
<text x="190.60" y="540.30" font-size="2.2" text-anchor="middle" fill="#666">180</text>
<path d="M112.0 536.40h-1.7M112.0 534.90h-0.9M112.0 533.40h-0.9M112.0 531.90h-0.9M112.0 530.40h-0.9M112.0 528.90h-0.9M112.0 527.40h-0.9M112.0 525.90h-0.9M112.0 524.40h-0.9M112.0 522.90h-0.9M112.0 521.40h-1.7M112.0 519.90h-0.9M112.0 518.40h-0.9M112.0 516.90h-0.9M112.0 515.40h-0.9M112.0 513.90h-0.9M112.0 512.40h-0.9M112.0 510.90h-0.9M112.0 509.40h-0.9M112.0 507.90h-0.9M112.0 506.40h-1.7M112.0 504.90h-0.9M112.0 503.40h-0.9M112.0 501.90h-0.9M112.0 500.40h-0.9M112.0 498.90h-0.9M112.0 497.40h-0.9M112.0 495.90h-0.9M112.0 494.40h-0.9M112.0 492.90h-0.9M112.0 491.40h-1.7M112.0 489.90h-0.9M112.0 488.40h-0.9M112.0 486.90h-0.9M112.0 485.40h-0.9M112.0 483.90h-0.9M112.0 482.40h-0.9M112.0 480.90h-0.9M112.0 479.40h-0.9M112.0 477.90h-0.9M112.0 476.40h-1.7M112.0 474.90h-0.9M112.0 473.40h-0.9M112.0 471.90h-0.9M112.0 470.40h-0.9M112.0 468.90h-0.9M112.0 467.40h-0.9M112.0 465.90h-0.9M112.0 464.40h-0.9M112.00 536.4v1.7M113.31 536.4v0.9M114.62 536.4v0.9M115.93 536.4v0.9M117.24 536.4v0.9M118.55 536.4v0.9M119.86 536.4v0.9M121.17 536.4v0.9M122.48 536.4v0.9M123.79 536.4v0.9M125.10 536.4v1.7M126.41 536.4v0.9M127.72 536.4v0.9M129.03 536.4v0.9M130.34 536.4v0.9M131.65 536.4v0.9M132.96 536.4v0.9M134.27 536.4v0.9M135.58 536.4v0.9M136.89 536.4v0.9M138.20 536.4v1.7M139.51 536.4v0.9M140.82 536.4v0.9M142.13 536.4v0.9M143.44 536.4v0.9M144.75 536.4v0.9M146.06 536.4v0.9M147.37 536.4v0.9M148.68 536.4v0.9M149.99 536.4v0.9M151.30 536.4v1.7M152.61 536.4v0.9M153.92 536.4v0.9M155.23 536.4v0.9M156.54 536.4v0.9M157.85 536.4v0.9M159.16 536.4v0.9M160.47 536.4v0.9M161.78 536.4v0.9M163.09 536.4v0.9M164.40 536.4v1.7M165.71 536.4v0.9M167.02 536.4v0.9M168.33 536.4v0.9M169.64 536.4v0.9M170.95 536.4v0.9M172.26 536.4v0.9M173.57 536.4v0.9M174.88 536.4v0.9M176.19 536.4v0.9M177.50 536.4v1.7M178.81 536.4v0.9M180.12 536.4v0.9M181.43 536.4v0.9M182.74 536.4v0.9M184.05 536.4v0.9M185.36 536.4v0.9M186.67 536.4v0.9M187.98 536.4v0.9M189.29 536.4v0.9M190.60 536.4v1.7M191.91 536.4v0.9" stroke="#333" stroke-width="0.55" fill="none"/>
<path d="M146.05 536.4L146.75 534.00L168.00 534.00L176.50 536.4Z" fill="url(#hat)" opacity="0.9"/>
<path d="M138.86 536.4L138.86 536.40L139.21 530.51L139.56 524.65L139.91 518.83L140.26 513.03L140.61 507.28L140.96 501.56L141.31 495.90L141.66 490.29L142.01 484.74L142.36 479.27L142.71 473.90L143.06 468.68L143.41 463.73L143.76 466.08L144.11 471.19L144.46 476.49L144.81 481.91L145.16 487.42L145.51 493.00L145.86 498.64L146.21 504.33L146.56 510.07L146.91 515.84L147.26 521.65L147.61 527.50L147.96 533.37L148.14 536.4Z" fill="#ee1111"/>
<path d="M167.50 536.4L167.50 536.35L168.00 536.29L168.50 536.17L169.00 535.96L169.50 535.62L170.00 535.15L170.50 534.55L171.00 533.89L171.50 533.29L172.00 532.86L172.50 532.70L173.00 532.86L173.50 533.29L174.00 533.89L174.50 534.55L175.00 535.15L175.50 535.62L176.00 535.96L176.50 536.17L177.00 536.29L177.50 536.35L177.50 536.4Z" fill="#e6e000" stroke="#8a8a00" stroke-width="0.3"/>
<path d="M120.00 536.40L120.40 536.40L120.80 536.39L121.20 536.39L121.60 536.39L122.00 536.39L122.40 536.39L122.80 536.39L123.20 536.39L123.60 536.39L124.00 536.39L124.40 536.39L124.80 536.39L125.20 536.38L125.60 536.38L126.00 536.38L126.40 536.38L126.80 536.38L127.20 536.37L127.60 536.37L128.00 536.37L128.40 536.36L128.80 536.36L129.20 536.36L129.60 536.35L130.00 536.35L130.40 536.34L130.80 536.33L131.20 536.33L131.60 536.32L132.00 536.31L132.40 536.30L132.80 536.29L133.20 536.28L133.60 536.27L134.00 536.25L134.40 536.24L134.80 536.22L135.20 536.20L135.60 536.18L136.00 536.16L136.40 536.13L136.80 536.10L137.20 536.07L137.60 536.04L138.00 535.83L138.40 530.10L138.80 524.40L139.20 518.73L139.60 513.10L140.00 507.49L140.40 501.93L140.80 496.41L141.20 490.94L141.60 485.52L142.00 480.18L142.40 474.92L142.80 469.77L143.20 464.81L143.60 462.46L144.00 467.26L144.40 472.33L144.80 477.53L145.20 482.84L145.60 488.22L146.00 493.67L146.40 499.16L146.80 504.71L147.20 510.29L147.60 515.91L148.00 521.57L148.40 527.25L148.80 532.96L149.20 534.00L149.60 534.00L150.00 534.00L150.40 534.00L150.80 534.00L151.20 534.00L151.60 534.00L152.00 534.00L152.40 534.00L152.80 534.00L153.20 534.00L153.60 534.00L154.00 534.00L154.40 534.00L154.80 534.00L155.20 534.00L155.60 534.00L156.00 534.00L156.40 534.00L156.80 534.00L157.20 534.00L157.60 534.00L158.00 534.00L158.40 534.00L158.80 534.00L159.20 534.00L159.60 534.00L160.00 534.00L160.40 534.00L160.80 534.00L161.20 534.00L161.60 534.00L162.00 534.00L162.40 534.00L162.80 534.00L163.20 534.00L163.60 534.00L164.00 534.00L164.40 533.99L164.80 533.99L165.20 533.98L165.60 533.97L166.00 533.94L166.40 533.90L166.80 533.84L167.20 533.74L167.60 533.61L168.00 533.42L168.40 533.17L168.80 532.86L169.20 532.47L169.60 532.03L170.00 531.54L170.40 531.02L170.80 530.51L171.20 530.05L171.60 529.68L172.00 529.42L172.40 529.30L172.80 529.34L173.20 529.53L173.60 529.87L174.00 530.32L174.40 530.87L174.80 531.53L175.20 532.27L175.60 533.07L176.00 533.86L176.40 534.56L176.80 534.93L177.20 535.09L177.60 535.23L178.00 535.36L178.40 535.47L178.80 535.57L179.20 535.66L179.60 535.74L180.00 535.81L180.40 535.87L180.80 535.93L181.20 535.98L181.60 536.03L182.00 536.07L182.40 536.10L182.80 536.14L183.20 536.16L183.60 536.19L184.00 536.21L184.40 536.23L184.80 536.25L185.20 536.27L185.60 536.28L186.00 536.29L186.40 536.31" fill="none" stroke="#222" stroke-width="0.5"/>
<text x="117.00" y="496.20" font-size="6.3" font-weight="bold" fill="#d2232a">G0/G1</text>
<text x="117.00" y="503.80" font-size="6.3" font-weight="bold" fill="#d2232a">73.45%</text>
<text x="156.60" y="520.20" font-size="6.3" text-anchor="middle" font-weight="bold" fill="#808080">S</text>
<text x="159.20" y="527.60" font-size="5.2" text-anchor="middle" font-weight="bold" fill="#808080">18.55%</text>
<text x="179.80" y="518.90" font-size="6.3" text-anchor="middle" font-weight="bold" fill="#f5b400">G2/M</text>
<text x="180.00" y="526.50" font-size="6.3" text-anchor="middle" font-weight="bold" fill="#f5b400">8%</text>
<line x1="231.30" y1="358.50" x2="231.30" y2="442.40" stroke="#000" stroke-width="1" shape-rendering="crispEdges"/>
<line x1="231.30" y1="442.40" x2="295.00" y2="442.40" stroke="#000" stroke-width="1" shape-rendering="crispEdges"/>
<line x1="231.30" y1="442.40" x2="233.80" y2="442.40" stroke="#000" stroke-width="1" shape-rendering="crispEdges"/>
<text x="222.60" y="445.30" font-size="8.2" text-anchor="end">0</text>
<line x1="231.30" y1="425.70" x2="233.80" y2="425.70" stroke="#000" stroke-width="1" shape-rendering="crispEdges"/>
<text x="222.60" y="428.60" font-size="8.2" text-anchor="end">20</text>
<line x1="231.30" y1="409.00" x2="233.80" y2="409.00" stroke="#000" stroke-width="1" shape-rendering="crispEdges"/>
<text x="222.60" y="411.90" font-size="8.2" text-anchor="end">40</text>
<line x1="231.30" y1="392.30" x2="233.80" y2="392.30" stroke="#000" stroke-width="1" shape-rendering="crispEdges"/>
<text x="222.60" y="395.20" font-size="8.2" text-anchor="end">60</text>
<line x1="231.30" y1="375.60" x2="233.80" y2="375.60" stroke="#000" stroke-width="1" shape-rendering="crispEdges"/>
<text x="222.60" y="378.50" font-size="8.2" text-anchor="end">80</text>
<line x1="231.30" y1="358.90" x2="233.80" y2="358.90" stroke="#000" stroke-width="1" shape-rendering="crispEdges"/>
<text x="222.60" y="361.80" font-size="8.2" text-anchor="end">100</text>
<rect x="234.30" y="388.29" width="7.00" height="54.11" fill="#595959"/>
<line x1="237.80" y1="388.29" x2="237.80" y2="387.29" stroke="#333" stroke-width="1" shape-rendering="crispEdges"/>
<line x1="236.20" y1="387.29" x2="239.40" y2="387.29" stroke="#333" stroke-width="1" shape-rendering="crispEdges"/>
<rect x="241.30" y="382.11" width="7.00" height="60.29" fill="#ff0000"/>
<line x1="244.80" y1="382.11" x2="244.80" y2="380.28" stroke="#111" stroke-width="1" shape-rendering="crispEdges"/>
<line x1="243.20" y1="380.28" x2="246.40" y2="380.28" stroke="#111" stroke-width="1" shape-rendering="crispEdges"/>
<rect x="255.90" y="419.85" width="6.90" height="22.55" fill="#595959"/>
<line x1="259.35" y1="419.85" x2="259.35" y2="418.35" stroke="#333" stroke-width="1" shape-rendering="crispEdges"/>
<line x1="257.75" y1="418.35" x2="260.95" y2="418.35" stroke="#333" stroke-width="1" shape-rendering="crispEdges"/>
<rect x="262.80" y="425.87" width="7.00" height="16.53" fill="#ff0000"/>
<line x1="266.30" y1="425.87" x2="266.30" y2="425.20" stroke="#111" stroke-width="1" shape-rendering="crispEdges"/>
<line x1="264.70" y1="425.20" x2="267.90" y2="425.20" stroke="#111" stroke-width="1" shape-rendering="crispEdges"/>
<rect x="277.60" y="435.72" width="6.90" height="6.68" fill="#595959"/>
<line x1="281.05" y1="435.72" x2="281.05" y2="435.05" stroke="#333" stroke-width="1" shape-rendering="crispEdges"/>
<line x1="279.45" y1="435.05" x2="282.65" y2="435.05" stroke="#333" stroke-width="1" shape-rendering="crispEdges"/>
<rect x="284.50" y="435.72" width="7.00" height="6.68" fill="#ff0000"/>
<line x1="288.00" y1="435.72" x2="288.00" y2="434.38" stroke="#111" stroke-width="1" shape-rendering="crispEdges"/>
<line x1="286.40" y1="434.38" x2="289.60" y2="434.38" stroke="#111" stroke-width="1" shape-rendering="crispEdges"/>
<text x="241.70" y="455.00" font-size="6.5" text-anchor="middle" fill="#222" font-family="DejaVu Sans, sans-serif">G0/G1</text>
<text x="263.20" y="455.00" font-size="6.5" text-anchor="middle" fill="#222" font-family="DejaVu Sans, sans-serif">S</text>
<text x="284.60" y="455.00" font-size="6.5" text-anchor="middle" fill="#222" font-family="DejaVu Sans, sans-serif">G2/M</text>
<line x1="232.00" y1="462.30" x2="232.00" y2="547.00" stroke="#000" stroke-width="1" shape-rendering="crispEdges"/>
<line x1="232.00" y1="547.00" x2="295.70" y2="547.00" stroke="#000" stroke-width="1" shape-rendering="crispEdges"/>
<line x1="232.00" y1="547.00" x2="234.50" y2="547.00" stroke="#000" stroke-width="1" shape-rendering="crispEdges"/>
<text x="225.10" y="549.90" font-size="8.9" text-anchor="end">0</text>
<line x1="232.00" y1="530.14" x2="234.50" y2="530.14" stroke="#000" stroke-width="1" shape-rendering="crispEdges"/>
<text x="225.10" y="533.04" font-size="8.9" text-anchor="end">20</text>
<line x1="232.00" y1="513.28" x2="234.50" y2="513.28" stroke="#000" stroke-width="1" shape-rendering="crispEdges"/>
<text x="225.10" y="516.18" font-size="8.9" text-anchor="end">40</text>
<line x1="232.00" y1="496.42" x2="234.50" y2="496.42" stroke="#000" stroke-width="1" shape-rendering="crispEdges"/>
<text x="225.10" y="499.32" font-size="8.9" text-anchor="end">60</text>
<line x1="232.00" y1="479.56" x2="234.50" y2="479.56" stroke="#000" stroke-width="1" shape-rendering="crispEdges"/>
<text x="225.10" y="482.46" font-size="8.9" text-anchor="end">80</text>
<line x1="232.00" y1="462.70" x2="234.50" y2="462.70" stroke="#000" stroke-width="1" shape-rendering="crispEdges"/>
<text x="225.10" y="465.60" font-size="8.9" text-anchor="end">100</text>
<rect x="235.00" y="489.17" width="7.00" height="57.83" fill="#595959"/>
<line x1="238.50" y1="489.17" x2="238.50" y2="488.50" stroke="#333" stroke-width="1" shape-rendering="crispEdges"/>
<line x1="236.90" y1="488.50" x2="240.10" y2="488.50" stroke="#333" stroke-width="1" shape-rendering="crispEdges"/>
<rect x="242.00" y="485.12" width="7.00" height="61.88" fill="#ff0000"/>
<line x1="245.50" y1="485.12" x2="245.50" y2="484.11" stroke="#111" stroke-width="1" shape-rendering="crispEdges"/>
<line x1="243.90" y1="484.11" x2="247.10" y2="484.11" stroke="#111" stroke-width="1" shape-rendering="crispEdges"/>
<rect x="256.60" y="527.61" width="6.90" height="19.39" fill="#595959"/>
<line x1="260.05" y1="527.61" x2="260.05" y2="526.26" stroke="#333" stroke-width="1" shape-rendering="crispEdges"/>
<line x1="258.45" y1="526.26" x2="261.65" y2="526.26" stroke="#333" stroke-width="1" shape-rendering="crispEdges"/>
<rect x="263.50" y="531.83" width="7.00" height="15.17" fill="#ff0000"/>
<line x1="267.00" y1="531.83" x2="267.00" y2="530.31" stroke="#111" stroke-width="1" shape-rendering="crispEdges"/>
<line x1="265.40" y1="530.31" x2="268.60" y2="530.31" stroke="#111" stroke-width="1" shape-rendering="crispEdges"/>
<rect x="278.30" y="540.42" width="6.90" height="6.58" fill="#595959"/>
<line x1="281.75" y1="540.42" x2="281.75" y2="539.24" stroke="#333" stroke-width="1" shape-rendering="crispEdges"/>
<line x1="280.15" y1="539.24" x2="283.35" y2="539.24" stroke="#333" stroke-width="1" shape-rendering="crispEdges"/>
<rect x="285.20" y="540.42" width="7.00" height="6.58" fill="#ff0000"/>
<line x1="288.70" y1="540.42" x2="288.70" y2="539.58" stroke="#111" stroke-width="1" shape-rendering="crispEdges"/>
<line x1="287.10" y1="539.58" x2="290.30" y2="539.58" stroke="#111" stroke-width="1" shape-rendering="crispEdges"/>
<text x="242.40" y="559.60" font-size="6.5" text-anchor="middle" fill="#222" font-family="DejaVu Sans, sans-serif">G0/G1</text>
<text x="263.90" y="559.60" font-size="6.5" text-anchor="middle" fill="#222" font-family="DejaVu Sans, sans-serif">S</text>
<text x="285.30" y="559.60" font-size="6.5" text-anchor="middle" fill="#222" font-family="DejaVu Sans, sans-serif">G2/M</text>
<rect x="243.40" y="354.80" width="4.20" height="4.20" fill="#595959"/>
<text x="250.00" y="359.70" font-size="8.45">siScramble</text>
<rect x="243.40" y="363.20" width="4.20" height="4.20" fill="#ff0000"/>
<text x="250.00" y="368.50" font-size="8.45">siFGF18-2</text>
<text transform="translate(206.30,400.00) rotate(-90)" font-size="8.5" text-anchor="middle">Cell cycle percentage (%)</text>
<text transform="translate(206.90,504.90) rotate(-90)" font-size="8.5" text-anchor="middle">Cell cycle percentage (%)</text>
<text x="245.30" y="381.38" font-size="13.5" text-anchor="middle" stroke="#000" stroke-width="0.25">*</text>
<text x="266.70" y="425.38" font-size="13.5" text-anchor="middle" stroke="#000" stroke-width="0.25">*</text>
<text x="245.50" y="483.08" font-size="13.5" text-anchor="middle" stroke="#000" stroke-width="0.25">*</text>
<text x="267.00" y="529.58" font-size="13.5" text-anchor="middle" stroke="#000" stroke-width="0.25">*</text>
<text x="312.00" y="351.50" font-size="14.5" font-weight="bold">f</text>
<text x="382.30" y="351.50" font-size="10.2" text-anchor="middle">AGS</text>
<text x="443.30" y="351.50" font-size="10.2" text-anchor="middle">MKN28</text>
<rect x="359.60" y="354.00" width="47.30" height="1.30" fill="#6a6a6a"/>
<rect x="417.40" y="354.00" width="48.00" height="1.30" fill="#6a6a6a"/>
<text x="314.40" y="364.00" font-size="8.45">siScramble</text>
<text x="364.70" y="363.80" font-size="8.3" text-anchor="middle">+</text>
<text x="383.50" y="363.80" font-size="8.3" text-anchor="middle">-</text>
<text x="401.90" y="363.80" font-size="8.3" text-anchor="middle">-</text>
<text x="423.40" y="363.80" font-size="8.3" text-anchor="middle">+</text>
<text x="441.60" y="363.80" font-size="8.3" text-anchor="middle">-</text>
<text x="460.20" y="363.80" font-size="8.3" text-anchor="middle">-</text>
<text x="314.40" y="374.60" font-size="8.45">siFGF18-1</text>
<text x="364.70" y="374.40" font-size="8.3" text-anchor="middle">-</text>
<text x="383.50" y="374.40" font-size="8.3" text-anchor="middle">+</text>
<text x="401.90" y="374.40" font-size="8.3" text-anchor="middle">-</text>
<text x="423.40" y="374.40" font-size="8.3" text-anchor="middle">-</text>
<text x="441.60" y="374.40" font-size="8.3" text-anchor="middle">+</text>
<text x="460.20" y="374.40" font-size="8.3" text-anchor="middle">-</text>
<text x="314.40" y="385.20" font-size="8.45">siFGF18-2</text>
<text x="364.70" y="385.00" font-size="8.3" text-anchor="middle">-</text>
<text x="383.50" y="385.00" font-size="8.3" text-anchor="middle">-</text>
<text x="401.90" y="385.00" font-size="8.3" text-anchor="middle">+</text>
<text x="423.40" y="385.00" font-size="8.3" text-anchor="middle">-</text>
<text x="441.60" y="385.00" font-size="8.3" text-anchor="middle">-</text>
<text x="460.20" y="385.00" font-size="8.3" text-anchor="middle">+</text>
<rect x="354.10" y="388.50" width="57.30" height="15.30" fill="#f0f0f0" stroke="#222" stroke-width="0.8"/>
<rect x="413.70" y="388.50" width="57.80" height="15.30" fill="#f0f0f0" stroke="#222" stroke-width="0.8"/>
<text x="351.60" y="400.00" font-size="9.55" text-anchor="end">pMEK1/2</text>
<rect x="357.70" y="393.45" width="13.00" height="3.00" rx="4.50" ry="1.50" fill="#0a0a0a" opacity="0.42" filter="url(#b1)"/>
<rect x="375.90" y="393.35" width="13.00" height="3.20" rx="4.80" ry="1.60" fill="#0a0a0a" opacity="0.5" filter="url(#b1)"/>
<rect x="395.10" y="393.95" width="11.00" height="2.40" rx="3.60" ry="1.20" fill="#0a0a0a" opacity="0.15" filter="url(#b1)"/>
<rect x="416.75" y="393.45" width="13.50" height="3.40" rx="5.10" ry="1.70" fill="#0a0a0a" opacity="0.8" filter="url(#b1)"/>
<rect x="415.75" y="392.65" width="15.50" height="5.00" rx="3.40" ry="2.50" fill="#222" opacity="0.20" filter="url(#b2)"/>
<rect x="435.00" y="393.25" width="14.00" height="4.20" rx="6.30" ry="2.10" fill="#0a0a0a" opacity="0.85" filter="url(#b1)"/>
<rect x="434.00" y="392.45" width="16.00" height="5.80" rx="4.20" ry="2.90" fill="#222" opacity="0.21" filter="url(#b2)"/>
<rect x="455.90" y="394.15" width="9.00" height="2.00" rx="3.00" ry="1.00" fill="#0a0a0a" opacity="0.05" filter="url(#b1)"/>
<rect x="354.10" y="406.50" width="57.30" height="14.70" fill="#ececec" stroke="#222" stroke-width="0.8"/>
<rect x="413.70" y="406.50" width="57.80" height="14.70" fill="#ececec" stroke="#222" stroke-width="0.8"/>
<text x="351.60" y="419.80" font-size="9.55" text-anchor="end">pERK1/2</text>
<rect x="355.95" y="411.05" width="16.50" height="5.60" rx="8.25" ry="2.80" fill="#0a0a0a" opacity="1" filter="url(#b1)"/>
<rect x="354.95" y="410.25" width="18.50" height="7.20" rx="5.60" ry="3.60" fill="#222" opacity="0.25" filter="url(#b2)"/>
<rect x="376.90" y="412.75" width="11.00" height="2.80" rx="4.20" ry="1.40" fill="#0a0a0a" opacity="0.38" filter="url(#b1)"/>
<rect x="395.60" y="412.95" width="10.00" height="2.40" rx="3.60" ry="1.20" fill="#0a0a0a" opacity="0.25" filter="url(#b1)"/>
<rect x="416.00" y="412.05" width="15.00" height="4.20" rx="6.30" ry="2.10" fill="#0a0a0a" opacity="0.95" filter="url(#b1)"/>
<rect x="415.00" y="411.25" width="17.00" height="5.80" rx="4.20" ry="2.90" fill="#222" opacity="0.24" filter="url(#b2)"/>
<rect x="434.75" y="412.25" width="14.50" height="3.80" rx="5.70" ry="1.90" fill="#0a0a0a" opacity="0.9" filter="url(#b1)"/>
<rect x="433.75" y="411.45" width="16.50" height="5.40" rx="3.80" ry="2.70" fill="#222" opacity="0.23" filter="url(#b2)"/>
<rect x="453.15" y="412.45" width="14.50" height="3.40" rx="5.10" ry="1.70" fill="#0a0a0a" opacity="0.85" filter="url(#b1)"/>
<rect x="452.15" y="411.65" width="16.50" height="5.00" rx="3.40" ry="2.50" fill="#222" opacity="0.21" filter="url(#b2)"/>
<rect x="354.10" y="424.00" width="57.30" height="15.20" fill="#e5e5e5" stroke="#222" stroke-width="0.8"/>
<rect x="413.70" y="424.00" width="57.80" height="15.20" fill="#e5e5e5" stroke="#222" stroke-width="0.8"/>
<text x="351.60" y="435.60" font-size="9.55" text-anchor="end">ERK1/2</text>
<rect x="355.70" y="429.10" width="17.00" height="4.40" rx="6.60" ry="2.20" fill="#0a0a0a" opacity="0.95" filter="url(#b1)"/>
<rect x="354.70" y="428.30" width="19.00" height="6.00" rx="4.40" ry="3.00" fill="#222" opacity="0.24" filter="url(#b2)"/>
<rect x="374.65" y="430.20" width="15.50" height="3.80" rx="5.70" ry="1.90" fill="#0a0a0a" opacity="0.9" filter="url(#b1)"/>
<rect x="373.65" y="429.40" width="17.50" height="5.40" rx="3.80" ry="2.70" fill="#222" opacity="0.23" filter="url(#b2)"/>
<rect x="392.60" y="429.90" width="16.00" height="4.40" rx="6.60" ry="2.20" fill="#0a0a0a" opacity="0.95" filter="url(#b1)"/>
<rect x="391.60" y="429.10" width="18.00" height="6.00" rx="4.40" ry="3.00" fill="#222" opacity="0.24" filter="url(#b2)"/>
<rect x="416.00" y="430.00" width="15.00" height="3.80" rx="5.70" ry="1.90" fill="#0a0a0a" opacity="0.9" filter="url(#b1)"/>
<rect x="415.00" y="429.20" width="17.00" height="5.40" rx="3.80" ry="2.70" fill="#222" opacity="0.23" filter="url(#b2)"/>
<rect x="434.50" y="430.10" width="15.00" height="3.60" rx="5.40" ry="1.80" fill="#0a0a0a" opacity="0.9" filter="url(#b1)"/>
<rect x="433.50" y="429.30" width="17.00" height="5.20" rx="3.60" ry="2.60" fill="#222" opacity="0.23" filter="url(#b2)"/>
<rect x="452.65" y="429.80" width="15.50" height="4.20" rx="6.30" ry="2.10" fill="#0a0a0a" opacity="0.95" filter="url(#b1)"/>
<rect x="451.65" y="429.00" width="17.50" height="5.80" rx="4.20" ry="2.90" fill="#222" opacity="0.24" filter="url(#b2)"/>
<rect x="354.10" y="441.70" width="57.30" height="15.50" fill="#ebebeb" stroke="#222" stroke-width="0.8"/>
<rect x="413.70" y="441.70" width="57.80" height="15.50" fill="#ebebeb" stroke="#222" stroke-width="0.8"/>
<text x="351.60" y="452.90" font-size="9.55" text-anchor="end">Cyclin D1</text>
<rect x="356.70" y="445.65" width="15.00" height="4.60" rx="6.90" ry="2.30" fill="#0a0a0a" opacity="1" filter="url(#b1)"/>
<rect x="355.70" y="444.85" width="17.00" height="6.20" rx="4.60" ry="3.10" fill="#222" opacity="0.25" filter="url(#b2)"/>
<rect x="377.40" y="447.45" width="10.00" height="2.40" rx="3.60" ry="1.20" fill="#0a0a0a" opacity="0.15" filter="url(#b1)"/>
<rect x="394.10" y="447.05" width="13.00" height="3.20" rx="4.80" ry="1.60" fill="#0a0a0a" opacity="0.55" filter="url(#b1)"/>
<rect x="393.10" y="446.25" width="15.00" height="4.80" rx="3.20" ry="2.40" fill="#222" opacity="0.14" filter="url(#b2)"/>
<rect x="416.00" y="448.75" width="15.00" height="4.00" rx="6.00" ry="2.00" fill="#0a0a0a" opacity="0.95" filter="url(#b1)"/>
<rect x="415.00" y="447.95" width="17.00" height="5.60" rx="4.00" ry="2.80" fill="#222" opacity="0.24" filter="url(#b2)"/>
<rect x="435.25" y="448.35" width="13.50" height="3.40" rx="5.10" ry="1.70" fill="#0a0a0a" opacity="0.9" filter="url(#b1)"/>
<rect x="434.25" y="447.55" width="15.50" height="5.00" rx="3.40" ry="2.50" fill="#222" opacity="0.23" filter="url(#b2)"/>
<rect x="454.15" y="446.95" width="12.50" height="2.20" rx="3.30" ry="1.10" fill="#0a0a0a" opacity="0.5" filter="url(#b1)"/>
<rect x="354.10" y="459.60" width="57.30" height="15.90" fill="#e6e6e6" stroke="#222" stroke-width="0.8"/>
<rect x="413.70" y="459.60" width="57.80" height="15.90" fill="#e6e6e6" stroke="#222" stroke-width="0.8"/>
<text x="351.60" y="471.60" font-size="9.55" text-anchor="end">CDK4</text>
<rect x="356.70" y="465.95" width="15.00" height="3.20" rx="4.80" ry="1.60" fill="#0a0a0a" opacity="0.75" filter="url(#b1)"/>
<rect x="355.70" y="465.15" width="17.00" height="4.80" rx="3.20" ry="2.40" fill="#222" opacity="0.19" filter="url(#b2)"/>
<rect x="374.65" y="464.85" width="15.50" height="4.80" rx="7.20" ry="2.40" fill="#0a0a0a" opacity="0.9" filter="url(#b1)"/>
<rect x="373.65" y="464.05" width="17.50" height="6.40" rx="4.80" ry="3.20" fill="#222" opacity="0.23" filter="url(#b2)"/>
<rect x="393.60" y="466.55" width="14.00" height="4.00" rx="6.00" ry="2.00" fill="#0a0a0a" opacity="0.75" filter="url(#b1)"/>
<rect x="392.60" y="465.75" width="16.00" height="5.60" rx="4.00" ry="2.80" fill="#222" opacity="0.19" filter="url(#b2)"/>
<rect x="415.50" y="465.55" width="16.00" height="4.40" rx="6.60" ry="2.20" fill="#0a0a0a" opacity="0.95" filter="url(#b1)"/>
<rect x="414.50" y="464.75" width="18.00" height="6.00" rx="4.40" ry="3.00" fill="#222" opacity="0.24" filter="url(#b2)"/>
<rect x="434.00" y="464.85" width="16.00" height="4.60" rx="6.90" ry="2.30" fill="#0a0a0a" opacity="0.95" filter="url(#b1)"/>
<rect x="433.00" y="464.05" width="18.00" height="6.20" rx="4.60" ry="3.10" fill="#222" opacity="0.24" filter="url(#b2)"/>
<rect x="455.90" y="467.20" width="9.00" height="1.50" rx="2.25" ry="0.75" fill="#0a0a0a" opacity="0.45" filter="url(#b1)"/>
<rect x="354.10" y="477.70" width="57.30" height="15.30" fill="#e4e4e4" stroke="#222" stroke-width="0.8"/>
<rect x="413.70" y="477.70" width="57.80" height="15.30" fill="#e4e4e4" stroke="#222" stroke-width="0.8"/>
<text x="351.60" y="489.20" font-size="9.55" text-anchor="end">CDK6</text>
<rect x="356.45" y="482.85" width="15.50" height="3.40" rx="5.10" ry="1.70" fill="#0a0a0a" opacity="0.9" filter="url(#b1)"/>
<rect x="355.45" y="482.05" width="17.50" height="5.00" rx="3.40" ry="2.50" fill="#222" opacity="0.23" filter="url(#b2)"/>
<rect x="375.65" y="483.65" width="13.50" height="2.80" rx="4.20" ry="1.40" fill="#0a0a0a" opacity="0.8" filter="url(#b1)"/>
<rect x="374.65" y="482.85" width="15.50" height="4.40" rx="2.80" ry="2.20" fill="#222" opacity="0.20" filter="url(#b2)"/>
<rect x="393.85" y="483.75" width="13.50" height="2.60" rx="3.90" ry="1.30" fill="#0a0a0a" opacity="0.8" filter="url(#b1)"/>
<rect x="392.85" y="482.95" width="15.50" height="4.20" rx="2.60" ry="2.10" fill="#222" opacity="0.20" filter="url(#b2)"/>
<rect x="416.50" y="481.65" width="14.00" height="4.60" rx="6.90" ry="2.30" fill="#0a0a0a" opacity="0.9" filter="url(#b1)"/>
<rect x="415.50" y="480.85" width="16.00" height="6.20" rx="4.60" ry="3.10" fill="#222" opacity="0.23" filter="url(#b2)"/>
<rect x="437.50" y="482.35" width="9.00" height="2.40" rx="3.60" ry="1.20" fill="#0a0a0a" opacity="0.45" filter="url(#b1)"/>
<rect x="456.40" y="482.95" width="8.00" height="1.80" rx="2.70" ry="0.90" fill="#0a0a0a" opacity="0.08" filter="url(#b1)"/>
<rect x="354.10" y="495.50" width="57.30" height="15.50" fill="#dedede" stroke="#222" stroke-width="0.8"/>
<rect x="413.70" y="495.50" width="57.80" height="15.50" fill="#dedede" stroke="#222" stroke-width="0.8"/>
<text x="351.60" y="507.10" font-size="9.55" text-anchor="end">p21</text>
<rect x="354.70" y="502.55" width="19.00" height="3.80" rx="5.70" ry="1.90" fill="#0a0a0a" opacity="1" filter="url(#b1)"/>
<rect x="353.70" y="501.75" width="21.00" height="5.40" rx="3.80" ry="2.70" fill="#222" opacity="0.25" filter="url(#b2)"/>
<rect x="372.90" y="501.35" width="19.00" height="4.80" rx="7.20" ry="2.40" fill="#0a0a0a" opacity="1" filter="url(#b1)"/>
<rect x="371.90" y="500.55" width="21.00" height="6.40" rx="4.80" ry="3.20" fill="#222" opacity="0.25" filter="url(#b2)"/>
<rect x="391.35" y="500.45" width="18.50" height="5.20" rx="7.80" ry="2.60" fill="#0a0a0a" opacity="1" filter="url(#b1)"/>
<rect x="390.35" y="499.65" width="20.50" height="6.80" rx="5.20" ry="3.40" fill="#222" opacity="0.25" filter="url(#b2)"/>
<rect x="415.00" y="501.05" width="17.00" height="4.80" rx="7.20" ry="2.40" fill="#0a0a0a" opacity="0.7" filter="url(#b1)"/>
<rect x="414.00" y="500.25" width="19.00" height="6.40" rx="4.80" ry="3.20" fill="#222" opacity="0.17" filter="url(#b2)"/>
<rect x="433.50" y="500.75" width="17.00" height="5.00" rx="7.50" ry="2.50" fill="#0a0a0a" opacity="0.72" filter="url(#b1)"/>
<rect x="432.50" y="499.95" width="19.00" height="6.60" rx="5.00" ry="3.30" fill="#222" opacity="0.18" filter="url(#b2)"/>
<rect x="451.90" y="500.05" width="17.00" height="5.20" rx="7.80" ry="2.60" fill="#0a0a0a" opacity="0.78" filter="url(#b1)"/>
<rect x="450.90" y="499.25" width="19.00" height="6.80" rx="5.20" ry="3.40" fill="#222" opacity="0.20" filter="url(#b2)"/>
<rect x="354.10" y="512.90" width="57.30" height="15.20" fill="#e3e3e3" stroke="#222" stroke-width="0.8"/>
<rect x="413.70" y="512.90" width="57.80" height="15.20" fill="#e3e3e3" stroke="#222" stroke-width="0.8"/>
<text x="351.60" y="524.30" font-size="9.55" text-anchor="end">p27</text>
<rect x="356.70" y="519.30" width="15.00" height="3.20" rx="4.80" ry="1.60" fill="#0a0a0a" opacity="0.62" filter="url(#b1)"/>
<rect x="355.70" y="518.50" width="17.00" height="4.80" rx="3.20" ry="2.40" fill="#222" opacity="0.15" filter="url(#b2)"/>
<rect x="372.90" y="517.80" width="19.00" height="6.20" rx="9.30" ry="3.10" fill="#0a0a0a" opacity="1" filter="url(#b1)"/>
<rect x="371.90" y="517.00" width="21.00" height="7.80" rx="6.20" ry="3.90" fill="#222" opacity="0.25" filter="url(#b2)"/>
<rect x="390.85" y="516.80" width="19.50" height="8.20" rx="9.75" ry="4.10" fill="#0a0a0a" opacity="1" filter="url(#b1)"/>
<rect x="389.85" y="516.00" width="21.50" height="9.80" rx="8.20" ry="4.90" fill="#222" opacity="0.25" filter="url(#b2)"/>
<rect x="416.50" y="519.30" width="14.00" height="3.00" rx="4.50" ry="1.50" fill="#0a0a0a" opacity="0.62" filter="url(#b1)"/>
<rect x="415.50" y="518.50" width="16.00" height="4.60" rx="3.00" ry="2.30" fill="#222" opacity="0.15" filter="url(#b2)"/>
<rect x="434.25" y="518.40" width="15.50" height="4.80" rx="7.20" ry="2.40" fill="#0a0a0a" opacity="0.92" filter="url(#b1)"/>
<rect x="433.25" y="517.60" width="17.50" height="6.40" rx="4.80" ry="3.20" fill="#222" opacity="0.23" filter="url(#b2)"/>
<rect x="452.65" y="518.30" width="15.50" height="5.00" rx="7.50" ry="2.50" fill="#0a0a0a" opacity="0.92" filter="url(#b1)"/>
<rect x="451.65" y="517.50" width="17.50" height="6.60" rx="5.00" ry="3.30" fill="#222" opacity="0.23" filter="url(#b2)"/>
<rect x="354.10" y="530.30" width="57.30" height="15.20" fill="#e9e9e9" stroke="#222" stroke-width="0.8"/>
<rect x="413.70" y="530.30" width="57.80" height="15.20" fill="#e9e9e9" stroke="#222" stroke-width="0.8"/>
<text x="351.60" y="541.80" font-size="9.55" text-anchor="end">pRb</text>
<rect x="356.95" y="536.20" width="14.50" height="3.40" rx="5.10" ry="1.70" fill="#0a0a0a" opacity="0.9" filter="url(#b1)"/>
<rect x="355.95" y="535.40" width="16.50" height="5.00" rx="3.40" ry="2.50" fill="#222" opacity="0.23" filter="url(#b2)"/>
<rect x="374.40" y="535.60" width="16.00" height="4.60" rx="6.90" ry="2.30" fill="#0a0a0a" opacity="1" filter="url(#b1)"/>
<rect x="373.40" y="534.80" width="18.00" height="6.20" rx="4.60" ry="3.10" fill="#222" opacity="0.25" filter="url(#b2)"/>
<rect x="396.10" y="536.90" width="9.00" height="2.00" rx="3.00" ry="1.00" fill="#0a0a0a" opacity="0.08" filter="url(#b1)"/>
<rect x="416.50" y="535.20" width="14.00" height="3.80" rx="5.70" ry="1.90" fill="#0a0a0a" opacity="0.9" filter="url(#b1)"/>
<rect x="415.50" y="534.40" width="16.00" height="5.40" rx="3.80" ry="2.70" fill="#222" opacity="0.23" filter="url(#b2)"/>
<rect x="436.00" y="536.60" width="12.00" height="2.60" rx="3.90" ry="1.30" fill="#0a0a0a" opacity="0.4" filter="url(#b1)"/>
<rect x="455.90" y="537.00" width="9.00" height="1.80" rx="2.70" ry="0.90" fill="#0a0a0a" opacity="0.06" filter="url(#b1)"/>
<rect x="354.10" y="547.90" width="57.30" height="14.10" fill="#e7e7e7" stroke="#222" stroke-width="0.8"/>
<rect x="413.70" y="547.90" width="57.80" height="14.10" fill="#e7e7e7" stroke="#222" stroke-width="0.8"/>
<text x="351.60" y="558.80" font-size="9.55" text-anchor="end">β-Actin</text>
<rect x="355.70" y="552.95" width="17.00" height="3.20" rx="4.80" ry="1.60" fill="#0a0a0a" opacity="0.95" filter="url(#b1)"/>
<rect x="354.70" y="552.15" width="19.00" height="4.80" rx="3.20" ry="2.40" fill="#222" opacity="0.24" filter="url(#b2)"/>
<rect x="374.15" y="553.15" width="16.50" height="3.20" rx="4.80" ry="1.60" fill="#0a0a0a" opacity="0.95" filter="url(#b1)"/>
<rect x="373.15" y="552.35" width="18.50" height="4.80" rx="3.20" ry="2.40" fill="#222" opacity="0.24" filter="url(#b2)"/>
<rect x="392.85" y="553.25" width="15.50" height="3.40" rx="5.10" ry="1.70" fill="#0a0a0a" opacity="0.95" filter="url(#b1)"/>
<rect x="391.85" y="552.45" width="17.50" height="5.00" rx="3.40" ry="2.50" fill="#222" opacity="0.24" filter="url(#b2)"/>
<rect x="415.75" y="553.15" width="15.50" height="3.00" rx="4.50" ry="1.50" fill="#0a0a0a" opacity="0.95" filter="url(#b1)"/>
<rect x="414.75" y="552.35" width="17.50" height="4.60" rx="3.00" ry="2.30" fill="#222" opacity="0.24" filter="url(#b2)"/>
<rect x="434.25" y="553.35" width="15.50" height="3.20" rx="4.80" ry="1.60" fill="#0a0a0a" opacity="0.95" filter="url(#b1)"/>
<rect x="433.25" y="552.55" width="17.50" height="4.80" rx="3.20" ry="2.40" fill="#222" opacity="0.24" filter="url(#b2)"/>
<rect x="452.90" y="552.65" width="15.00" height="3.00" rx="4.50" ry="1.50" fill="#0a0a0a" opacity="0.95" filter="url(#b1)"/>
<rect x="451.90" y="551.85" width="17.00" height="4.60" rx="3.00" ry="2.30" fill="#222" opacity="0.24" filter="url(#b2)"/>
<text x="1.90" y="578.60" font-size="16" font-weight="bold">g</text>
<line x1="25.20" y1="586.70" x2="25.20" y2="662.60" stroke="#000" stroke-width="0.85" />
<line x1="24.80" y1="662.20" x2="132.70" y2="662.20" stroke="#000" stroke-width="0.85" />
<line x1="23.20" y1="662.20" x2="25.20" y2="662.20" stroke="#000" stroke-width="0.7"/>
<text x="22.40" y="664.30" font-size="5.8" text-anchor="end" stroke="#000" stroke-width="0.15">0</text>
<line x1="23.20" y1="650.65" x2="25.20" y2="650.65" stroke="#000" stroke-width="0.7"/>
<text x="22.40" y="652.75" font-size="5.8" text-anchor="end" stroke="#000" stroke-width="0.15">20</text>
<line x1="23.20" y1="639.10" x2="25.20" y2="639.10" stroke="#000" stroke-width="0.7"/>
<text x="22.40" y="641.20" font-size="5.8" text-anchor="end" stroke="#000" stroke-width="0.15">40</text>
<line x1="23.20" y1="627.55" x2="25.20" y2="627.55" stroke="#000" stroke-width="0.7"/>
<text x="22.40" y="629.65" font-size="5.8" text-anchor="end" stroke="#000" stroke-width="0.15">60</text>
<line x1="23.20" y1="616.00" x2="25.20" y2="616.00" stroke="#000" stroke-width="0.7"/>
<text x="22.40" y="618.10" font-size="5.8" text-anchor="end" stroke="#000" stroke-width="0.15">80</text>
<line x1="23.20" y1="604.45" x2="25.20" y2="604.45" stroke="#000" stroke-width="0.7"/>
<text x="22.40" y="606.55" font-size="5.8" text-anchor="end" stroke="#000" stroke-width="0.15">100</text>
<line x1="23.20" y1="592.90" x2="25.20" y2="592.90" stroke="#000" stroke-width="0.7"/>
<text x="22.40" y="595.00" font-size="5.8" text-anchor="end" stroke="#000" stroke-width="0.15">120</text>
<line x1="25.80" y1="662.20" x2="25.80" y2="664.20" stroke="#000" stroke-width="0.7"/>
<text x="25.80" y="670.90" font-size="5.8" text-anchor="middle" stroke="#000" stroke-width="0.15">0.0</text>
<line x1="46.26" y1="662.20" x2="46.26" y2="664.20" stroke="#000" stroke-width="0.7"/>
<text x="46.26" y="670.90" font-size="5.8" text-anchor="middle" stroke="#000" stroke-width="0.15">0.3</text>
<line x1="66.72" y1="662.20" x2="66.72" y2="664.20" stroke="#000" stroke-width="0.7"/>
<text x="66.72" y="670.90" font-size="5.8" text-anchor="middle" stroke="#000" stroke-width="0.15">0.6</text>
<line x1="87.18" y1="662.20" x2="87.18" y2="664.20" stroke="#000" stroke-width="0.7"/>
<text x="87.18" y="670.90" font-size="5.8" text-anchor="middle" stroke="#000" stroke-width="0.15">0.9</text>
<line x1="107.64" y1="662.20" x2="107.64" y2="664.20" stroke="#000" stroke-width="0.7"/>
<text x="107.64" y="670.90" font-size="5.8" text-anchor="middle" stroke="#000" stroke-width="0.15">1.2</text>
<line x1="128.10" y1="662.20" x2="128.10" y2="664.20" stroke="#000" stroke-width="0.7"/>
<text x="128.10" y="670.90" font-size="5.8" text-anchor="middle" stroke="#000" stroke-width="0.15">1.5</text>
<text transform="translate(10.00,625.50) rotate(-90)" font-size="8.1" text-anchor="middle">AGS Cell viability (%)</text>
<text x="78.50" y="682.00" font-size="7.8" text-anchor="middle">log [Cisplatin] (µg/ml)</text>
<polyline points="25.80,600.99 27.25,601.38 28.70,601.76 30.15,602.14 31.60,602.52 33.05,602.89 34.50,603.26 35.94,603.64 37.39,604.02 38.84,604.41 40.29,604.81 41.74,605.22 43.19,605.64 44.64,606.08 46.09,606.53 47.54,607.01 48.99,607.53 50.44,608.08 51.89,608.65 53.34,609.24 54.78,609.84 56.23,610.44 57.68,611.05 59.13,611.65 60.58,612.22 62.03,612.76 63.48,613.31 64.93,613.92 66.38,614.65 67.83,615.52 69.28,616.45 70.73,617.42 72.18,618.45 73.63,619.51 75.07,620.60 76.52,621.73 77.97,622.88 79.42,624.06 80.87,625.26 82.32,626.51 83.77,627.80 85.22,629.13 86.67,630.51 88.12,631.95 89.57,633.45 91.02,635.01 92.47,636.60 93.91,638.23 95.36,639.89 96.81,641.58 98.26,643.28 99.71,645.01 101.16,646.78 102.61,648.57 104.06,650.39 105.51,652.23 106.96,654.10 108.41,656.00 109.86,658.03 111.31,660.12 112.75,662.20" fill="none" stroke="#000" stroke-width="1.0"/>
<polyline points="25.80,604.45 27.20,605.04 28.60,605.73 29.99,606.47 31.39,607.23 32.79,608.02 34.19,608.83 35.59,609.66 36.98,610.50 38.38,611.35 39.78,612.21 41.18,613.09 42.58,613.97 43.98,614.86 45.37,615.77 46.77,616.67 48.17,617.59 49.57,618.51 50.97,619.44 52.36,620.38 53.76,621.32 55.16,622.27 56.56,623.22 57.96,624.18 59.35,625.14 60.75,626.11 62.15,627.09 63.55,628.06 64.95,629.04 66.34,630.03 67.74,631.02 69.14,632.01 70.54,633.01 71.94,634.01 73.34,635.02 74.73,636.03 76.13,637.04 77.53,638.06 78.93,639.07 80.33,640.10 81.72,641.12 83.12,642.15 84.52,643.18 85.92,644.22 87.32,645.25 88.71,646.29 90.11,647.34 91.51,648.38 92.91,649.43 94.31,650.48 95.70,651.53 97.10,652.59 98.50,653.65 99.90,654.71 101.30,655.77 102.70,656.84 104.09,657.91 105.49,658.98 106.89,660.05 108.29,661.12 109.69,662.20" fill="none" stroke="#0000ff" stroke-width="1.0"/>
<polyline points="25.80,604.45 27.19,604.93 28.58,605.53 29.98,606.19 31.37,606.88 32.76,607.60 34.15,608.35 35.55,609.13 36.94,609.92 38.33,610.72 39.72,611.55 41.12,612.38 42.51,613.24 43.90,614.10 45.29,614.97 46.69,615.86 48.08,616.75 49.47,617.66 50.86,618.57 52.26,619.49 53.65,620.42 55.04,621.36 56.43,622.30 57.83,623.26 59.22,624.22 60.61,625.19 62.00,626.16 63.40,627.14 64.79,628.12 66.18,629.12 67.57,630.12 68.96,631.12 70.36,632.13 71.75,633.14 73.14,634.16 74.53,635.19 75.93,636.22 77.32,637.25 78.71,638.29 80.10,639.34 81.50,640.39 82.89,641.44 84.28,642.50 85.67,643.56 87.07,644.62 88.46,645.70 89.85,646.77 91.24,647.85 92.64,648.93 94.03,650.02 95.42,651.11 96.81,652.20 98.21,653.30 99.60,654.40 100.99,655.50 102.38,656.61 103.78,657.72 105.17,658.84 106.56,659.95 107.95,661.08 109.35,662.20" fill="none" stroke="#ff0000" stroke-width="1.0"/>
<circle cx="25.80" cy="604.45" r="1.7" fill="#000"/>
<line x1="66.72" y1="605.61" x2="66.72" y2="616.00" stroke="#000" stroke-width="1" shape-rendering="crispEdges"/>
<line x1="65.32" y1="605.61" x2="68.12" y2="605.61" stroke="#000" stroke-width="1" shape-rendering="crispEdges"/>
<line x1="65.32" y1="616.00" x2="68.12" y2="616.00" stroke="#000" stroke-width="1" shape-rendering="crispEdges"/>
<circle cx="66.72" cy="610.80" r="1.7" fill="#000"/>
<line x1="87.18" y1="626.40" x2="87.18" y2="635.64" stroke="#000" stroke-width="1" shape-rendering="crispEdges"/>
<line x1="85.78" y1="626.40" x2="88.58" y2="626.40" stroke="#000" stroke-width="1" shape-rendering="crispEdges"/>
<line x1="85.78" y1="635.64" x2="88.58" y2="635.64" stroke="#000" stroke-width="1" shape-rendering="crispEdges"/>
<circle cx="87.18" cy="631.02" r="1.7" fill="#000"/>
<line x1="99.46" y1="647.76" x2="99.46" y2="653.54" stroke="#000" stroke-width="1" shape-rendering="crispEdges"/>
<line x1="98.06" y1="647.76" x2="100.86" y2="647.76" stroke="#000" stroke-width="1" shape-rendering="crispEdges"/>
<line x1="98.06" y1="653.54" x2="100.86" y2="653.54" stroke="#000" stroke-width="1" shape-rendering="crispEdges"/>
<circle cx="99.46" cy="650.65" r="1.7" fill="#000"/>
<line x1="107.64" y1="650.07" x2="107.64" y2="658.16" stroke="#000" stroke-width="1" shape-rendering="crispEdges"/>
<line x1="106.24" y1="650.07" x2="109.04" y2="650.07" stroke="#000" stroke-width="1" shape-rendering="crispEdges"/>
<line x1="106.24" y1="658.16" x2="109.04" y2="658.16" stroke="#000" stroke-width="1" shape-rendering="crispEdges"/>
<circle cx="107.64" cy="654.12" r="1.7" fill="#000"/>
<circle cx="114.46" cy="662.20" r="1.7" fill="#000"/>
<line x1="25.80" y1="592.90" x2="25.80" y2="616.00" stroke="#0000ff" stroke-width="1" shape-rendering="crispEdges"/>
<line x1="24.40" y1="592.90" x2="27.20" y2="592.90" stroke="#0000ff" stroke-width="1" shape-rendering="crispEdges"/>
<line x1="24.40" y1="616.00" x2="27.20" y2="616.00" stroke="#0000ff" stroke-width="1" shape-rendering="crispEdges"/>
<rect x="24.20" y="602.85" width="3.20" height="3.20" fill="#0000ff"/>
<line x1="66.72" y1="628.13" x2="66.72" y2="640.83" stroke="#0000ff" stroke-width="1" shape-rendering="crispEdges"/>
<line x1="65.32" y1="628.13" x2="68.12" y2="628.13" stroke="#0000ff" stroke-width="1" shape-rendering="crispEdges"/>
<line x1="65.32" y1="640.83" x2="68.12" y2="640.83" stroke="#0000ff" stroke-width="1" shape-rendering="crispEdges"/>
<rect x="65.12" y="632.88" width="3.20" height="3.20" fill="#0000ff"/>
<line x1="87.18" y1="639.68" x2="87.18" y2="644.30" stroke="#0000ff" stroke-width="1" shape-rendering="crispEdges"/>
<line x1="85.78" y1="639.68" x2="88.58" y2="639.68" stroke="#0000ff" stroke-width="1" shape-rendering="crispEdges"/>
<line x1="85.78" y1="644.30" x2="88.58" y2="644.30" stroke="#0000ff" stroke-width="1" shape-rendering="crispEdges"/>
<rect x="85.58" y="640.39" width="3.20" height="3.20" fill="#0000ff"/>
<line x1="99.46" y1="651.81" x2="99.46" y2="658.74" stroke="#0000ff" stroke-width="1" shape-rendering="crispEdges"/>
<line x1="98.06" y1="651.81" x2="100.86" y2="651.81" stroke="#0000ff" stroke-width="1" shape-rendering="crispEdges"/>
<line x1="98.06" y1="658.74" x2="100.86" y2="658.74" stroke="#0000ff" stroke-width="1" shape-rendering="crispEdges"/>
<rect x="97.86" y="653.67" width="3.20" height="3.20" fill="#0000ff"/>
<line x1="107.64" y1="658.74" x2="107.64" y2="662.20" stroke="#0000ff" stroke-width="1" shape-rendering="crispEdges"/>
<line x1="106.24" y1="658.74" x2="109.04" y2="658.74" stroke="#0000ff" stroke-width="1" shape-rendering="crispEdges"/>
<line x1="106.24" y1="662.20" x2="109.04" y2="662.20" stroke="#0000ff" stroke-width="1" shape-rendering="crispEdges"/>
<rect x="106.04" y="658.87" width="3.20" height="3.20" fill="#0000ff"/>
<line x1="114.46" y1="657.00" x2="114.46" y2="665.09" stroke="#0000ff" stroke-width="1" shape-rendering="crispEdges"/>
<line x1="113.06" y1="657.00" x2="115.86" y2="657.00" stroke="#0000ff" stroke-width="1" shape-rendering="crispEdges"/>
<line x1="113.06" y1="665.09" x2="115.86" y2="665.09" stroke="#0000ff" stroke-width="1" shape-rendering="crispEdges"/>
<rect x="112.86" y="659.45" width="3.20" height="3.20" fill="#0000ff"/>
<line x1="25.80" y1="602.14" x2="25.80" y2="606.76" stroke="#ff0000" stroke-width="1" shape-rendering="crispEdges"/>
<line x1="24.40" y1="602.14" x2="27.20" y2="602.14" stroke="#ff0000" stroke-width="1" shape-rendering="crispEdges"/>
<line x1="24.40" y1="606.76" x2="27.20" y2="606.76" stroke="#ff0000" stroke-width="1" shape-rendering="crispEdges"/>
<path d="M25.80 602.65l1.7 3.1h-3.4z" fill="#ff0000"/>
<line x1="66.72" y1="624.66" x2="66.72" y2="638.52" stroke="#ff0000" stroke-width="1" shape-rendering="crispEdges"/>
<line x1="65.32" y1="624.66" x2="68.12" y2="624.66" stroke="#ff0000" stroke-width="1" shape-rendering="crispEdges"/>
<line x1="65.32" y1="638.52" x2="68.12" y2="638.52" stroke="#ff0000" stroke-width="1" shape-rendering="crispEdges"/>
<path d="M66.72 629.79l1.7 3.1h-3.4z" fill="#ff0000"/>
<line x1="87.18" y1="644.30" x2="87.18" y2="648.92" stroke="#ff0000" stroke-width="1" shape-rendering="crispEdges"/>
<line x1="85.78" y1="644.30" x2="88.58" y2="644.30" stroke="#ff0000" stroke-width="1" shape-rendering="crispEdges"/>
<line x1="85.78" y1="648.92" x2="88.58" y2="648.92" stroke="#ff0000" stroke-width="1" shape-rendering="crispEdges"/>
<path d="M87.18 644.81l1.7 3.1h-3.4z" fill="#ff0000"/>
<line x1="99.46" y1="653.54" x2="99.46" y2="657.00" stroke="#ff0000" stroke-width="1" shape-rendering="crispEdges"/>
<line x1="98.06" y1="653.54" x2="100.86" y2="653.54" stroke="#ff0000" stroke-width="1" shape-rendering="crispEdges"/>
<line x1="98.06" y1="657.00" x2="100.86" y2="657.00" stroke="#ff0000" stroke-width="1" shape-rendering="crispEdges"/>
<path d="M99.46 653.47l1.7 3.1h-3.4z" fill="#ff0000"/>
<line x1="107.64" y1="656.42" x2="107.64" y2="662.20" stroke="#ff0000" stroke-width="1" shape-rendering="crispEdges"/>
<line x1="106.24" y1="656.42" x2="109.04" y2="656.42" stroke="#ff0000" stroke-width="1" shape-rendering="crispEdges"/>
<line x1="106.24" y1="662.20" x2="109.04" y2="662.20" stroke="#ff0000" stroke-width="1" shape-rendering="crispEdges"/>
<path d="M107.64 657.51l1.7 3.1h-3.4z" fill="#ff0000"/>
<text x="61.00" y="641.04" font-size="14" text-anchor="middle" fill="#ff0000" stroke="#ff0000" stroke-width="0.25">*</text>
<text x="71.70" y="636.84" font-size="14" text-anchor="middle" fill="#0000ff" stroke="#0000ff" stroke-width="0.25">*</text>
<text x="81.50" y="656.54" font-size="14" text-anchor="middle" fill="#ff0000" stroke="#ff0000" stroke-width="0.25">*</text>
<line x1="168.30" y1="586.70" x2="168.30" y2="662.60" stroke="#000" stroke-width="0.85" />
<line x1="167.90" y1="662.20" x2="275.80" y2="662.20" stroke="#000" stroke-width="0.85" />
<line x1="166.30" y1="662.20" x2="168.30" y2="662.20" stroke="#000" stroke-width="0.7"/>
<text x="165.50" y="664.30" font-size="5.8" text-anchor="end" stroke="#000" stroke-width="0.15">0</text>
<line x1="166.30" y1="650.65" x2="168.30" y2="650.65" stroke="#000" stroke-width="0.7"/>
<text x="165.50" y="652.75" font-size="5.8" text-anchor="end" stroke="#000" stroke-width="0.15">20</text>
<line x1="166.30" y1="639.10" x2="168.30" y2="639.10" stroke="#000" stroke-width="0.7"/>
<text x="165.50" y="641.20" font-size="5.8" text-anchor="end" stroke="#000" stroke-width="0.15">40</text>
<line x1="166.30" y1="627.55" x2="168.30" y2="627.55" stroke="#000" stroke-width="0.7"/>
<text x="165.50" y="629.65" font-size="5.8" text-anchor="end" stroke="#000" stroke-width="0.15">60</text>
<line x1="166.30" y1="616.00" x2="168.30" y2="616.00" stroke="#000" stroke-width="0.7"/>
<text x="165.50" y="618.10" font-size="5.8" text-anchor="end" stroke="#000" stroke-width="0.15">80</text>
<line x1="166.30" y1="604.45" x2="168.30" y2="604.45" stroke="#000" stroke-width="0.7"/>
<text x="165.50" y="606.55" font-size="5.8" text-anchor="end" stroke="#000" stroke-width="0.15">100</text>
<line x1="166.30" y1="592.90" x2="168.30" y2="592.90" stroke="#000" stroke-width="0.7"/>
<text x="165.50" y="595.00" font-size="5.8" text-anchor="end" stroke="#000" stroke-width="0.15">120</text>
<line x1="168.90" y1="662.20" x2="168.90" y2="664.20" stroke="#000" stroke-width="0.7"/>
<text x="168.90" y="670.90" font-size="5.8" text-anchor="middle" stroke="#000" stroke-width="0.15">0.0</text>
<line x1="189.09" y1="662.20" x2="189.09" y2="664.20" stroke="#000" stroke-width="0.7"/>
<text x="189.09" y="670.90" font-size="5.8" text-anchor="middle" stroke="#000" stroke-width="0.15">0.3</text>
<line x1="209.28" y1="662.20" x2="209.28" y2="664.20" stroke="#000" stroke-width="0.7"/>
<text x="209.28" y="670.90" font-size="5.8" text-anchor="middle" stroke="#000" stroke-width="0.15">0.6</text>
<line x1="229.47" y1="662.20" x2="229.47" y2="664.20" stroke="#000" stroke-width="0.7"/>
<text x="229.47" y="670.90" font-size="5.8" text-anchor="middle" stroke="#000" stroke-width="0.15">0.9</text>
<line x1="249.66" y1="662.20" x2="249.66" y2="664.20" stroke="#000" stroke-width="0.7"/>
<text x="249.66" y="670.90" font-size="5.8" text-anchor="middle" stroke="#000" stroke-width="0.15">1.2</text>
<line x1="269.85" y1="662.20" x2="269.85" y2="664.20" stroke="#000" stroke-width="0.7"/>
<text x="269.85" y="670.90" font-size="5.8" text-anchor="middle" stroke="#000" stroke-width="0.15">1.5</text>
<text transform="translate(153.80,625.50) rotate(-90)" font-size="8.1" text-anchor="middle">MKN28 Cell viability (%)</text>
<text x="222.00" y="682.00" font-size="7.8" text-anchor="middle">log [Cisplatin] (µg/ml)</text>
<polyline points="168.90,602.14 170.36,602.17 171.82,602.23 173.27,602.34 174.73,602.49 176.19,602.67 177.65,602.90 179.11,603.15 180.57,603.45 182.02,603.77 183.48,604.14 184.94,604.53 186.40,604.96 187.86,605.43 189.31,605.92 190.77,606.45 192.23,607.01 193.69,607.61 195.15,608.24 196.61,608.90 198.06,609.59 199.52,610.31 200.98,611.07 202.44,611.85 203.90,612.67 205.35,613.52 206.81,614.40 208.27,615.31 209.73,616.26 211.19,617.23 212.65,618.23 214.10,619.27 215.56,620.33 217.02,621.43 218.48,622.55 219.94,623.71 221.39,624.89 222.85,626.11 224.31,627.36 225.77,628.63 227.23,629.94 228.68,631.27 230.14,632.64 231.60,634.03 233.06,635.46 234.52,636.91 235.98,638.39 237.43,639.90 238.89,641.45 240.35,643.02 241.81,644.62 243.27,646.24 244.72,647.90 246.18,649.59 247.64,651.30 249.10,653.05 250.56,654.82 252.02,656.62 253.47,658.45 254.93,660.31 256.39,662.20" fill="none" stroke="#000" stroke-width="1.0"/>
<polyline points="168.90,604.45 170.32,604.52 171.75,604.66 173.17,604.86 174.60,605.11 176.02,605.41 177.45,605.74 178.87,606.12 180.30,606.53 181.72,606.97 183.15,607.45 184.57,607.96 185.99,608.51 187.42,609.08 188.84,609.68 190.27,610.31 191.69,610.97 193.12,611.66 194.54,612.37 195.97,613.11 197.39,613.88 198.81,614.67 200.24,615.48 201.66,616.32 203.09,617.18 204.51,618.07 205.94,618.98 207.36,619.92 208.79,620.87 210.21,621.85 211.64,622.85 213.06,623.87 214.48,624.92 215.91,625.99 217.33,627.07 218.76,628.18 220.18,629.31 221.61,630.46 223.03,631.63 224.46,632.82 225.88,634.03 227.31,635.26 228.73,636.51 230.15,637.78 231.58,639.07 233.00,640.38 234.43,641.70 235.85,643.05 237.28,644.41 238.70,645.80 240.13,647.20 241.55,648.62 242.97,650.05 244.40,651.51 245.82,652.98 247.25,654.48 248.67,655.99 250.10,657.51 251.52,659.06 252.95,660.62 254.37,662.20" fill="none" stroke="#0000ff" stroke-width="1.0"/>
<polyline points="168.90,605.03 170.27,605.21 171.64,605.52 173.01,605.89 174.37,606.32 175.74,606.79 177.11,607.30 178.48,607.85 179.85,608.43 181.22,609.04 182.58,609.68 183.95,610.35 185.32,611.03 186.69,611.75 188.06,612.48 189.43,613.24 190.79,614.01 192.16,614.81 193.53,615.62 194.90,616.46 196.27,617.31 197.64,618.18 199.01,619.06 200.37,619.96 201.74,620.88 203.11,621.81 204.48,622.76 205.85,623.72 207.22,624.70 208.58,625.69 209.95,626.69 211.32,627.71 212.69,628.74 214.06,629.78 215.43,630.84 216.80,631.91 218.16,632.99 219.53,634.08 220.90,635.19 222.27,636.31 223.64,637.44 225.01,638.58 226.37,639.73 227.74,640.89 229.11,642.06 230.48,643.25 231.85,644.44 233.22,645.64 234.58,646.86 235.95,648.09 237.32,649.32 238.69,650.57 240.06,651.82 241.43,653.09 242.80,654.36 244.16,655.64 245.53,656.94 246.90,658.24 248.27,659.55 249.64,660.87 251.01,662.20" fill="none" stroke="#ff0000" stroke-width="1.0"/>
<line x1="168.90" y1="601.56" x2="168.90" y2="607.34" stroke="#000" stroke-width="1" shape-rendering="crispEdges"/>
<line x1="167.50" y1="601.56" x2="170.30" y2="601.56" stroke="#000" stroke-width="1" shape-rendering="crispEdges"/>
<line x1="167.50" y1="607.34" x2="170.30" y2="607.34" stroke="#000" stroke-width="1" shape-rendering="crispEdges"/>
<circle cx="168.90" cy="604.45" r="1.7" fill="#000"/>
<line x1="209.28" y1="603.87" x2="209.28" y2="621.20" stroke="#000" stroke-width="1" shape-rendering="crispEdges"/>
<line x1="207.88" y1="603.87" x2="210.68" y2="603.87" stroke="#000" stroke-width="1" shape-rendering="crispEdges"/>
<line x1="207.88" y1="621.20" x2="210.68" y2="621.20" stroke="#000" stroke-width="1" shape-rendering="crispEdges"/>
<circle cx="209.28" cy="612.54" r="1.7" fill="#000"/>
<line x1="229.47" y1="631.59" x2="229.47" y2="633.90" stroke="#000" stroke-width="1" shape-rendering="crispEdges"/>
<line x1="228.07" y1="631.59" x2="230.87" y2="631.59" stroke="#000" stroke-width="1" shape-rendering="crispEdges"/>
<line x1="228.07" y1="633.90" x2="230.87" y2="633.90" stroke="#000" stroke-width="1" shape-rendering="crispEdges"/>
<circle cx="229.47" cy="632.75" r="1.7" fill="#000"/>
<line x1="241.58" y1="640.83" x2="241.58" y2="646.61" stroke="#000" stroke-width="1" shape-rendering="crispEdges"/>
<line x1="240.18" y1="640.83" x2="242.98" y2="640.83" stroke="#000" stroke-width="1" shape-rendering="crispEdges"/>
<line x1="240.18" y1="646.61" x2="242.98" y2="646.61" stroke="#000" stroke-width="1" shape-rendering="crispEdges"/>
<circle cx="241.58" cy="643.72" r="1.7" fill="#000"/>
<line x1="249.66" y1="654.12" x2="249.66" y2="656.43" stroke="#000" stroke-width="1" shape-rendering="crispEdges"/>
<line x1="248.26" y1="654.12" x2="251.06" y2="654.12" stroke="#000" stroke-width="1" shape-rendering="crispEdges"/>
<line x1="248.26" y1="656.43" x2="251.06" y2="656.43" stroke="#000" stroke-width="1" shape-rendering="crispEdges"/>
<circle cx="249.66" cy="655.27" r="1.7" fill="#000"/>
<circle cx="256.39" cy="662.20" r="1.7" fill="#000"/>
<line x1="168.90" y1="600.41" x2="168.90" y2="608.49" stroke="#0000ff" stroke-width="1" shape-rendering="crispEdges"/>
<line x1="167.50" y1="600.41" x2="170.30" y2="600.41" stroke="#0000ff" stroke-width="1" shape-rendering="crispEdges"/>
<line x1="167.50" y1="608.49" x2="170.30" y2="608.49" stroke="#0000ff" stroke-width="1" shape-rendering="crispEdges"/>
<rect x="167.30" y="602.85" width="3.20" height="3.20" fill="#0000ff"/>
<line x1="209.28" y1="621.20" x2="209.28" y2="624.66" stroke="#0000ff" stroke-width="1" shape-rendering="crispEdges"/>
<line x1="207.88" y1="621.20" x2="210.68" y2="621.20" stroke="#0000ff" stroke-width="1" shape-rendering="crispEdges"/>
<line x1="207.88" y1="624.66" x2="210.68" y2="624.66" stroke="#0000ff" stroke-width="1" shape-rendering="crispEdges"/>
<rect x="207.68" y="621.33" width="3.20" height="3.20" fill="#0000ff"/>
<line x1="229.47" y1="633.33" x2="229.47" y2="637.94" stroke="#0000ff" stroke-width="1" shape-rendering="crispEdges"/>
<line x1="228.07" y1="633.33" x2="230.87" y2="633.33" stroke="#0000ff" stroke-width="1" shape-rendering="crispEdges"/>
<line x1="228.07" y1="637.94" x2="230.87" y2="637.94" stroke="#0000ff" stroke-width="1" shape-rendering="crispEdges"/>
<rect x="227.87" y="634.03" width="3.20" height="3.20" fill="#0000ff"/>
<line x1="241.58" y1="640.83" x2="241.58" y2="648.92" stroke="#0000ff" stroke-width="1" shape-rendering="crispEdges"/>
<line x1="240.18" y1="640.83" x2="242.98" y2="640.83" stroke="#0000ff" stroke-width="1" shape-rendering="crispEdges"/>
<line x1="240.18" y1="648.92" x2="242.98" y2="648.92" stroke="#0000ff" stroke-width="1" shape-rendering="crispEdges"/>
<rect x="239.98" y="643.27" width="3.20" height="3.20" fill="#0000ff"/>
<line x1="249.66" y1="655.27" x2="249.66" y2="657.58" stroke="#0000ff" stroke-width="1" shape-rendering="crispEdges"/>
<line x1="248.26" y1="655.27" x2="251.06" y2="655.27" stroke="#0000ff" stroke-width="1" shape-rendering="crispEdges"/>
<line x1="248.26" y1="657.58" x2="251.06" y2="657.58" stroke="#0000ff" stroke-width="1" shape-rendering="crispEdges"/>
<rect x="248.06" y="654.83" width="3.20" height="3.20" fill="#0000ff"/>
<line x1="168.90" y1="602.72" x2="168.90" y2="607.34" stroke="#ff0000" stroke-width="1" shape-rendering="crispEdges"/>
<line x1="167.50" y1="602.72" x2="170.30" y2="602.72" stroke="#ff0000" stroke-width="1" shape-rendering="crispEdges"/>
<line x1="167.50" y1="607.34" x2="170.30" y2="607.34" stroke="#ff0000" stroke-width="1" shape-rendering="crispEdges"/>
<path d="M168.90 603.23l1.7 3.1h-3.4z" fill="#ff0000"/>
<line x1="209.28" y1="623.51" x2="209.28" y2="626.97" stroke="#ff0000" stroke-width="1" shape-rendering="crispEdges"/>
<line x1="207.88" y1="623.51" x2="210.68" y2="623.51" stroke="#ff0000" stroke-width="1" shape-rendering="crispEdges"/>
<line x1="207.88" y1="626.97" x2="210.68" y2="626.97" stroke="#ff0000" stroke-width="1" shape-rendering="crispEdges"/>
<path d="M209.28 623.44l1.7 3.1h-3.4z" fill="#ff0000"/>
<line x1="229.47" y1="640.25" x2="229.47" y2="646.03" stroke="#ff0000" stroke-width="1" shape-rendering="crispEdges"/>
<line x1="228.07" y1="640.25" x2="230.87" y2="640.25" stroke="#ff0000" stroke-width="1" shape-rendering="crispEdges"/>
<line x1="228.07" y1="646.03" x2="230.87" y2="646.03" stroke="#ff0000" stroke-width="1" shape-rendering="crispEdges"/>
<path d="M229.47 641.34l1.7 3.1h-3.4z" fill="#ff0000"/>
<line x1="241.58" y1="649.50" x2="241.58" y2="652.96" stroke="#ff0000" stroke-width="1" shape-rendering="crispEdges"/>
<line x1="240.18" y1="649.50" x2="242.98" y2="649.50" stroke="#ff0000" stroke-width="1" shape-rendering="crispEdges"/>
<line x1="240.18" y1="652.96" x2="242.98" y2="652.96" stroke="#ff0000" stroke-width="1" shape-rendering="crispEdges"/>
<path d="M241.58 649.43l1.7 3.1h-3.4z" fill="#ff0000"/>
<line x1="249.66" y1="659.31" x2="249.66" y2="662.78" stroke="#ff0000" stroke-width="1" shape-rendering="crispEdges"/>
<line x1="248.26" y1="659.31" x2="251.06" y2="659.31" stroke="#ff0000" stroke-width="1" shape-rendering="crispEdges"/>
<line x1="248.26" y1="662.78" x2="251.06" y2="662.78" stroke="#ff0000" stroke-width="1" shape-rendering="crispEdges"/>
<path d="M249.66 659.25l1.7 3.1h-3.4z" fill="#ff0000"/>
<text x="222.60" y="653.14" font-size="14" text-anchor="middle" fill="#ff0000" stroke="#ff0000" stroke-width="0.25">*</text>
<line x1="224.50" y1="589.80" x2="231.50" y2="589.80" stroke="#000" stroke-width="1" shape-rendering="crispEdges"/>
<circle cx="228" cy="589.8" r="1.7" fill="#000"/>
<text x="235.70" y="592.80" font-size="8.1">siScramble</text>
<line x1="224.50" y1="598.50" x2="231.50" y2="598.50" stroke="#0000ff" stroke-width="1" shape-rendering="crispEdges"/>
<rect x="226.60" y="597.10" width="2.80" height="2.80" fill="#0000ff"/>
<text x="235.70" y="601.50" font-size="8.1">siFGF18-1</text>
<line x1="224.50" y1="607.20" x2="231.50" y2="607.20" stroke="#ff0000" stroke-width="1" shape-rendering="crispEdges"/>
<path d="M228 605.40l1.7 3.1h-3.4z" fill="#ff0000"/>
<text x="235.70" y="610.20" font-size="8.1">siFGF18-2</text>
<rect x="287.80" y="589.40" width="92.80" height="18.60" fill="#4472c4"/>
<rect x="287.80" y="608.00" width="92.80" height="53.00" fill="#fff" stroke="#9db4e0" stroke-width="0.9"/>
<line x1="287.80" y1="625.40" x2="380.60" y2="625.40" stroke="#9db4e0" stroke-width="1" shape-rendering="crispEdges"/>
<line x1="287.80" y1="643.20" x2="380.60" y2="643.20" stroke="#9db4e0" stroke-width="1" shape-rendering="crispEdges"/>
<rect x="287.80" y="589.40" width="92.80" height="71.60" fill="none" stroke="#9db4e0" stroke-width="0.9"/>
<text x="315.40" y="601.80" font-size="9.5" text-anchor="middle" fill="#fff">AGS</text>
<text x="361.4" y="601.8" font-size="9.5" text-anchor="middle" fill="#fff">IC<tspan font-size="6.4" dy="2">50</tspan></text>
<text x="315.30" y="619.60" font-size="9.15" text-anchor="middle">siScramble</text>
<text x="361.40" y="619.60" font-size="9.4" text-anchor="middle">29.43</text>
<text x="315.30" y="637.20" font-size="9.15" text-anchor="middle">siFGF18-1</text>
<text x="361.40" y="637.20" font-size="9.4" text-anchor="middle">4.60</text>
<text x="315.30" y="655.00" font-size="9.15" text-anchor="middle">siFGF18-2</text>
<text x="361.40" y="655.00" font-size="9.4" text-anchor="middle">4.36</text>
<rect x="383.00" y="589.40" width="92.50" height="18.60" fill="#4472c4"/>
<rect x="383.00" y="608.00" width="92.50" height="53.00" fill="#fff" stroke="#9db4e0" stroke-width="0.9"/>
<line x1="383.00" y1="625.40" x2="475.50" y2="625.40" stroke="#9db4e0" stroke-width="1" shape-rendering="crispEdges"/>
<line x1="383.00" y1="643.20" x2="475.50" y2="643.20" stroke="#9db4e0" stroke-width="1" shape-rendering="crispEdges"/>
<rect x="383.00" y="589.40" width="92.50" height="71.60" fill="none" stroke="#9db4e0" stroke-width="0.9"/>
<text x="411.40" y="601.80" font-size="9.5" text-anchor="middle" fill="#fff">MKN28</text>
<text x="457.7" y="601.8" font-size="9.5" text-anchor="middle" fill="#fff">IC<tspan font-size="6.4" dy="2">50</tspan></text>
<text x="411.30" y="619.60" font-size="9.15" text-anchor="middle">siScramble</text>
<text x="457.70" y="619.60" font-size="9.4" text-anchor="middle">31.79</text>
<text x="411.30" y="637.20" font-size="9.15" text-anchor="middle">siFGF18-1</text>
<text x="457.70" y="637.20" font-size="9.4" text-anchor="middle">16.40</text>
<text x="411.30" y="655.00" font-size="9.15" text-anchor="middle">siFGF18-2</text>
<text x="457.70" y="655.00" font-size="9.4" text-anchor="middle">8.47</text>
</svg>
</body></html>
